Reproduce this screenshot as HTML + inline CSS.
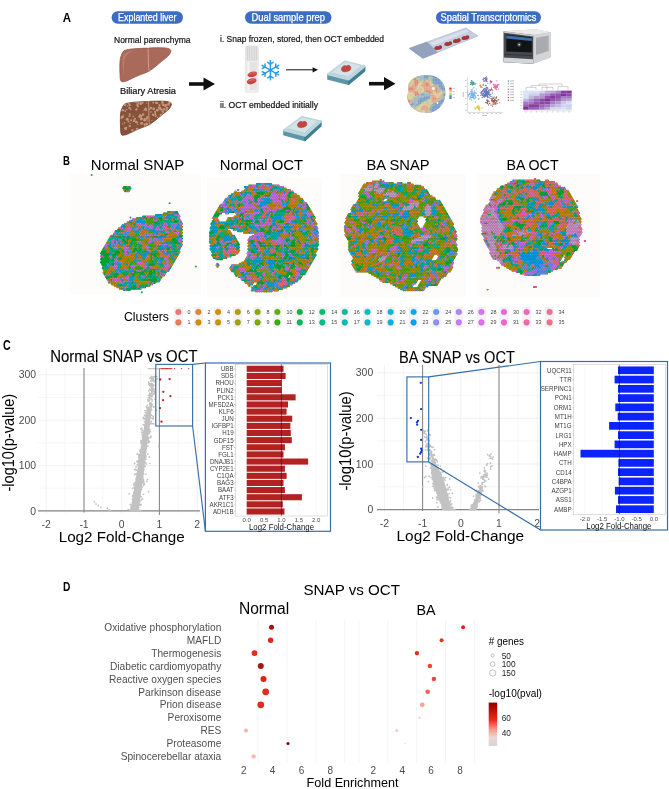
<!DOCTYPE html>
<html><head><meta charset="utf-8"><title>Figure</title>
<style>html,body{margin:0;padding:0;background:#fff}svg{display:block}text{font-family:'Liberation Sans', sans-serif;white-space:pre}</style>
</head><body>
<svg width="669" height="789" viewBox="0 0 669 789">
<rect width="669" height="789" fill="#fff"/>
<g id="panelA"><text x="62.8" y="22.0" font-size="13.5" font-weight="bold" textLength="8.3" lengthAdjust="spacingAndGlyphs" fill="#000">A</text><rect x="111.6" y="11.3" width="71.4" height="12.399999999999999" rx="6.199999999999999" fill="#3d6dc3"/><text x="118.1" y="21.0" font-size="10.2" textLength="58.4" lengthAdjust="spacingAndGlyphs" fill="#fff" stroke="#fff" stroke-width="0.25">Explanted liver</text><rect x="245" y="11.3" width="86.5" height="12.399999999999999" rx="6.199999999999999" fill="#3d6dc3"/><text x="251.5" y="21.0" font-size="10.2" textLength="73.5" lengthAdjust="spacingAndGlyphs" fill="#fff" stroke="#fff" stroke-width="0.25">Dual sample prep</text><rect x="436" y="11.3" width="105" height="12.399999999999999" rx="6.199999999999999" fill="#3d6dc3"/><text x="440.6" y="21.0" font-size="10.2" textLength="95.8" lengthAdjust="spacingAndGlyphs" fill="#fff" stroke="#fff" stroke-width="0.25">Spatial Transcriptomics</text><text x="114.0" y="42.7" font-size="9.2" textLength="76.5" lengthAdjust="spacingAndGlyphs" fill="#111" stroke="#111" stroke-width="0.2">Normal parenchyma</text><g transform="translate(120.1 47.6)"><path d="M3.8,3.2 C8,1 20,0.8 27.5,0.5 L28,1.3 L28.6,0.4 C36,0 43,0 47,0.6 C50,1.2 51.2,2.6 50.7,4 C50,6.5 48,8.8 45.6,10.5 C43,12.4 40.5,14.6 38,16.6 C35.5,18.8 33,21 30.4,22.6 C27.5,24.5 24.5,25.6 21.5,26.6 C17,28.3 12.5,30.5 8.9,32.3 C6,33.7 3,34.6 1.3,34 C0,33 0,30 0,27.9 C-0.3,24 -0.3,19 -0.2,15.2 C0,12 0.4,9.5 1.3,7.6 C2,5.8 2.7,4.2 3.8,3.2 Z" fill="#a96a5b" stroke="#94584a" stroke-width="0.8"/><path d="M3,9 C4,5.5 8,3.5 14,3 C9,5 5.5,7.5 4.5,12 C3.8,16 3.6,22 4,28 C2.6,23 2.2,14 3,9 Z" fill="#c08575" opacity="0.7"/><path d="M28,1.2 C28.2,8 28.2,15 28.5,20 C28.7,22 29.5,23 29.2,24.6" fill="none" stroke="#d9a58c" stroke-width="0.9"/></g><text x="120.0" y="93.7" font-size="9.2" textLength="56.0" lengthAdjust="spacingAndGlyphs" fill="#111" stroke="#111" stroke-width="0.2">Biliary Atresia</text><g transform="translate(120.6 101)"><path d="M3.8,3.2 C8,1 20,0.8 27.5,0.5 L28,1.3 L28.6,0.4 C36,0 43,0 47,0.6 C50,1.2 51.2,2.6 50.7,4 C50,6.5 48,8.8 45.6,10.5 C43,12.4 40.5,14.6 38,16.6 C35.5,18.8 33,21 30.4,22.6 C27.5,24.5 24.5,25.6 21.5,26.6 C17,28.3 12.5,30.5 8.9,32.3 C6,33.7 3,34.6 1.3,34 C0,33 0,30 0,27.9 C-0.3,24 -0.3,19 -0.2,15.2 C0,12 0.4,9.5 1.3,7.6 C2,5.8 2.7,4.2 3.8,3.2 Z" fill="#86523a" stroke="#74442e" stroke-width="0.8"/><clipPath id="lv2"><path d="M3.8,3.2 C8,1 20,0.8 27.5,0.5 L28,1.3 L28.6,0.4 C36,0 43,0 47,0.6 C50,1.2 51.2,2.6 50.7,4 C50,6.5 48,8.8 45.6,10.5 C43,12.4 40.5,14.6 38,16.6 C35.5,18.8 33,21 30.4,22.6 C27.5,24.5 24.5,25.6 21.5,26.6 C17,28.3 12.5,30.5 8.9,32.3 C6,33.7 3,34.6 1.3,34 C0,33 0,30 0,27.9 C-0.3,24 -0.3,19 -0.2,15.2 C0,12 0.4,9.5 1.3,7.6 C2,5.8 2.7,4.2 3.8,3.2 Z"/></clipPath><g clip-path="url(#lv2)" fill="#c4977a"><circle cx="48.8" cy="31.3" r="0.7"/><circle cx="5.2" cy="27.7" r="1.3"/><circle cx="34.5" cy="10.9" r="1.1"/><circle cx="31.3" cy="19.6" r="0.7"/><circle cx="22.5" cy="13.6" r="1.3"/><circle cx="50.7" cy="31.4" r="1.1"/><circle cx="23.2" cy="9.6" r="0.6"/><circle cx="2.4" cy="15.9" r="0.9"/><circle cx="20.0" cy="29.5" r="1.1"/><circle cx="29.0" cy="8.6" r="0.6"/><circle cx="17.3" cy="5.4" r="1.1"/><circle cx="50.9" cy="22.6" r="0.8"/><circle cx="45.7" cy="26.5" r="1.3"/><circle cx="46.3" cy="25.4" r="1.3"/><circle cx="18.7" cy="32.4" r="1.5"/><circle cx="9.1" cy="25.1" r="1.2"/><circle cx="24.1" cy="18.0" r="1.0"/><circle cx="47.2" cy="17.0" r="1.3"/><circle cx="18.7" cy="29.3" r="1.4"/><circle cx="24.1" cy="19.2" r="1.4"/><circle cx="37.2" cy="16.6" r="0.8"/><circle cx="17.2" cy="23.4" r="0.7"/><circle cx="46.4" cy="9.6" r="1.4"/><circle cx="16.5" cy="31.6" r="1.2"/><circle cx="26.2" cy="17.6" r="1.2"/><circle cx="30.4" cy="11.0" r="0.8"/><circle cx="26.6" cy="30.9" r="1.2"/><circle cx="4.8" cy="27.3" r="1.3"/><circle cx="46.4" cy="7.1" r="1.3"/><circle cx="3.9" cy="21.9" r="0.8"/><circle cx="12.3" cy="29.0" r="0.7"/><circle cx="27.1" cy="28.3" r="0.8"/><circle cx="11.5" cy="29.2" r="1.0"/><circle cx="36.8" cy="2.0" r="0.9"/><circle cx="9.6" cy="22.5" r="0.7"/><circle cx="48.7" cy="1.8" r="1.3"/><circle cx="2.1" cy="9.2" r="1.3"/><circle cx="8.9" cy="6.9" r="1.2"/><circle cx="20.3" cy="2.4" r="1.5"/><circle cx="8.6" cy="2.2" r="0.9"/><circle cx="31.8" cy="24.8" r="0.7"/><circle cx="17.9" cy="2.0" r="1.0"/><circle cx="39.3" cy="24.7" r="1.4"/><circle cx="38.8" cy="28.6" r="1.2"/><circle cx="24.6" cy="8.2" r="1.2"/><circle cx="16.8" cy="4.3" r="1.0"/><circle cx="44.7" cy="5.1" r="1.1"/><circle cx="20.6" cy="17.5" r="0.7"/><circle cx="49.0" cy="9.3" r="1.1"/><circle cx="22.0" cy="1.6" r="1.1"/><circle cx="8.0" cy="2.8" r="0.6"/><circle cx="9.1" cy="4.1" r="1.2"/><circle cx="26.4" cy="32.5" r="1.4"/><circle cx="50.7" cy="8.4" r="1.0"/><circle cx="13.5" cy="19.9" r="1.2"/><circle cx="41.0" cy="23.7" r="0.8"/><circle cx="22.2" cy="17.8" r="0.6"/><circle cx="2.8" cy="14.1" r="0.7"/><circle cx="37.2" cy="8.7" r="0.7"/><circle cx="10.1" cy="8.4" r="0.8"/><circle cx="27.0" cy="15.9" r="0.9"/><circle cx="33.1" cy="7.8" r="1.4"/><circle cx="49.2" cy="24.3" r="1.0"/><circle cx="26.6" cy="19.6" r="0.6"/><circle cx="21.9" cy="17.8" r="0.8"/><circle cx="5.7" cy="26.7" r="0.9"/><circle cx="27.0" cy="30.5" r="1.1"/><circle cx="15.5" cy="32.5" r="0.9"/><circle cx="2.0" cy="22.9" r="0.7"/><circle cx="16.3" cy="27.9" r="1.2"/><circle cx="1.8" cy="15.4" r="1.0"/><circle cx="25.3" cy="7.7" r="1.1"/><circle cx="4.7" cy="10.1" r="0.9"/><circle cx="47.8" cy="3.4" r="1.3"/><circle cx="10.6" cy="19.3" r="1.0"/><circle cx="24.2" cy="25.1" r="1.0"/><circle cx="7.1" cy="4.9" r="0.7"/><circle cx="43.5" cy="21.5" r="1.5"/><circle cx="35.6" cy="1.8" r="1.2"/><circle cx="39.9" cy="24.2" r="1.0"/><circle cx="18.9" cy="15.6" r="1.3"/><circle cx="14.4" cy="17.8" r="1.0"/><circle cx="48.7" cy="26.7" r="1.4"/><circle cx="42.8" cy="10.5" r="0.8"/><circle cx="25.4" cy="9.3" r="1.0"/><circle cx="35.0" cy="30.4" r="1.1"/><circle cx="41.9" cy="4.1" r="0.9"/><circle cx="50.9" cy="5.7" r="1.0"/><circle cx="4.3" cy="3.8" r="1.4"/><circle cx="50.4" cy="21.7" r="0.7"/><circle cx="15.8" cy="8.4" r="1.2"/><circle cx="35.1" cy="15.0" r="1.1"/><circle cx="6.6" cy="18.3" r="1.5"/><circle cx="38.8" cy="4.1" r="1.1"/><circle cx="36.8" cy="9.2" r="1.4"/><circle cx="24.0" cy="23.5" r="1.0"/><circle cx="50.8" cy="26.1" r="1.1"/><circle cx="8.2" cy="15.1" r="0.6"/><circle cx="30.8" cy="29.2" r="0.8"/><circle cx="26.5" cy="16.4" r="1.0"/><circle cx="36.5" cy="31.0" r="1.2"/><circle cx="24.6" cy="31.8" r="0.9"/><circle cx="38.3" cy="22.1" r="1.3"/><circle cx="43.6" cy="8.2" r="1.2"/><circle cx="21.1" cy="22.3" r="1.5"/><circle cx="32.7" cy="1.4" r="1.0"/><circle cx="36.6" cy="29.3" r="1.2"/><circle cx="41.8" cy="1.5" r="1.4"/><circle cx="37.5" cy="20.4" r="1.4"/><circle cx="45.2" cy="4.2" r="1.3"/><circle cx="39.4" cy="7.4" r="1.3"/><circle cx="30.3" cy="7.1" r="1.3"/><circle cx="7.9" cy="20.6" r="1.0"/><circle cx="13.7" cy="19.1" r="1.0"/><circle cx="11.2" cy="31.9" r="0.7"/><circle cx="1.2" cy="16.5" r="1.4"/><circle cx="33.9" cy="25.1" r="1.0"/><circle cx="34.7" cy="11.7" r="0.8"/><circle cx="26.1" cy="1.9" r="0.7"/><circle cx="38.7" cy="6.6" r="1.3"/><circle cx="40.2" cy="13.9" r="1.2"/><circle cx="40.4" cy="28.6" r="0.7"/><circle cx="9.1" cy="13.2" r="1.0"/><circle cx="15.7" cy="1.3" r="1.1"/><circle cx="49.3" cy="12.7" r="1.1"/><circle cx="20.1" cy="15.2" r="1.4"/><circle cx="16.4" cy="21.8" r="1.0"/><circle cx="27.9" cy="30.3" r="0.7"/><circle cx="42.2" cy="10.7" r="1.2"/><circle cx="40.8" cy="21.9" r="1.0"/><circle cx="43.0" cy="4.0" r="1.2"/><circle cx="20.6" cy="18.0" r="1.4"/><circle cx="40.9" cy="21.1" r="0.9"/><circle cx="12.6" cy="15.6" r="0.8"/><circle cx="14.9" cy="31.6" r="0.7"/><circle cx="41.9" cy="13.1" r="0.9"/><circle cx="16.9" cy="3.5" r="1.0"/><circle cx="9.3" cy="15.1" r="0.9"/><circle cx="45.7" cy="30.5" r="1.0"/><circle cx="33.0" cy="30.7" r="0.9"/><circle cx="6.0" cy="8.6" r="0.8"/><circle cx="34.9" cy="13.0" r="0.9"/><circle cx="40.8" cy="8.5" r="1.3"/><circle cx="32.6" cy="13.8" r="1.3"/><circle cx="18.1" cy="29.1" r="1.4"/><circle cx="26.1" cy="23.1" r="1.5"/><circle cx="38.1" cy="25.0" r="1.4"/><circle cx="47.8" cy="25.1" r="1.5"/><circle cx="15.6" cy="20.9" r="1.2"/><circle cx="19.4" cy="13.6" r="0.8"/></g><path d="M28,1.2 C28.2,8 28.2,15 28.5,20 C28.7,22 29.5,23 29.2,24.6" fill="none" stroke="#c9a882" stroke-width="0.9"/></g><path d="M189,82.2 L204.5,82.2 L204.5,85.8 L189,85.8 Z" fill="#111"/><path d="M203.5,77.4 L215,84 L203.5,90.6 Z" fill="#111"/><text x="220.0" y="42.4" font-size="9.2" textLength="164.0" lengthAdjust="spacingAndGlyphs" fill="#111" stroke="#111" stroke-width="0.2">i. Snap frozen, stored, then OCT embedded</text><g transform="translate(245.3 45.8)"><rect x="0" y="0" width="13" height="46.5" rx="1.6" fill="#efefef" stroke="#dadada" stroke-width="0.5"/><rect x="0.2" y="0.2" width="12.6" height="15" rx="1.4" fill="#e2e2e2"/><rect x="1.6" y="1" width="0.8" height="13" fill="#d2d2d2"/><rect x="3.9" y="1" width="0.8" height="13" fill="#d2d2d2"/><rect x="6.2" y="1" width="0.8" height="13" fill="#d2d2d2"/><rect x="8.5" y="1" width="0.8" height="13" fill="#d2d2d2"/><rect x="10.8" y="1" width="0.8" height="13" fill="#d2d2d2"/><rect x="1.2" y="16" width="10.6" height="28" rx="1" fill="#e4e4e4"/><rect x="2" y="16" width="2.2" height="28" fill="#f6f6f6"/><path d="M2.2,29 C3.5,25.6 10.5,24.6 11.6,27 C12.2,29.6 9,31 6.5,31.2 C4.2,31.4 2,31 2.2,29 Z" fill="#c9453f"/><path d="M1.6,35.6 C2.6,32.4 9.6,31.6 11,33.6 C12,36 9,38.2 6,38.4 C3.6,38.6 1.4,37.8 1.6,35.6 Z" fill="#c9453f"/><path d="M3.4,28.6 C5.5,27 9,26.6 10.6,27.6 M3,35.6 C5,34 8.4,33.6 10,34.4" fill="none" stroke="#e58a84" stroke-width="0.7"/></g><g stroke="#2a9ee6" stroke-width="1.5" stroke-linecap="round" fill="none"><path d="M270.4,70.1 L270.4,79.7"/><path d="M270.4,76.1 L273.1,77.9"/><path d="M270.4,76.1 L267.7,77.9"/><path d="M270.4,70.1 L262.1,74.9"/><path d="M265.2,73.1 L265.0,76.3"/><path d="M265.2,73.1 L262.3,71.7"/><path d="M270.4,70.1 L262.1,65.3"/><path d="M265.2,67.1 L262.3,68.5"/><path d="M265.2,67.1 L265.0,63.9"/><path d="M270.4,70.1 L270.4,60.5"/><path d="M270.4,64.1 L267.7,62.3"/><path d="M270.4,64.1 L273.1,62.3"/><path d="M270.4,70.1 L278.7,65.3"/><path d="M275.6,67.1 L275.8,63.9"/><path d="M275.6,67.1 L278.5,68.5"/><path d="M270.4,70.1 L278.7,74.9"/><path d="M275.6,73.1 L278.5,71.7"/><path d="M275.6,73.1 L275.8,76.3"/></g><path d="M286,69.8 H314" stroke="#111" stroke-width="1"/><path d="M312.6,67.2 L318,69.8 L312.6,72.4 Z" fill="#111"/><g stroke-linejoin="round"><path d="M328.0,74.4 L348.6,79.6 L348.6,84.2 L328.0,79.0Z" fill="#5b97a8" stroke="#5b97a8" stroke-width="1.6"/><path d="M348.6,79.6 L364.6,66.4 L364.6,71.0 L348.6,84.2Z" fill="#3f7f92" stroke="#3f7f92" stroke-width="1.6"/><path d="M328.0,74.4 L345.0,61.4 L364.6,66.4 L348.6,79.6Z" fill="#bdd5db" stroke="#bdd5db" stroke-width="2"/><path d="M331.7,73.0 L345.3,62.6 L360.9,66.6 L348.1,77.2Z" fill="#d3e4e8" stroke="#d3e4e8" stroke-width="1.2"/><path d="M331.7,73.0 L348.1,77.2 L360.9,66.6" fill="none" stroke="#9dbdc6" stroke-width="0.6"/><path d="M341.4,69.7 C341.0,66.7 344.6,64.7 346.4,66.1 C348.2,64.3 351.4,65.9 350.8,68.7 C350.2,71.1 346.6,71.9 344.4,71.7 C342.6,71.5 341.6,70.9 341.4,69.7 Z" fill="#c5443f" stroke="#a9332f" stroke-width="0.5"/></g><text x="220.0" y="108.2" font-size="9.2" textLength="98.0" lengthAdjust="spacingAndGlyphs" fill="#111" stroke="#111" stroke-width="0.2">ii. OCT embedded initially</text><g stroke-linejoin="round"><path d="M284.0,130.2 L305.0,135.8 L305.0,140.4 L284.0,134.8Z" fill="#5b97a8" stroke="#5b97a8" stroke-width="1.6"/><path d="M305.0,135.8 L320.8,121.4 L320.8,126.0 L305.0,140.4Z" fill="#3f7f92" stroke="#3f7f92" stroke-width="1.6"/><path d="M284.0,130.2 L301.8,117.0 L320.8,121.4 L305.0,135.8Z" fill="#bdd5db" stroke="#bdd5db" stroke-width="2"/><path d="M287.7,128.8 L301.9,118.3 L317.1,121.8 L304.5,133.3Z" fill="#d3e4e8" stroke="#d3e4e8" stroke-width="1.2"/><path d="M287.7,128.8 L304.5,133.3 L317.1,121.8" fill="none" stroke="#9dbdc6" stroke-width="0.6"/><path d="M297.5,125.6 C297.1,122.6 300.7,120.6 302.5,122.0 C304.3,120.2 307.5,121.8 306.9,124.6 C306.3,127.0 302.7,127.8 300.5,127.6 C298.7,127.4 297.7,126.8 297.5,125.6 Z" fill="#c5443f" stroke="#a9332f" stroke-width="0.5"/></g><path d="M369,81.9 L385.0,81.9 L385.0,85.5 L369,85.5 Z" fill="#111"/><path d="M384.0,77.10000000000001 L395.5,83.7 L384.0,90.3 Z" fill="#111"/><path d="M409.4,48.4 L465.9,27.9 L478,36 L422.9,58.3 Z" fill="#c5cfe1" stroke="#9aa8c0" stroke-width="0.5" stroke-linejoin="round"/><path d="M409.4,48.4 L426.9,42.1 L437.4,52.4 L422.9,58.3 Z" fill="#93a3bd" stroke="#8797b2" stroke-width="0.5" stroke-linejoin="round"/><path d="M430,42.5 L466,29.4 L469,31.4 L433,45.4 Z" fill="#dde4ef" opacity="0.8"/><path d="M434.3,49.2 C434.0,46.2 437.4,45.4 438.2,46.4 C439.8,44.4 442.59999999999997,45.4 442.09999999999997,48.0 C440.8,50.2 435.8,50.5 434.3,49.2 Z" fill="#a83434"/><path d="M444.3,45.2 C444.0,42.2 447.4,41.4 448.2,42.4 C449.8,40.4 452.59999999999997,41.4 452.09999999999997,44.0 C450.8,46.2 445.8,46.5 444.3,45.2 Z" fill="#a83434"/><path d="M452.90000000000003,42.2 C452.6,39.2 456.0,38.4 456.8,39.4 C458.40000000000003,37.4 461.2,38.4 460.7,41.0 C459.40000000000003,43.2 454.40000000000003,43.5 452.90000000000003,42.2 Z" fill="#a83434"/><path d="M461.5,39.2 C461.2,36.2 464.59999999999997,35.4 465.4,36.4 C467.0,34.4 469.79999999999995,35.4 469.29999999999995,38.0 C468.0,40.2 463.0,40.5 461.5,39.2 Z" fill="#a83434"/><path d="M503.6,31.2 L536,29.3 L550.7,32.2 L550.7,57.5 L533.2,63.7 L503.6,62.3 Z" fill="#c4c6c8"/><path d="M503.6,31.2 L536,29.3 L550.7,32.2 L533.2,35 Z" fill="#ebebeb"/><path d="M533.2,35 L550.7,32.2 L550.7,57.5 L533.2,63.7 Z" fill="#d2d4d6"/><path d="M536,38 L548.6,35.6 L548.6,51 L536,55 Z" fill="#a9abae"/><path d="M503.6,31.4 L533.2,35 L533.2,63.7 L503.6,62.3 Z" fill="#474a50"/><path d="M503.6,31.2 L533.2,35 L533.2,36.4 L503.6,32.8 Z" fill="#cfcfcf"/><path d="M506.3,34.6 L531.8,37.4 L531.8,52.4 L506.3,51.4 Z" fill="#121316"/><path d="M506.3,35.4 L531.8,38.2 L531.8,41 L506.3,38.6 Z" fill="#3d70aa"/><circle cx="519.2" cy="44.6" r="2.3" fill="#3a3d42"/><circle cx="519.2" cy="44.6" r="0.9" fill="#d8d8d8"/><path d="M503.6,57.6 L533.2,59.2 L533.2,63.7 L503.6,62.3 Z" fill="#d4d5d7"/><path d="M505,54.4 L532,55.6" stroke="#2c2e32" stroke-width="0.8"/><clipPath id="mm"><path d="M408.2,90 C406.6,83 412,77.6 419,76 C426,74 435,75 440,79.4 C445.4,84 446.6,92 444.4,99.4 C442.6,105.6 437.6,110.6 431,112.4 C424,114 415.6,112 411.4,107 C408.6,103 406,98.4 407.6,94 Z"/></clipPath><path d="M408.2,90 C406.6,83 412,77.6 419,76 C426,74 435,75 440,79.4 C445.4,84 446.6,92 444.4,99.4 C442.6,105.6 437.6,110.6 431,112.4 C424,114 415.6,112 411.4,107 C408.6,103 406,98.4 407.6,94 Z" fill="#decfa6"/><g clip-path="url(#mm)"><rect x="406.0" y="74.0" width="1.6" height="1.6" fill="#c5cc9c"/><rect x="409.0" y="74.0" width="1.6" height="1.6" fill="#e4a78e"/><rect x="410.5" y="74.0" width="1.6" height="1.6" fill="#b7c79a"/><rect x="412.0" y="74.0" width="1.6" height="1.6" fill="#7c9ccb"/><rect x="413.5" y="74.0" width="1.6" height="1.6" fill="#7c9ccb"/><rect x="415.0" y="74.0" width="1.6" height="1.6" fill="#7c9ccb"/><rect x="416.5" y="74.0" width="1.6" height="1.6" fill="#7c9ccb"/><rect x="418.0" y="74.0" width="1.6" height="1.6" fill="#9bb7d6"/><rect x="419.5" y="74.0" width="1.6" height="1.6" fill="#9bb7d6"/><rect x="421.0" y="74.0" width="1.6" height="1.6" fill="#9bb7d6"/><rect x="422.5" y="74.0" width="1.6" height="1.6" fill="#9bb7d6"/><rect x="424.0" y="74.0" width="1.6" height="1.6" fill="#7c9ccb"/><rect x="425.5" y="74.0" width="1.6" height="1.6" fill="#7c9ccb"/><rect x="427.0" y="74.0" width="1.6" height="1.6" fill="#9bb7d6"/><rect x="428.5" y="74.0" width="1.6" height="1.6" fill="#7c9ccb"/><rect x="430.0" y="74.0" width="1.6" height="1.6" fill="#7c9ccb"/><rect x="431.5" y="74.0" width="1.6" height="1.6" fill="#7c9ccb"/><rect x="433.0" y="74.0" width="1.6" height="1.6" fill="#7c9ccb"/><rect x="434.5" y="74.0" width="1.6" height="1.6" fill="#7c9ccb"/><rect x="436.0" y="74.0" width="1.6" height="1.6" fill="#7c9ccb"/><rect x="437.5" y="74.0" width="1.6" height="1.6" fill="#7c9ccb"/><rect x="439.0" y="74.0" width="1.6" height="1.6" fill="#7c9ccb"/><rect x="440.5" y="74.0" width="1.6" height="1.6" fill="#7c9ccb"/><rect x="442.0" y="74.0" width="1.6" height="1.6" fill="#9bb7d6"/><rect x="443.5" y="74.0" width="1.6" height="1.6" fill="#9bb7d6"/><rect x="445.0" y="74.0" width="1.6" height="1.6" fill="#9bb7d6"/><rect x="409.0" y="75.5" width="1.6" height="1.6" fill="#e4a78e"/><rect x="410.5" y="75.5" width="1.6" height="1.6" fill="#b7c79a"/><rect x="412.0" y="75.5" width="1.6" height="1.6" fill="#9bb7d6"/><rect x="413.5" y="75.5" width="1.6" height="1.6" fill="#7c9ccb"/><rect x="415.0" y="75.5" width="1.6" height="1.6" fill="#7c9ccb"/><rect x="416.5" y="75.5" width="1.6" height="1.6" fill="#7c9ccb"/><rect x="418.0" y="75.5" width="1.6" height="1.6" fill="#9bb7d6"/><rect x="419.5" y="75.5" width="1.6" height="1.6" fill="#9bb7d6"/><rect x="421.0" y="75.5" width="1.6" height="1.6" fill="#9bb7d6"/><rect x="422.5" y="75.5" width="1.6" height="1.6" fill="#9bb7d6"/><rect x="424.0" y="75.5" width="1.6" height="1.6" fill="#7c9ccb"/><rect x="425.5" y="75.5" width="1.6" height="1.6" fill="#7c9ccb"/><rect x="427.0" y="75.5" width="1.6" height="1.6" fill="#7c9ccb"/><rect x="428.5" y="75.5" width="1.6" height="1.6" fill="#9bb7d6"/><rect x="430.0" y="75.5" width="1.6" height="1.6" fill="#9bb7d6"/><rect x="431.5" y="75.5" width="1.6" height="1.6" fill="#7c9ccb"/><rect x="433.0" y="75.5" width="1.6" height="1.6" fill="#7c9ccb"/><rect x="434.5" y="75.5" width="1.6" height="1.6" fill="#7c9ccb"/><rect x="436.0" y="75.5" width="1.6" height="1.6" fill="#7c9ccb"/><rect x="437.5" y="75.5" width="1.6" height="1.6" fill="#7c9ccb"/><rect x="439.0" y="75.5" width="1.6" height="1.6" fill="#7c9ccb"/><rect x="440.5" y="75.5" width="1.6" height="1.6" fill="#7c9ccb"/><rect x="442.0" y="75.5" width="1.6" height="1.6" fill="#9bb7d6"/><rect x="443.5" y="75.5" width="1.6" height="1.6" fill="#9bb7d6"/><rect x="445.0" y="75.5" width="1.6" height="1.6" fill="#9bb7d6"/><rect x="407.5" y="77.0" width="1.6" height="1.6" fill="#e4a78e"/><rect x="409.0" y="77.0" width="1.6" height="1.6" fill="#e4a78e"/><rect x="410.5" y="77.0" width="1.6" height="1.6" fill="#e4a78e"/><rect x="412.0" y="77.0" width="1.6" height="1.6" fill="#b7c79a"/><rect x="413.5" y="77.0" width="1.6" height="1.6" fill="#b7c79a"/><rect x="415.0" y="77.0" width="1.6" height="1.6" fill="#b7c79a"/><rect x="416.5" y="77.0" width="1.6" height="1.6" fill="#b7c79a"/><rect x="418.0" y="77.0" width="1.6" height="1.6" fill="#9bb7d6"/><rect x="419.5" y="77.0" width="1.6" height="1.6" fill="#9bb7d6"/><rect x="421.0" y="77.0" width="1.6" height="1.6" fill="#9bb7d6"/><rect x="422.5" y="77.0" width="1.6" height="1.6" fill="#9bb7d6"/><rect x="424.0" y="77.0" width="1.6" height="1.6" fill="#7c9ccb"/><rect x="425.5" y="77.0" width="1.6" height="1.6" fill="#7c9ccb"/><rect x="427.0" y="77.0" width="1.6" height="1.6" fill="#7c9ccb"/><rect x="428.5" y="77.0" width="1.6" height="1.6" fill="#b7c79a"/><rect x="430.0" y="77.0" width="1.6" height="1.6" fill="#b7c79a"/><rect x="431.5" y="77.0" width="1.6" height="1.6" fill="#b7c79a"/><rect x="433.0" y="77.0" width="1.6" height="1.6" fill="#7c9ccb"/><rect x="434.5" y="77.0" width="1.6" height="1.6" fill="#7c9ccb"/><rect x="436.0" y="77.0" width="1.6" height="1.6" fill="#7c9ccb"/><rect x="437.5" y="77.0" width="1.6" height="1.6" fill="#7c9ccb"/><rect x="439.0" y="77.0" width="1.6" height="1.6" fill="#7c9ccb"/><rect x="440.5" y="77.0" width="1.6" height="1.6" fill="#9bb7d6"/><rect x="442.0" y="77.0" width="1.6" height="1.6" fill="#9bb7d6"/><rect x="443.5" y="77.0" width="1.6" height="1.6" fill="#7c9ccb"/><rect x="445.0" y="77.0" width="1.6" height="1.6" fill="#7c9ccb"/><rect x="412.0" y="78.5" width="1.6" height="1.6" fill="#e4a78e"/><rect x="413.5" y="78.5" width="1.6" height="1.6" fill="#d98a7a"/><rect x="415.0" y="78.5" width="1.6" height="1.6" fill="#d98a7a"/><rect x="416.5" y="78.5" width="1.6" height="1.6" fill="#b7c79a"/><rect x="418.0" y="78.5" width="1.6" height="1.6" fill="#b7c79a"/><rect x="419.5" y="78.5" width="1.6" height="1.6" fill="#9bb7d6"/><rect x="421.0" y="78.5" width="1.6" height="1.6" fill="#9bb7d6"/><rect x="422.5" y="78.5" width="1.6" height="1.6" fill="#9bb7d6"/><rect x="424.0" y="78.5" width="1.6" height="1.6" fill="#8fb9b0"/><rect x="425.5" y="78.5" width="1.6" height="1.6" fill="#8fb9b0"/><rect x="427.0" y="78.5" width="1.6" height="1.6" fill="#8fb9b0"/><rect x="428.5" y="78.5" width="1.6" height="1.6" fill="#b7c79a"/><rect x="430.0" y="78.5" width="1.6" height="1.6" fill="#b7c79a"/><rect x="431.5" y="78.5" width="1.6" height="1.6" fill="#8fb9b0"/><rect x="433.0" y="78.5" width="1.6" height="1.6" fill="#7c9ccb"/><rect x="434.5" y="78.5" width="1.6" height="1.6" fill="#7c9ccb"/><rect x="436.0" y="78.5" width="1.6" height="1.6" fill="#7c9ccb"/><rect x="437.5" y="78.5" width="1.6" height="1.6" fill="#7c9ccb"/><rect x="439.0" y="78.5" width="1.6" height="1.6" fill="#7c9ccb"/><rect x="440.5" y="78.5" width="1.6" height="1.6" fill="#9bb7d6"/><rect x="442.0" y="78.5" width="1.6" height="1.6" fill="#9bb7d6"/><rect x="443.5" y="78.5" width="1.6" height="1.6" fill="#7c9ccb"/><rect x="445.0" y="78.5" width="1.6" height="1.6" fill="#7c9ccb"/><rect x="406.0" y="80.0" width="1.6" height="1.6" fill="#c5cc9c"/><rect x="407.5" y="80.0" width="1.6" height="1.6" fill="#c5cc9c"/><rect x="409.0" y="80.0" width="1.6" height="1.6" fill="#c5cc9c"/><rect x="410.5" y="80.0" width="1.6" height="1.6" fill="#c5cc9c"/><rect x="413.5" y="80.0" width="1.6" height="1.6" fill="#e4a78e"/><rect x="415.0" y="80.0" width="1.6" height="1.6" fill="#d98a7a"/><rect x="416.5" y="80.0" width="1.6" height="1.6" fill="#d98a7a"/><rect x="418.0" y="80.0" width="1.6" height="1.6" fill="#b7c79a"/><rect x="419.5" y="80.0" width="1.6" height="1.6" fill="#b7c79a"/><rect x="421.0" y="80.0" width="1.6" height="1.6" fill="#b7c79a"/><rect x="422.5" y="80.0" width="1.6" height="1.6" fill="#b7c79a"/><rect x="424.0" y="80.0" width="1.6" height="1.6" fill="#8fb9b0"/><rect x="428.5" y="80.0" width="1.6" height="1.6" fill="#e4a78e"/><rect x="431.5" y="80.0" width="1.6" height="1.6" fill="#8fb9b0"/><rect x="433.0" y="80.0" width="1.6" height="1.6" fill="#7c9ccb"/><rect x="434.5" y="80.0" width="1.6" height="1.6" fill="#7c9ccb"/><rect x="436.0" y="80.0" width="1.6" height="1.6" fill="#7c9ccb"/><rect x="437.5" y="80.0" width="1.6" height="1.6" fill="#7c9ccb"/><rect x="439.0" y="80.0" width="1.6" height="1.6" fill="#7c9ccb"/><rect x="440.5" y="80.0" width="1.6" height="1.6" fill="#9bb7d6"/><rect x="442.0" y="80.0" width="1.6" height="1.6" fill="#9bb7d6"/><rect x="443.5" y="80.0" width="1.6" height="1.6" fill="#7c9ccb"/><rect x="445.0" y="80.0" width="1.6" height="1.6" fill="#7c9ccb"/><rect x="406.0" y="81.5" width="1.6" height="1.6" fill="#c5cc9c"/><rect x="407.5" y="81.5" width="1.6" height="1.6" fill="#c5cc9c"/><rect x="409.0" y="81.5" width="1.6" height="1.6" fill="#c5cc9c"/><rect x="410.5" y="81.5" width="1.6" height="1.6" fill="#c5cc9c"/><rect x="413.5" y="81.5" width="1.6" height="1.6" fill="#e4a78e"/><rect x="415.0" y="81.5" width="1.6" height="1.6" fill="#d98a7a"/><rect x="416.5" y="81.5" width="1.6" height="1.6" fill="#d98a7a"/><rect x="418.0" y="81.5" width="1.6" height="1.6" fill="#e4a78e"/><rect x="422.5" y="81.5" width="1.6" height="1.6" fill="#e4a78e"/><rect x="424.0" y="81.5" width="1.6" height="1.6" fill="#e4a78e"/><rect x="425.5" y="81.5" width="1.6" height="1.6" fill="#e4a78e"/><rect x="427.0" y="81.5" width="1.6" height="1.6" fill="#e4a78e"/><rect x="431.5" y="81.5" width="1.6" height="1.6" fill="#8fb9b0"/><rect x="433.0" y="81.5" width="1.6" height="1.6" fill="#7c9ccb"/><rect x="434.5" y="81.5" width="1.6" height="1.6" fill="#7c9ccb"/><rect x="436.0" y="81.5" width="1.6" height="1.6" fill="#7c9ccb"/><rect x="437.5" y="81.5" width="1.6" height="1.6" fill="#7c9ccb"/><rect x="439.0" y="81.5" width="1.6" height="1.6" fill="#7c9ccb"/><rect x="440.5" y="81.5" width="1.6" height="1.6" fill="#7c9ccb"/><rect x="442.0" y="81.5" width="1.6" height="1.6" fill="#9bb7d6"/><rect x="443.5" y="81.5" width="1.6" height="1.6" fill="#9bb7d6"/><rect x="445.0" y="81.5" width="1.6" height="1.6" fill="#7c9ccb"/><rect x="406.0" y="83.0" width="1.6" height="1.6" fill="#c5cc9c"/><rect x="407.5" y="83.0" width="1.6" height="1.6" fill="#c5cc9c"/><rect x="409.0" y="83.0" width="1.6" height="1.6" fill="#c5cc9c"/><rect x="410.5" y="83.0" width="1.6" height="1.6" fill="#c5cc9c"/><rect x="413.5" y="83.0" width="1.6" height="1.6" fill="#e4a78e"/><rect x="415.0" y="83.0" width="1.6" height="1.6" fill="#d98a7a"/><rect x="416.5" y="83.0" width="1.6" height="1.6" fill="#d98a7a"/><rect x="422.5" y="83.0" width="1.6" height="1.6" fill="#e4a78e"/><rect x="424.0" y="83.0" width="1.6" height="1.6" fill="#e4a78e"/><rect x="425.5" y="83.0" width="1.6" height="1.6" fill="#d98a7a"/><rect x="427.0" y="83.0" width="1.6" height="1.6" fill="#d98a7a"/><rect x="428.5" y="83.0" width="1.6" height="1.6" fill="#e4a78e"/><rect x="431.5" y="83.0" width="1.6" height="1.6" fill="#c5cc9c"/><rect x="433.0" y="83.0" width="1.6" height="1.6" fill="#8fb9b0"/><rect x="434.5" y="83.0" width="1.6" height="1.6" fill="#7c9ccb"/><rect x="436.0" y="83.0" width="1.6" height="1.6" fill="#7c9ccb"/><rect x="437.5" y="83.0" width="1.6" height="1.6" fill="#7c9ccb"/><rect x="439.0" y="83.0" width="1.6" height="1.6" fill="#7c9ccb"/><rect x="440.5" y="83.0" width="1.6" height="1.6" fill="#7c9ccb"/><rect x="442.0" y="83.0" width="1.6" height="1.6" fill="#9bb7d6"/><rect x="443.5" y="83.0" width="1.6" height="1.6" fill="#9bb7d6"/><rect x="445.0" y="83.0" width="1.6" height="1.6" fill="#9bb7d6"/><rect x="406.0" y="84.5" width="1.6" height="1.6" fill="#c5cc9c"/><rect x="407.5" y="84.5" width="1.6" height="1.6" fill="#c5cc9c"/><rect x="412.0" y="84.5" width="1.6" height="1.6" fill="#e4a78e"/><rect x="413.5" y="84.5" width="1.6" height="1.6" fill="#e4a78e"/><rect x="415.0" y="84.5" width="1.6" height="1.6" fill="#d98a7a"/><rect x="416.5" y="84.5" width="1.6" height="1.6" fill="#e4a78e"/><rect x="421.0" y="84.5" width="1.6" height="1.6" fill="#e4a78e"/><rect x="422.5" y="84.5" width="1.6" height="1.6" fill="#e4a78e"/><rect x="424.0" y="84.5" width="1.6" height="1.6" fill="#e4a78e"/><rect x="425.5" y="84.5" width="1.6" height="1.6" fill="#d98a7a"/><rect x="427.0" y="84.5" width="1.6" height="1.6" fill="#d98a7a"/><rect x="428.5" y="84.5" width="1.6" height="1.6" fill="#e4a78e"/><rect x="433.0" y="84.5" width="1.6" height="1.6" fill="#b7c79a"/><rect x="434.5" y="84.5" width="1.6" height="1.6" fill="#9bb7d6"/><rect x="436.0" y="84.5" width="1.6" height="1.6" fill="#9bb7d6"/><rect x="437.5" y="84.5" width="1.6" height="1.6" fill="#9bb7d6"/><rect x="439.0" y="84.5" width="1.6" height="1.6" fill="#7c9ccb"/><rect x="440.5" y="84.5" width="1.6" height="1.6" fill="#7c9ccb"/><rect x="442.0" y="84.5" width="1.6" height="1.6" fill="#9bb7d6"/><rect x="443.5" y="84.5" width="1.6" height="1.6" fill="#9bb7d6"/><rect x="445.0" y="84.5" width="1.6" height="1.6" fill="#9bb7d6"/><rect x="406.0" y="86.0" width="1.6" height="1.6" fill="#c5cc9c"/><rect x="409.0" y="86.0" width="1.6" height="1.6" fill="#e4a78e"/><rect x="410.5" y="86.0" width="1.6" height="1.6" fill="#e4a78e"/><rect x="412.0" y="86.0" width="1.6" height="1.6" fill="#e4a78e"/><rect x="413.5" y="86.0" width="1.6" height="1.6" fill="#e4a78e"/><rect x="415.0" y="86.0" width="1.6" height="1.6" fill="#e4a78e"/><rect x="422.5" y="86.0" width="1.6" height="1.6" fill="#e4a78e"/><rect x="424.0" y="86.0" width="1.6" height="1.6" fill="#e4a78e"/><rect x="425.5" y="86.0" width="1.6" height="1.6" fill="#e4a78e"/><rect x="427.0" y="86.0" width="1.6" height="1.6" fill="#e4a78e"/><rect x="428.5" y="86.0" width="1.6" height="1.6" fill="#e4a78e"/><rect x="430.0" y="86.0" width="1.6" height="1.6" fill="#e4a78e"/><rect x="431.5" y="86.0" width="1.6" height="1.6" fill="#e4a78e"/><rect x="433.0" y="86.0" width="1.6" height="1.6" fill="#e4a78e"/><rect x="434.5" y="86.0" width="1.6" height="1.6" fill="#e4a78e"/><rect x="436.0" y="86.0" width="1.6" height="1.6" fill="#b7c79a"/><rect x="437.5" y="86.0" width="1.6" height="1.6" fill="#9bb7d6"/><rect x="439.0" y="86.0" width="1.6" height="1.6" fill="#7c9ccb"/><rect x="440.5" y="86.0" width="1.6" height="1.6" fill="#7c9ccb"/><rect x="442.0" y="86.0" width="1.6" height="1.6" fill="#7c9ccb"/><rect x="443.5" y="86.0" width="1.6" height="1.6" fill="#9bb7d6"/><rect x="445.0" y="86.0" width="1.6" height="1.6" fill="#9bb7d6"/><rect x="407.5" y="87.5" width="1.6" height="1.6" fill="#e4a78e"/><rect x="409.0" y="87.5" width="1.6" height="1.6" fill="#d98a7a"/><rect x="410.5" y="87.5" width="1.6" height="1.6" fill="#d98a7a"/><rect x="412.0" y="87.5" width="1.6" height="1.6" fill="#d98a7a"/><rect x="413.5" y="87.5" width="1.6" height="1.6" fill="#e4a78e"/><rect x="415.0" y="87.5" width="1.6" height="1.6" fill="#e4a78e"/><rect x="419.5" y="87.5" width="1.6" height="1.6" fill="#c5cc9c"/><rect x="424.0" y="87.5" width="1.6" height="1.6" fill="#e4a78e"/><rect x="425.5" y="87.5" width="1.6" height="1.6" fill="#e4a78e"/><rect x="427.0" y="87.5" width="1.6" height="1.6" fill="#e4a78e"/><rect x="428.5" y="87.5" width="1.6" height="1.6" fill="#e4a78e"/><rect x="430.0" y="87.5" width="1.6" height="1.6" fill="#e4a78e"/><rect x="431.5" y="87.5" width="1.6" height="1.6" fill="#e4a78e"/><rect x="433.0" y="87.5" width="1.6" height="1.6" fill="#e4a78e"/><rect x="434.5" y="87.5" width="1.6" height="1.6" fill="#e4a78e"/><rect x="436.0" y="87.5" width="1.6" height="1.6" fill="#d98a7a"/><rect x="437.5" y="87.5" width="1.6" height="1.6" fill="#b7c79a"/><rect x="439.0" y="87.5" width="1.6" height="1.6" fill="#9bb7d6"/><rect x="440.5" y="87.5" width="1.6" height="1.6" fill="#7c9ccb"/><rect x="442.0" y="87.5" width="1.6" height="1.6" fill="#7c9ccb"/><rect x="443.5" y="87.5" width="1.6" height="1.6" fill="#7c9ccb"/><rect x="445.0" y="87.5" width="1.6" height="1.6" fill="#9bb7d6"/><rect x="407.5" y="89.0" width="1.6" height="1.6" fill="#e4a78e"/><rect x="409.0" y="89.0" width="1.6" height="1.6" fill="#d98a7a"/><rect x="410.5" y="89.0" width="1.6" height="1.6" fill="#d98a7a"/><rect x="412.0" y="89.0" width="1.6" height="1.6" fill="#d98a7a"/><rect x="413.5" y="89.0" width="1.6" height="1.6" fill="#e4a78e"/><rect x="418.0" y="89.0" width="1.6" height="1.6" fill="#c5cc9c"/><rect x="419.5" y="89.0" width="1.6" height="1.6" fill="#c5cc9c"/><rect x="424.0" y="89.0" width="1.6" height="1.6" fill="#e4a78e"/><rect x="425.5" y="89.0" width="1.6" height="1.6" fill="#e4a78e"/><rect x="427.0" y="89.0" width="1.6" height="1.6" fill="#e4a78e"/><rect x="428.5" y="89.0" width="1.6" height="1.6" fill="#e4a78e"/><rect x="430.0" y="89.0" width="1.6" height="1.6" fill="#e4a78e"/><rect x="431.5" y="89.0" width="1.6" height="1.6" fill="#e4a78e"/><rect x="433.0" y="89.0" width="1.6" height="1.6" fill="#e4a78e"/><rect x="434.5" y="89.0" width="1.6" height="1.6" fill="#e4a78e"/><rect x="436.0" y="89.0" width="1.6" height="1.6" fill="#d98a7a"/><rect x="437.5" y="89.0" width="1.6" height="1.6" fill="#b7c79a"/><rect x="439.0" y="89.0" width="1.6" height="1.6" fill="#b7c79a"/><rect x="440.5" y="89.0" width="1.6" height="1.6" fill="#9bb7d6"/><rect x="442.0" y="89.0" width="1.6" height="1.6" fill="#7c9ccb"/><rect x="443.5" y="89.0" width="1.6" height="1.6" fill="#7c9ccb"/><rect x="445.0" y="89.0" width="1.6" height="1.6" fill="#9bb7d6"/><rect x="409.0" y="90.5" width="1.6" height="1.6" fill="#e4a78e"/><rect x="410.5" y="90.5" width="1.6" height="1.6" fill="#e4a78e"/><rect x="412.0" y="90.5" width="1.6" height="1.6" fill="#e4a78e"/><rect x="413.5" y="90.5" width="1.6" height="1.6" fill="#e4a78e"/><rect x="415.0" y="90.5" width="1.6" height="1.6" fill="#e4a78e"/><rect x="416.5" y="90.5" width="1.6" height="1.6" fill="#e4a78e"/><rect x="419.5" y="90.5" width="1.6" height="1.6" fill="#c5cc9c"/><rect x="424.0" y="90.5" width="1.6" height="1.6" fill="#e4a78e"/><rect x="425.5" y="90.5" width="1.6" height="1.6" fill="#d98a7a"/><rect x="427.0" y="90.5" width="1.6" height="1.6" fill="#d98a7a"/><rect x="428.5" y="90.5" width="1.6" height="1.6" fill="#d98a7a"/><rect x="430.0" y="90.5" width="1.6" height="1.6" fill="#e4a78e"/><rect x="431.5" y="90.5" width="1.6" height="1.6" fill="#e4a78e"/><rect x="434.5" y="90.5" width="1.6" height="1.6" fill="#e4a78e"/><rect x="436.0" y="90.5" width="1.6" height="1.6" fill="#d98a7a"/><rect x="437.5" y="90.5" width="1.6" height="1.6" fill="#b7c79a"/><rect x="439.0" y="90.5" width="1.6" height="1.6" fill="#e4a78e"/><rect x="442.0" y="90.5" width="1.6" height="1.6" fill="#8fb9b0"/><rect x="443.5" y="90.5" width="1.6" height="1.6" fill="#b7c79a"/><rect x="445.0" y="90.5" width="1.6" height="1.6" fill="#9bb7d6"/><rect x="413.5" y="92.0" width="1.6" height="1.6" fill="#e4a78e"/><rect x="415.0" y="92.0" width="1.6" height="1.6" fill="#d98a7a"/><rect x="416.5" y="92.0" width="1.6" height="1.6" fill="#d98a7a"/><rect x="422.5" y="92.0" width="1.6" height="1.6" fill="#b7c79a"/><rect x="424.0" y="92.0" width="1.6" height="1.6" fill="#b7c79a"/><rect x="425.5" y="92.0" width="1.6" height="1.6" fill="#b7c79a"/><rect x="427.0" y="92.0" width="1.6" height="1.6" fill="#b7c79a"/><rect x="428.5" y="92.0" width="1.6" height="1.6" fill="#d98a7a"/><rect x="430.0" y="92.0" width="1.6" height="1.6" fill="#d98a7a"/><rect x="431.5" y="92.0" width="1.6" height="1.6" fill="#e4a78e"/><rect x="436.0" y="92.0" width="1.6" height="1.6" fill="#e4a78e"/><rect x="437.5" y="92.0" width="1.6" height="1.6" fill="#e4a78e"/><rect x="443.5" y="92.0" width="1.6" height="1.6" fill="#b7c79a"/><rect x="445.0" y="92.0" width="1.6" height="1.6" fill="#9bb7d6"/><rect x="413.5" y="93.5" width="1.6" height="1.6" fill="#e4a78e"/><rect x="415.0" y="93.5" width="1.6" height="1.6" fill="#d98a7a"/><rect x="416.5" y="93.5" width="1.6" height="1.6" fill="#d98a7a"/><rect x="418.0" y="93.5" width="1.6" height="1.6" fill="#d98a7a"/><rect x="419.5" y="93.5" width="1.6" height="1.6" fill="#b7c79a"/><rect x="421.0" y="93.5" width="1.6" height="1.6" fill="#7c9ccb"/><rect x="422.5" y="93.5" width="1.6" height="1.6" fill="#7c9ccb"/><rect x="424.0" y="93.5" width="1.6" height="1.6" fill="#9bb7d6"/><rect x="425.5" y="93.5" width="1.6" height="1.6" fill="#9bb7d6"/><rect x="427.0" y="93.5" width="1.6" height="1.6" fill="#9bb7d6"/><rect x="428.5" y="93.5" width="1.6" height="1.6" fill="#9bb7d6"/><rect x="430.0" y="93.5" width="1.6" height="1.6" fill="#b7c79a"/><rect x="431.5" y="93.5" width="1.6" height="1.6" fill="#b7c79a"/><rect x="442.0" y="93.5" width="1.6" height="1.6" fill="#8fb9b0"/><rect x="443.5" y="93.5" width="1.6" height="1.6" fill="#7c9ccb"/><rect x="445.0" y="93.5" width="1.6" height="1.6" fill="#7c9ccb"/><rect x="406.0" y="95.0" width="1.6" height="1.6" fill="#e4a78e"/><rect x="410.5" y="95.0" width="1.6" height="1.6" fill="#c5cc9c"/><rect x="415.0" y="95.0" width="1.6" height="1.6" fill="#d98a7a"/><rect x="416.5" y="95.0" width="1.6" height="1.6" fill="#b7c79a"/><rect x="418.0" y="95.0" width="1.6" height="1.6" fill="#9bb7d6"/><rect x="419.5" y="95.0" width="1.6" height="1.6" fill="#9bb7d6"/><rect x="421.0" y="95.0" width="1.6" height="1.6" fill="#9bb7d6"/><rect x="422.5" y="95.0" width="1.6" height="1.6" fill="#9bb7d6"/><rect x="424.0" y="95.0" width="1.6" height="1.6" fill="#9bb7d6"/><rect x="425.5" y="95.0" width="1.6" height="1.6" fill="#9bb7d6"/><rect x="427.0" y="95.0" width="1.6" height="1.6" fill="#9bb7d6"/><rect x="428.5" y="95.0" width="1.6" height="1.6" fill="#9bb7d6"/><rect x="430.0" y="95.0" width="1.6" height="1.6" fill="#9bb7d6"/><rect x="431.5" y="95.0" width="1.6" height="1.6" fill="#e4a78e"/><rect x="433.0" y="95.0" width="1.6" height="1.6" fill="#e4a78e"/><rect x="440.5" y="95.0" width="1.6" height="1.6" fill="#e4a78e"/><rect x="442.0" y="95.0" width="1.6" height="1.6" fill="#b7c79a"/><rect x="443.5" y="95.0" width="1.6" height="1.6" fill="#7c9ccb"/><rect x="445.0" y="95.0" width="1.6" height="1.6" fill="#7c9ccb"/><rect x="406.0" y="96.5" width="1.6" height="1.6" fill="#e4a78e"/><rect x="413.5" y="96.5" width="1.6" height="1.6" fill="#e4a78e"/><rect x="415.0" y="96.5" width="1.6" height="1.6" fill="#b7c79a"/><rect x="416.5" y="96.5" width="1.6" height="1.6" fill="#9bb7d6"/><rect x="418.0" y="96.5" width="1.6" height="1.6" fill="#9bb7d6"/><rect x="419.5" y="96.5" width="1.6" height="1.6" fill="#9bb7d6"/><rect x="421.0" y="96.5" width="1.6" height="1.6" fill="#9bb7d6"/><rect x="422.5" y="96.5" width="1.6" height="1.6" fill="#9bb7d6"/><rect x="424.0" y="96.5" width="1.6" height="1.6" fill="#7c9ccb"/><rect x="425.5" y="96.5" width="1.6" height="1.6" fill="#7c9ccb"/><rect x="427.0" y="96.5" width="1.6" height="1.6" fill="#7c9ccb"/><rect x="428.5" y="96.5" width="1.6" height="1.6" fill="#7c9ccb"/><rect x="430.0" y="96.5" width="1.6" height="1.6" fill="#b7c79a"/><rect x="431.5" y="96.5" width="1.6" height="1.6" fill="#e4a78e"/><rect x="433.0" y="96.5" width="1.6" height="1.6" fill="#e4a78e"/><rect x="434.5" y="96.5" width="1.6" height="1.6" fill="#e4a78e"/><rect x="439.0" y="96.5" width="1.6" height="1.6" fill="#e4a78e"/><rect x="440.5" y="96.5" width="1.6" height="1.6" fill="#b7c79a"/><rect x="442.0" y="96.5" width="1.6" height="1.6" fill="#9bb7d6"/><rect x="443.5" y="96.5" width="1.6" height="1.6" fill="#9bb7d6"/><rect x="445.0" y="96.5" width="1.6" height="1.6" fill="#7c9ccb"/><rect x="406.0" y="98.0" width="1.6" height="1.6" fill="#e4a78e"/><rect x="412.0" y="98.0" width="1.6" height="1.6" fill="#b7c79a"/><rect x="413.5" y="98.0" width="1.6" height="1.6" fill="#9bb7d6"/><rect x="415.0" y="98.0" width="1.6" height="1.6" fill="#9bb7d6"/><rect x="416.5" y="98.0" width="1.6" height="1.6" fill="#9bb7d6"/><rect x="418.0" y="98.0" width="1.6" height="1.6" fill="#9bb7d6"/><rect x="419.5" y="98.0" width="1.6" height="1.6" fill="#7c9ccb"/><rect x="421.0" y="98.0" width="1.6" height="1.6" fill="#7c9ccb"/><rect x="422.5" y="98.0" width="1.6" height="1.6" fill="#7c9ccb"/><rect x="424.0" y="98.0" width="1.6" height="1.6" fill="#7c9ccb"/><rect x="425.5" y="98.0" width="1.6" height="1.6" fill="#7c9ccb"/><rect x="427.0" y="98.0" width="1.6" height="1.6" fill="#7c9ccb"/><rect x="428.5" y="98.0" width="1.6" height="1.6" fill="#8fb9b0"/><rect x="431.5" y="98.0" width="1.6" height="1.6" fill="#e4a78e"/><rect x="433.0" y="98.0" width="1.6" height="1.6" fill="#d98a7a"/><rect x="434.5" y="98.0" width="1.6" height="1.6" fill="#d98a7a"/><rect x="436.0" y="98.0" width="1.6" height="1.6" fill="#e4a78e"/><rect x="437.5" y="98.0" width="1.6" height="1.6" fill="#e4a78e"/><rect x="439.0" y="98.0" width="1.6" height="1.6" fill="#b7c79a"/><rect x="440.5" y="98.0" width="1.6" height="1.6" fill="#b7c79a"/><rect x="442.0" y="98.0" width="1.6" height="1.6" fill="#9bb7d6"/><rect x="443.5" y="98.0" width="1.6" height="1.6" fill="#7c9ccb"/><rect x="445.0" y="98.0" width="1.6" height="1.6" fill="#7c9ccb"/><rect x="406.0" y="99.5" width="1.6" height="1.6" fill="#d98a7a"/><rect x="407.5" y="99.5" width="1.6" height="1.6" fill="#d98a7a"/><rect x="409.0" y="99.5" width="1.6" height="1.6" fill="#e4a78e"/><rect x="410.5" y="99.5" width="1.6" height="1.6" fill="#e4a78e"/><rect x="412.0" y="99.5" width="1.6" height="1.6" fill="#b7c79a"/><rect x="413.5" y="99.5" width="1.6" height="1.6" fill="#9bb7d6"/><rect x="415.0" y="99.5" width="1.6" height="1.6" fill="#9bb7d6"/><rect x="416.5" y="99.5" width="1.6" height="1.6" fill="#9bb7d6"/><rect x="418.0" y="99.5" width="1.6" height="1.6" fill="#7c9ccb"/><rect x="419.5" y="99.5" width="1.6" height="1.6" fill="#7c9ccb"/><rect x="421.0" y="99.5" width="1.6" height="1.6" fill="#7c9ccb"/><rect x="422.5" y="99.5" width="1.6" height="1.6" fill="#7c9ccb"/><rect x="424.0" y="99.5" width="1.6" height="1.6" fill="#7c9ccb"/><rect x="425.5" y="99.5" width="1.6" height="1.6" fill="#8fb9b0"/><rect x="427.0" y="99.5" width="1.6" height="1.6" fill="#c5cc9c"/><rect x="431.5" y="99.5" width="1.6" height="1.6" fill="#e4a78e"/><rect x="433.0" y="99.5" width="1.6" height="1.6" fill="#e4a78e"/><rect x="434.5" y="99.5" width="1.6" height="1.6" fill="#e4a78e"/><rect x="436.0" y="99.5" width="1.6" height="1.6" fill="#b7c79a"/><rect x="437.5" y="99.5" width="1.6" height="1.6" fill="#b7c79a"/><rect x="439.0" y="99.5" width="1.6" height="1.6" fill="#b7c79a"/><rect x="440.5" y="99.5" width="1.6" height="1.6" fill="#7c9ccb"/><rect x="442.0" y="99.5" width="1.6" height="1.6" fill="#7c9ccb"/><rect x="443.5" y="99.5" width="1.6" height="1.6" fill="#7c9ccb"/><rect x="445.0" y="99.5" width="1.6" height="1.6" fill="#7c9ccb"/><rect x="406.0" y="101.0" width="1.6" height="1.6" fill="#d98a7a"/><rect x="407.5" y="101.0" width="1.6" height="1.6" fill="#d98a7a"/><rect x="409.0" y="101.0" width="1.6" height="1.6" fill="#d98a7a"/><rect x="410.5" y="101.0" width="1.6" height="1.6" fill="#b7c79a"/><rect x="412.0" y="101.0" width="1.6" height="1.6" fill="#9bb7d6"/><rect x="413.5" y="101.0" width="1.6" height="1.6" fill="#9bb7d6"/><rect x="415.0" y="101.0" width="1.6" height="1.6" fill="#9bb7d6"/><rect x="416.5" y="101.0" width="1.6" height="1.6" fill="#9bb7d6"/><rect x="418.0" y="101.0" width="1.6" height="1.6" fill="#7c9ccb"/><rect x="419.5" y="101.0" width="1.6" height="1.6" fill="#7c9ccb"/><rect x="421.0" y="101.0" width="1.6" height="1.6" fill="#7c9ccb"/><rect x="422.5" y="101.0" width="1.6" height="1.6" fill="#8fb9b0"/><rect x="424.0" y="101.0" width="1.6" height="1.6" fill="#c5cc9c"/><rect x="425.5" y="101.0" width="1.6" height="1.6" fill="#c5cc9c"/><rect x="427.0" y="101.0" width="1.6" height="1.6" fill="#c5cc9c"/><rect x="431.5" y="101.0" width="1.6" height="1.6" fill="#e4a78e"/><rect x="433.0" y="101.0" width="1.6" height="1.6" fill="#b7c79a"/><rect x="434.5" y="101.0" width="1.6" height="1.6" fill="#b7c79a"/><rect x="436.0" y="101.0" width="1.6" height="1.6" fill="#b7c79a"/><rect x="437.5" y="101.0" width="1.6" height="1.6" fill="#9bb7d6"/><rect x="439.0" y="101.0" width="1.6" height="1.6" fill="#7c9ccb"/><rect x="440.5" y="101.0" width="1.6" height="1.6" fill="#7c9ccb"/><rect x="442.0" y="101.0" width="1.6" height="1.6" fill="#7c9ccb"/><rect x="443.5" y="101.0" width="1.6" height="1.6" fill="#7c9ccb"/><rect x="445.0" y="101.0" width="1.6" height="1.6" fill="#7c9ccb"/><rect x="406.0" y="102.5" width="1.6" height="1.6" fill="#d98a7a"/><rect x="407.5" y="102.5" width="1.6" height="1.6" fill="#d98a7a"/><rect x="409.0" y="102.5" width="1.6" height="1.6" fill="#e4a78e"/><rect x="410.5" y="102.5" width="1.6" height="1.6" fill="#b7c79a"/><rect x="412.0" y="102.5" width="1.6" height="1.6" fill="#7c9ccb"/><rect x="413.5" y="102.5" width="1.6" height="1.6" fill="#9bb7d6"/><rect x="415.0" y="102.5" width="1.6" height="1.6" fill="#9bb7d6"/><rect x="416.5" y="102.5" width="1.6" height="1.6" fill="#9bb7d6"/><rect x="418.0" y="102.5" width="1.6" height="1.6" fill="#7c9ccb"/><rect x="419.5" y="102.5" width="1.6" height="1.6" fill="#7c9ccb"/><rect x="421.0" y="102.5" width="1.6" height="1.6" fill="#c5cc9c"/><rect x="422.5" y="102.5" width="1.6" height="1.6" fill="#c5cc9c"/><rect x="425.5" y="102.5" width="1.6" height="1.6" fill="#c5cc9c"/><rect x="427.0" y="102.5" width="1.6" height="1.6" fill="#c5cc9c"/><rect x="428.5" y="102.5" width="1.6" height="1.6" fill="#c5cc9c"/><rect x="433.0" y="102.5" width="1.6" height="1.6" fill="#8fb9b0"/><rect x="434.5" y="102.5" width="1.6" height="1.6" fill="#7c9ccb"/><rect x="436.0" y="102.5" width="1.6" height="1.6" fill="#7c9ccb"/><rect x="437.5" y="102.5" width="1.6" height="1.6" fill="#7c9ccb"/><rect x="439.0" y="102.5" width="1.6" height="1.6" fill="#7c9ccb"/><rect x="440.5" y="102.5" width="1.6" height="1.6" fill="#7c9ccb"/><rect x="442.0" y="102.5" width="1.6" height="1.6" fill="#9bb7d6"/><rect x="443.5" y="102.5" width="1.6" height="1.6" fill="#9bb7d6"/><rect x="445.0" y="102.5" width="1.6" height="1.6" fill="#9bb7d6"/><rect x="406.0" y="104.0" width="1.6" height="1.6" fill="#e4a78e"/><rect x="407.5" y="104.0" width="1.6" height="1.6" fill="#e4a78e"/><rect x="409.0" y="104.0" width="1.6" height="1.6" fill="#b7c79a"/><rect x="410.5" y="104.0" width="1.6" height="1.6" fill="#7c9ccb"/><rect x="412.0" y="104.0" width="1.6" height="1.6" fill="#7c9ccb"/><rect x="413.5" y="104.0" width="1.6" height="1.6" fill="#9bb7d6"/><rect x="415.0" y="104.0" width="1.6" height="1.6" fill="#9bb7d6"/><rect x="416.5" y="104.0" width="1.6" height="1.6" fill="#7c9ccb"/><rect x="418.0" y="104.0" width="1.6" height="1.6" fill="#8fb9b0"/><rect x="427.0" y="104.0" width="1.6" height="1.6" fill="#c5cc9c"/><rect x="428.5" y="104.0" width="1.6" height="1.6" fill="#c5cc9c"/><rect x="431.5" y="104.0" width="1.6" height="1.6" fill="#8fb9b0"/><rect x="433.0" y="104.0" width="1.6" height="1.6" fill="#8fb9b0"/><rect x="434.5" y="104.0" width="1.6" height="1.6" fill="#7c9ccb"/><rect x="436.0" y="104.0" width="1.6" height="1.6" fill="#7c9ccb"/><rect x="437.5" y="104.0" width="1.6" height="1.6" fill="#7c9ccb"/><rect x="439.0" y="104.0" width="1.6" height="1.6" fill="#7c9ccb"/><rect x="440.5" y="104.0" width="1.6" height="1.6" fill="#9bb7d6"/><rect x="442.0" y="104.0" width="1.6" height="1.6" fill="#9bb7d6"/><rect x="443.5" y="104.0" width="1.6" height="1.6" fill="#9bb7d6"/><rect x="445.0" y="104.0" width="1.6" height="1.6" fill="#9bb7d6"/><rect x="406.0" y="105.5" width="1.6" height="1.6" fill="#e4a78e"/><rect x="407.5" y="105.5" width="1.6" height="1.6" fill="#b7c79a"/><rect x="409.0" y="105.5" width="1.6" height="1.6" fill="#8fb9b0"/><rect x="410.5" y="105.5" width="1.6" height="1.6" fill="#8fb9b0"/><rect x="412.0" y="105.5" width="1.6" height="1.6" fill="#b7c79a"/><rect x="413.5" y="105.5" width="1.6" height="1.6" fill="#9bb7d6"/><rect x="415.0" y="105.5" width="1.6" height="1.6" fill="#9bb7d6"/><rect x="416.5" y="105.5" width="1.6" height="1.6" fill="#b7c79a"/><rect x="422.5" y="105.5" width="1.6" height="1.6" fill="#e4a78e"/><rect x="424.0" y="105.5" width="1.6" height="1.6" fill="#e4a78e"/><rect x="425.5" y="105.5" width="1.6" height="1.6" fill="#e4a78e"/><rect x="430.0" y="105.5" width="1.6" height="1.6" fill="#8fb9b0"/><rect x="431.5" y="105.5" width="1.6" height="1.6" fill="#8fb9b0"/><rect x="433.0" y="105.5" width="1.6" height="1.6" fill="#7c9ccb"/><rect x="434.5" y="105.5" width="1.6" height="1.6" fill="#7c9ccb"/><rect x="436.0" y="105.5" width="1.6" height="1.6" fill="#7c9ccb"/><rect x="437.5" y="105.5" width="1.6" height="1.6" fill="#7c9ccb"/><rect x="439.0" y="105.5" width="1.6" height="1.6" fill="#7c9ccb"/><rect x="440.5" y="105.5" width="1.6" height="1.6" fill="#9bb7d6"/><rect x="442.0" y="105.5" width="1.6" height="1.6" fill="#9bb7d6"/><rect x="443.5" y="105.5" width="1.6" height="1.6" fill="#9bb7d6"/><rect x="445.0" y="105.5" width="1.6" height="1.6" fill="#9bb7d6"/><rect x="406.0" y="107.0" width="1.6" height="1.6" fill="#b7c79a"/><rect x="407.5" y="107.0" width="1.6" height="1.6" fill="#e4a78e"/><rect x="409.0" y="107.0" width="1.6" height="1.6" fill="#b7c79a"/><rect x="410.5" y="107.0" width="1.6" height="1.6" fill="#b7c79a"/><rect x="412.0" y="107.0" width="1.6" height="1.6" fill="#b7c79a"/><rect x="413.5" y="107.0" width="1.6" height="1.6" fill="#b7c79a"/><rect x="415.0" y="107.0" width="1.6" height="1.6" fill="#b7c79a"/><rect x="421.0" y="107.0" width="1.6" height="1.6" fill="#e4a78e"/><rect x="422.5" y="107.0" width="1.6" height="1.6" fill="#e4a78e"/><rect x="424.0" y="107.0" width="1.6" height="1.6" fill="#e4a78e"/><rect x="425.5" y="107.0" width="1.6" height="1.6" fill="#e4a78e"/><rect x="427.0" y="107.0" width="1.6" height="1.6" fill="#e4a78e"/><rect x="428.5" y="107.0" width="1.6" height="1.6" fill="#b7c79a"/><rect x="430.0" y="107.0" width="1.6" height="1.6" fill="#b7c79a"/><rect x="431.5" y="107.0" width="1.6" height="1.6" fill="#7c9ccb"/><rect x="433.0" y="107.0" width="1.6" height="1.6" fill="#7c9ccb"/><rect x="434.5" y="107.0" width="1.6" height="1.6" fill="#7c9ccb"/><rect x="436.0" y="107.0" width="1.6" height="1.6" fill="#7c9ccb"/><rect x="437.5" y="107.0" width="1.6" height="1.6" fill="#7c9ccb"/><rect x="439.0" y="107.0" width="1.6" height="1.6" fill="#7c9ccb"/><rect x="440.5" y="107.0" width="1.6" height="1.6" fill="#7c9ccb"/><rect x="442.0" y="107.0" width="1.6" height="1.6" fill="#9bb7d6"/><rect x="443.5" y="107.0" width="1.6" height="1.6" fill="#9bb7d6"/><rect x="445.0" y="107.0" width="1.6" height="1.6" fill="#9bb7d6"/><rect x="406.0" y="108.5" width="1.6" height="1.6" fill="#b7c79a"/><rect x="407.5" y="108.5" width="1.6" height="1.6" fill="#d98a7a"/><rect x="409.0" y="108.5" width="1.6" height="1.6" fill="#b7c79a"/><rect x="410.5" y="108.5" width="1.6" height="1.6" fill="#b7c79a"/><rect x="412.0" y="108.5" width="1.6" height="1.6" fill="#b7c79a"/><rect x="413.5" y="108.5" width="1.6" height="1.6" fill="#b7c79a"/><rect x="421.0" y="108.5" width="1.6" height="1.6" fill="#e4a78e"/><rect x="422.5" y="108.5" width="1.6" height="1.6" fill="#e4a78e"/><rect x="424.0" y="108.5" width="1.6" height="1.6" fill="#e4a78e"/><rect x="425.5" y="108.5" width="1.6" height="1.6" fill="#e4a78e"/><rect x="427.0" y="108.5" width="1.6" height="1.6" fill="#e4a78e"/><rect x="428.5" y="108.5" width="1.6" height="1.6" fill="#b7c79a"/><rect x="430.0" y="108.5" width="1.6" height="1.6" fill="#7c9ccb"/><rect x="431.5" y="108.5" width="1.6" height="1.6" fill="#7c9ccb"/><rect x="433.0" y="108.5" width="1.6" height="1.6" fill="#7c9ccb"/><rect x="434.5" y="108.5" width="1.6" height="1.6" fill="#7c9ccb"/><rect x="436.0" y="108.5" width="1.6" height="1.6" fill="#7c9ccb"/><rect x="437.5" y="108.5" width="1.6" height="1.6" fill="#7c9ccb"/><rect x="439.0" y="108.5" width="1.6" height="1.6" fill="#7c9ccb"/><rect x="440.5" y="108.5" width="1.6" height="1.6" fill="#7c9ccb"/><rect x="442.0" y="108.5" width="1.6" height="1.6" fill="#7c9ccb"/><rect x="443.5" y="108.5" width="1.6" height="1.6" fill="#9bb7d6"/><rect x="445.0" y="108.5" width="1.6" height="1.6" fill="#9bb7d6"/><rect x="406.0" y="110.0" width="1.6" height="1.6" fill="#b7c79a"/><rect x="407.5" y="110.0" width="1.6" height="1.6" fill="#b7c79a"/><rect x="409.0" y="110.0" width="1.6" height="1.6" fill="#d98a7a"/><rect x="410.5" y="110.0" width="1.6" height="1.6" fill="#d98a7a"/><rect x="412.0" y="110.0" width="1.6" height="1.6" fill="#d98a7a"/><rect x="413.5" y="110.0" width="1.6" height="1.6" fill="#e4a78e"/><rect x="416.5" y="110.0" width="1.6" height="1.6" fill="#c5cc9c"/><rect x="418.0" y="110.0" width="1.6" height="1.6" fill="#c5cc9c"/><rect x="419.5" y="110.0" width="1.6" height="1.6" fill="#c5cc9c"/><rect x="421.0" y="110.0" width="1.6" height="1.6" fill="#c5cc9c"/><rect x="425.5" y="110.0" width="1.6" height="1.6" fill="#e4a78e"/><rect x="427.0" y="110.0" width="1.6" height="1.6" fill="#b7c79a"/><rect x="428.5" y="110.0" width="1.6" height="1.6" fill="#b7c79a"/><rect x="430.0" y="110.0" width="1.6" height="1.6" fill="#9bb7d6"/><rect x="431.5" y="110.0" width="1.6" height="1.6" fill="#7c9ccb"/><rect x="433.0" y="110.0" width="1.6" height="1.6" fill="#7c9ccb"/><rect x="434.5" y="110.0" width="1.6" height="1.6" fill="#7c9ccb"/><rect x="436.0" y="110.0" width="1.6" height="1.6" fill="#7c9ccb"/><rect x="437.5" y="110.0" width="1.6" height="1.6" fill="#7c9ccb"/><rect x="439.0" y="110.0" width="1.6" height="1.6" fill="#7c9ccb"/><rect x="440.5" y="110.0" width="1.6" height="1.6" fill="#7c9ccb"/><rect x="442.0" y="110.0" width="1.6" height="1.6" fill="#7c9ccb"/><rect x="443.5" y="110.0" width="1.6" height="1.6" fill="#9bb7d6"/><rect x="445.0" y="110.0" width="1.6" height="1.6" fill="#9bb7d6"/><rect x="406.0" y="111.5" width="1.6" height="1.6" fill="#b7c79a"/><rect x="407.5" y="111.5" width="1.6" height="1.6" fill="#b7c79a"/><rect x="409.0" y="111.5" width="1.6" height="1.6" fill="#d98a7a"/><rect x="410.5" y="111.5" width="1.6" height="1.6" fill="#d98a7a"/><rect x="412.0" y="111.5" width="1.6" height="1.6" fill="#d98a7a"/><rect x="413.5" y="111.5" width="1.6" height="1.6" fill="#e4a78e"/><rect x="418.0" y="111.5" width="1.6" height="1.6" fill="#c5cc9c"/><rect x="419.5" y="111.5" width="1.6" height="1.6" fill="#c5cc9c"/><rect x="421.0" y="111.5" width="1.6" height="1.6" fill="#c5cc9c"/><rect x="425.5" y="111.5" width="1.6" height="1.6" fill="#e4a78e"/><rect x="427.0" y="111.5" width="1.6" height="1.6" fill="#b7c79a"/><rect x="428.5" y="111.5" width="1.6" height="1.6" fill="#b7c79a"/><rect x="430.0" y="111.5" width="1.6" height="1.6" fill="#9bb7d6"/><rect x="431.5" y="111.5" width="1.6" height="1.6" fill="#7c9ccb"/><rect x="433.0" y="111.5" width="1.6" height="1.6" fill="#7c9ccb"/><rect x="434.5" y="111.5" width="1.6" height="1.6" fill="#7c9ccb"/><rect x="436.0" y="111.5" width="1.6" height="1.6" fill="#7c9ccb"/><rect x="437.5" y="111.5" width="1.6" height="1.6" fill="#7c9ccb"/><rect x="439.0" y="111.5" width="1.6" height="1.6" fill="#7c9ccb"/><rect x="440.5" y="111.5" width="1.6" height="1.6" fill="#7c9ccb"/><rect x="442.0" y="111.5" width="1.6" height="1.6" fill="#7c9ccb"/><rect x="443.5" y="111.5" width="1.6" height="1.6" fill="#9bb7d6"/><rect x="445.0" y="111.5" width="1.6" height="1.6" fill="#9bb7d6"/><rect x="406.0" y="113.0" width="1.6" height="1.6" fill="#b7c79a"/><rect x="407.5" y="113.0" width="1.6" height="1.6" fill="#b7c79a"/><rect x="409.0" y="113.0" width="1.6" height="1.6" fill="#d98a7a"/><rect x="410.5" y="113.0" width="1.6" height="1.6" fill="#e4a78e"/><rect x="412.0" y="113.0" width="1.6" height="1.6" fill="#e4a78e"/><rect x="413.5" y="113.0" width="1.6" height="1.6" fill="#e4a78e"/><rect x="418.0" y="113.0" width="1.6" height="1.6" fill="#c5cc9c"/><rect x="419.5" y="113.0" width="1.6" height="1.6" fill="#c5cc9c"/><rect x="421.0" y="113.0" width="1.6" height="1.6" fill="#c5cc9c"/><rect x="424.0" y="113.0" width="1.6" height="1.6" fill="#d98a7a"/><rect x="425.5" y="113.0" width="1.6" height="1.6" fill="#b7c79a"/><rect x="427.0" y="113.0" width="1.6" height="1.6" fill="#b7c79a"/><rect x="428.5" y="113.0" width="1.6" height="1.6" fill="#9bb7d6"/><rect x="430.0" y="113.0" width="1.6" height="1.6" fill="#9bb7d6"/><rect x="431.5" y="113.0" width="1.6" height="1.6" fill="#7c9ccb"/><rect x="433.0" y="113.0" width="1.6" height="1.6" fill="#7c9ccb"/><rect x="434.5" y="113.0" width="1.6" height="1.6" fill="#7c9ccb"/><rect x="436.0" y="113.0" width="1.6" height="1.6" fill="#7c9ccb"/><rect x="437.5" y="113.0" width="1.6" height="1.6" fill="#7c9ccb"/><rect x="439.0" y="113.0" width="1.6" height="1.6" fill="#7c9ccb"/><rect x="440.5" y="113.0" width="1.6" height="1.6" fill="#7c9ccb"/><rect x="442.0" y="113.0" width="1.6" height="1.6" fill="#7c9ccb"/><rect x="443.5" y="113.0" width="1.6" height="1.6" fill="#9bb7d6"/><rect x="445.0" y="113.0" width="1.6" height="1.6" fill="#9bb7d6"/><circle cx="433.3" cy="88.4" r="1.5" fill="#fff"/><circle cx="437.4" cy="103" r="0.9" fill="#fff"/></g><rect x="449.4" y="87.60" width="2.2" height="1.45" fill="#d7301f"/><rect x="449.4" y="89.00" width="2.2" height="1.45" fill="#ef6548"/><rect x="449.4" y="90.40" width="2.2" height="1.45" fill="#fdae61"/><rect x="449.4" y="91.80" width="2.2" height="1.45" fill="#fee08b"/><rect x="449.4" y="93.20" width="2.2" height="1.45" fill="#a6d96a"/><rect x="449.4" y="94.60" width="2.2" height="1.45" fill="#66bd63"/><rect x="449.4" y="96.00" width="2.2" height="1.45" fill="#3288bd"/><rect x="449.4" y="97.40" width="2.2" height="1.45" fill="#4a5bb0"/><rect x="452.6" y="88.4" width="2.4" height="0.6" fill="#b5b5b5"/><rect x="452.6" y="91.4" width="2.4" height="0.6" fill="#b5b5b5"/><rect x="452.6" y="94.4" width="2.4" height="0.6" fill="#b5b5b5"/><rect x="452.6" y="97.4" width="2.4" height="0.6" fill="#b5b5b5"/><g><path d="M471.6 83.6h0M472.6 82.9h0M475.8 83.6h0M472.3 83.4h0M471.9 83.3h0M472.0 83.6h0M471.4 80.7h0M472.6 84.1h0M472.3 85.1h0M473.4 82.7h0M472.0 83.3h0M472.2 81.6h0M472.7 83.8h0M471.8 80.7h0M471.2 84.0h0M472.4 84.1h0M472.1 83.8h0M473.0 82.6h0M473.3 82.2h0M471.6 83.4h0M475.5 83.9h0M473.5 84.6h0M470.9 82.4h0M473.4 82.4h0M472.4 84.1h0M472.2 83.4h0M473.9 83.6h0M473.1 82.9h0M470.5 84.4h0M473.4 84.3h0M471.2 82.8h0M474.2 82.8h0M474.3 84.2h0M472.7 84.1h0M471.5 89.9h0M472.3 83.5h0M471.9 82.1h0M471.9 83.1h0M473.8 83.9h0M470.6 82.3h0M472.4 81.9h0M472.7 82.7h0" stroke="#45a596" stroke-width="1.3" stroke-linecap="round" fill="none"/><path d="M484.8 78.6h0M486.4 79.4h0M483.7 78.1h0M485.9 79.7h0M485.7 79.6h0M485.3 80.9h0M486.4 79.7h0M486.1 78.9h0M486.5 79.5h0M483.4 79.4h0M486.0 79.4h0M483.9 80.6h0M486.2 81.0h0M485.8 79.7h0M486.9 78.2h0M486.7 80.9h0M486.0 79.4h0M486.5 79.3h0M487.9 83.3h0M484.9 78.4h0M486.9 79.5h0M485.7 79.7h0M485.0 78.5h0M486.2 79.6h0M485.6 79.2h0M485.6 79.2h0M485.5 77.9h0M485.8 78.7h0M486.2 76.9h0M487.0 81.4h0M485.9 79.0h0M483.0 79.5h0" stroke="#8d66bc" stroke-width="1.3" stroke-linecap="round" fill="none"/><path d="M491.7 82.1h0M491.1 81.9h0M490.3 80.8h0M491.1 82.3h0M491.3 81.6h0M490.4 81.3h0M490.7 81.9h0M491.7 81.3h0" stroke="#a9529c" stroke-width="1.3" stroke-linecap="round" fill="none"/><path d="M495.1 86.7h0M495.8 86.8h0M497.5 85.0h0M494.9 86.6h0M498.0 85.1h0M494.4 86.4h0M495.4 87.4h0M498.3 89.1h0M494.9 84.3h0M495.1 86.2h0M497.2 87.4h0M496.5 85.8h0M495.8 88.5h0M493.4 84.4h0M497.6 84.6h0M495.1 86.3h0M495.3 86.1h0M495.8 87.3h0M495.3 86.6h0M495.2 87.4h0M495.1 86.9h0M495.6 86.7h0M495.6 86.9h0M495.9 86.7h0M490.3 83.1h0M496.1 85.9h0M496.3 87.4h0M495.8 85.4h0M495.7 87.0h0M496.3 87.6h0M497.5 85.9h0M495.6 86.5h0M493.6 87.3h0M495.4 86.6h0M495.6 86.9h0M496.4 89.5h0M495.2 87.0h0M495.7 86.9h0M496.1 85.2h0M495.9 86.3h0M495.5 86.7h0M495.5 87.6h0M495.0 88.7h0M496.9 80.8h0M498.9 84.3h0M497.2 85.8h0M497.1 86.5h0M495.6 88.0h0M494.0 85.5h0M495.7 86.7h0M495.2 87.1h0M494.0 87.2h0M494.0 85.3h0M496.0 87.8h0M495.1 87.2h0" stroke="#e56aa6" stroke-width="1.3" stroke-linecap="round" fill="none"/><path d="M471.2 94.4h0M473.0 95.8h0M475.1 98.0h0M471.5 93.6h0M470.6 93.1h0M472.8 91.2h0M473.3 97.9h0M472.3 94.7h0M472.2 94.6h0M471.0 95.1h0M473.5 93.1h0M469.1 94.5h0M472.1 97.5h0M472.2 94.7h0M472.8 94.7h0M473.5 95.1h0M473.7 95.6h0M474.4 91.0h0M472.5 94.9h0M473.7 93.8h0M472.6 94.7h0M472.4 95.1h0M470.8 96.5h0M474.3 98.9h0M469.4 93.1h0M472.8 94.8h0M472.1 94.9h0M474.3 92.7h0M472.8 89.0h0M472.3 96.8h0M471.6 92.5h0M472.8 97.2h0M470.3 98.3h0M467.8 90.9h0M474.3 95.1h0M472.9 95.5h0M475.8 97.3h0M473.1 95.5h0M475.3 92.7h0M472.9 96.1h0M469.1 96.8h0M476.2 89.1h0M472.6 94.8h0M468.0 94.9h0M471.1 96.0h0M468.0 96.0h0M467.8 92.9h0M473.6 94.2h0M472.4 95.0h0M473.2 94.2h0M475.4 102.0h0M469.6 94.1h0M471.9 93.5h0M473.0 94.7h0M473.1 94.1h0M471.2 94.0h0M471.6 100.0h0M472.7 95.0h0M472.0 95.2h0M473.8 87.6h0M474.5 95.4h0M473.6 96.9h0M473.5 97.7h0M470.8 91.4h0M472.9 94.3h0M472.9 93.3h0M472.1 95.4h0M474.3 94.3h0M471.3 95.0h0M473.5 97.0h0M475.2 96.7h0M474.6 94.3h0M472.4 94.6h0M472.8 94.7h0M472.7 95.2h0M474.7 95.7h0M472.8 94.4h0M473.4 98.0h0M472.8 95.0h0M472.5 95.1h0M471.5 93.4h0M475.0 93.7h0M471.4 97.6h0M473.1 94.5h0M472.6 94.6h0M472.7 95.3h0M472.7 94.7h0M472.1 92.5h0M471.9 92.0h0M473.6 95.4h0M476.4 93.2h0M475.3 96.0h0M473.4 93.5h0M470.6 97.3h0M469.7 99.2h0" stroke="#76b6e6" stroke-width="1.3" stroke-linecap="round" fill="none"/><path d="M484.9 92.7h0M486.2 92.7h0M484.5 95.6h0M485.8 92.0h0M485.6 92.8h0M486.8 91.6h0M486.1 91.8h0M485.5 95.3h0M478.0 95.4h0M482.7 94.9h0M487.6 92.1h0M487.0 88.0h0M485.2 92.3h0M485.3 92.9h0M478.8 99.0h0M488.7 91.9h0M486.0 92.7h0M485.4 93.6h0M489.0 93.0h0M486.5 96.1h0M484.0 91.4h0M487.5 92.4h0M486.8 96.0h0M484.1 90.1h0M485.7 93.0h0M488.0 100.5h0M483.4 93.2h0M485.6 89.2h0M484.3 91.0h0M486.3 87.5h0M481.5 93.9h0M483.0 93.2h0M489.9 95.8h0M485.1 89.2h0M489.7 95.1h0M485.0 92.7h0M487.5 95.7h0M481.4 91.7h0M486.1 92.6h0M485.5 93.1h0M483.2 84.5h0M484.2 88.3h0M485.6 92.6h0M485.8 92.5h0M481.7 92.5h0M485.8 91.2h0M485.4 93.0h0M487.6 92.5h0M485.0 91.1h0M488.3 90.1h0M484.5 95.2h0M492.7 90.8h0M485.6 94.3h0M487.3 88.1h0M488.6 94.3h0M486.4 90.8h0M483.4 93.6h0M485.9 92.2h0M486.5 91.9h0M485.7 92.1h0M486.2 92.0h0M484.6 97.0h0M485.8 92.9h0M487.4 94.0h0M489.7 89.9h0M486.9 89.4h0M485.6 94.7h0M485.1 90.9h0M485.8 92.8h0M481.6 91.8h0M485.1 93.2h0M485.7 95.8h0M485.5 92.5h0M484.1 81.4h0M487.5 97.5h0M486.0 93.3h0M480.5 92.8h0M482.7 95.5h0M484.9 92.6h0M484.7 94.4h0M487.4 87.6h0M491.0 96.3h0M487.8 94.2h0M483.6 95.2h0M486.9 100.4h0M487.8 91.8h0M485.5 92.6h0M488.1 97.0h0M486.3 93.1h0M487.0 95.3h0M486.4 91.0h0M486.6 94.4h0M486.3 92.2h0M487.4 93.8h0M488.8 90.5h0M484.1 88.7h0M482.5 90.7h0M485.5 93.3h0M484.2 90.8h0M485.4 96.3h0M483.2 95.6h0M483.8 90.3h0M481.9 87.4h0M485.6 92.8h0M485.4 85.4h0M486.5 92.4h0M485.3 94.6h0M488.3 93.1h0M485.6 93.2h0M485.4 92.9h0M492.4 93.1h0M485.4 91.9h0M485.9 92.9h0M486.4 90.5h0M483.4 89.7h0M486.6 92.7h0M486.1 94.8h0M486.8 93.7h0M487.0 99.7h0M486.2 94.3h0M485.1 92.6h0M486.3 89.3h0M485.0 92.6h0M489.2 97.8h0M487.8 93.4h0M486.2 85.7h0M483.2 85.3h0M482.5 91.3h0M487.0 96.0h0M485.1 90.9h0M484.4 94.6h0M486.2 93.7h0M485.4 91.0h0M483.9 96.8h0M485.1 88.6h0M486.0 94.2h0M489.3 92.7h0M486.0 94.3h0M482.2 94.1h0M485.6 92.1h0M483.7 96.3h0M488.0 95.8h0M486.7 90.4h0M486.2 91.7h0M486.0 93.2h0M489.0 91.5h0M486.6 92.6h0M488.0 88.1h0M484.8 92.7h0M487.3 93.7h0M490.8 94.4h0M484.2 91.8h0M494.2 97.0h0M482.2 95.0h0M483.2 95.9h0M485.5 88.8h0M485.8 93.3h0M489.1 94.2h0M485.8 92.9h0M485.3 95.6h0M487.2 91.7h0M486.7 93.8h0M488.4 93.9h0M487.4 93.9h0M485.2 92.8h0M485.0 92.9h0M487.0 95.1h0M480.8 95.3h0M482.3 97.4h0M484.3 91.3h0" stroke="#6576bb" stroke-width="1.3" stroke-linecap="round" fill="none"/><path d="M494.8 100.9h0M496.2 100.4h0M494.8 101.0h0M493.7 101.8h0M493.0 103.0h0M493.3 102.8h0M492.2 101.3h0M498.6 99.7h0M491.0 105.0h0M496.7 96.9h0M495.4 100.0h0M493.4 101.6h0M492.6 106.2h0M493.5 101.8h0M493.1 100.9h0M491.9 100.2h0M495.8 104.3h0M495.0 99.7h0M494.2 101.3h0M493.7 100.3h0M491.8 99.4h0M493.3 100.4h0M491.0 98.5h0M495.7 103.5h0M494.6 101.2h0M494.5 100.8h0M497.9 100.1h0M494.4 101.0h0M492.1 97.1h0M493.2 104.5h0M497.3 103.3h0M494.6 99.7h0M494.7 100.6h0M493.4 102.2h0M494.4 101.1h0M494.4 101.1h0M494.3 100.9h0M494.5 101.1h0M494.6 101.5h0M496.9 101.5h0M495.8 98.0h0M494.0 101.6h0M496.4 97.9h0M494.5 103.9h0M491.4 100.7h0M493.2 100.6h0M493.9 98.3h0M493.6 101.0h0M492.5 99.0h0M496.2 102.1h0M499.8 102.8h0M495.4 102.8h0M493.3 98.2h0M494.6 102.1h0M494.2 100.9h0" stroke="#9a6151" stroke-width="1.3" stroke-linecap="round" fill="none"/><path d="M485.7 102.5h0M487.3 102.6h0M487.4 103.0h0M487.4 103.0h0M487.5 103.3h0M487.2 103.0h0M487.3 103.5h0M489.7 103.4h0M487.3 103.2h0M487.4 102.9h0M488.9 101.5h0M489.5 103.3h0M487.6 101.3h0M487.6 103.2h0M488.5 104.9h0M487.1 102.5h0" stroke="#8d5444" stroke-width="1.3" stroke-linecap="round" fill="none"/><path d="M478.3 107.0h0M479.1 106.3h0M477.2 107.3h0M482.1 108.0h0M477.8 108.2h0M474.7 107.9h0M479.3 107.4h0M479.3 108.7h0M478.0 107.8h0M478.3 108.6h0M475.9 108.4h0M475.7 107.9h0M478.1 108.0h0M478.0 107.8h0M478.3 107.7h0M478.8 108.4h0M475.5 109.2h0M477.9 107.8h0M478.9 106.9h0M478.0 107.6h0M479.9 108.3h0M478.2 106.2h0M477.7 107.5h0M479.6 110.2h0M478.6 108.1h0M477.7 106.9h0M476.6 106.9h0M478.7 107.4h0M479.8 107.4h0M477.8 107.5h0M478.1 105.4h0M478.3 105.7h0M478.0 107.8h0M477.9 107.6h0M479.6 108.6h0M477.6 106.2h0M479.2 109.6h0M478.3 107.5h0M479.9 110.5h0M478.0 108.0h0M478.0 107.8h0M478.8 109.6h0" stroke="#e9c94e" stroke-width="1.3" stroke-linecap="round" fill="none"/><path d="M480.5 86.9h0M480.2 85.7h0M480.8 85.9h0M480.1 84.9h0M481.1 86.4h0M480.3 86.0h0" stroke="#df883c" stroke-width="1.3" stroke-linecap="round" fill="none"/><path d="M490.8 89.6h0M491.5 88.1h0M491.0 89.3h0M490.6 90.5h0M492.0 89.7h0M491.1 89.7h0" stroke="#cf4c4c" stroke-width="1.3" stroke-linecap="round" fill="none"/><path d="M467.4,77 L467.4,112.4 L503,112.4" fill="none" stroke="#a5a5a5" stroke-width="0.4"/><rect x="469.0" y="113.2" width="1.6" height="0.7" fill="#b0b0b0"/><rect x="473.4" y="113.2" width="1.6" height="0.7" fill="#b0b0b0"/><rect x="477.8" y="113.2" width="1.6" height="0.7" fill="#b0b0b0"/><rect x="482.2" y="113.2" width="1.6" height="0.7" fill="#b0b0b0"/><rect x="486.6" y="113.2" width="1.6" height="0.7" fill="#b0b0b0"/><rect x="491.0" y="113.2" width="1.6" height="0.7" fill="#b0b0b0"/><rect x="495.4" y="113.2" width="1.6" height="0.7" fill="#b0b0b0"/><rect x="499.8" y="113.2" width="1.6" height="0.7" fill="#b0b0b0"/><rect x="465.2" y="80.0" width="1.3" height="0.7" fill="#b0b0b0"/><rect x="465.2" y="86.0" width="1.3" height="0.7" fill="#b0b0b0"/><rect x="465.2" y="92.0" width="1.3" height="0.7" fill="#b0b0b0"/><rect x="465.2" y="98.0" width="1.3" height="0.7" fill="#b0b0b0"/><rect x="465.2" y="104.0" width="1.3" height="0.7" fill="#b0b0b0"/><rect x="465.2" y="110.0" width="1.3" height="0.7" fill="#b0b0b0"/><rect x="482" y="115" width="5" height="0.8" fill="#b0b0b0"/><rect x="462.8" y="92" width="0.8" height="5" fill="#b0b0b0"/><circle cx="508.4" cy="81.00" r="0.8" fill="#45a596"/><rect x="510.2" y="80.60" width="3.8" height="0.8" fill="#a5a5a5"/><circle cx="508.4" cy="83.75" r="0.8" fill="#76b6e6"/><rect x="510.2" y="83.35" width="3.8" height="0.8" fill="#a5a5a5"/><circle cx="508.4" cy="86.50" r="0.8" fill="#e9c94e"/><rect x="510.2" y="86.10" width="3.8" height="0.8" fill="#a5a5a5"/><circle cx="508.4" cy="89.25" r="0.8" fill="#6576bb"/><rect x="510.2" y="88.85" width="3.8" height="0.8" fill="#a5a5a5"/><circle cx="508.4" cy="92.00" r="0.8" fill="#8d66bc"/><rect x="510.2" y="91.60" width="3.8" height="0.8" fill="#a5a5a5"/><circle cx="508.4" cy="94.75" r="0.8" fill="#e56aa6"/><rect x="510.2" y="94.35" width="3.8" height="0.8" fill="#a5a5a5"/><circle cx="508.4" cy="97.50" r="0.8" fill="#9a6151"/><rect x="510.2" y="97.10" width="3.8" height="0.8" fill="#a5a5a5"/><circle cx="508.4" cy="100.25" r="0.8" fill="#cf4c4c"/><rect x="510.2" y="99.85" width="3.8" height="0.8" fill="#a5a5a5"/></g><g><rect x="523.20" y="90.60" width="5.48" height="2.81" fill="rgb(216, 228, 245)"/><rect x="528.58" y="90.60" width="5.48" height="2.81" fill="rgb(215, 226, 244)"/><rect x="533.96" y="90.60" width="5.48" height="2.81" fill="rgb(216, 228, 245)"/><rect x="539.33" y="90.60" width="5.48" height="2.81" fill="rgb(208, 212, 237)"/><rect x="544.71" y="90.60" width="5.48" height="2.81" fill="rgb(191, 177, 220)"/><rect x="550.09" y="90.60" width="5.48" height="2.81" fill="rgb(186, 167, 215)"/><rect x="555.47" y="90.60" width="5.48" height="2.81" fill="rgb(171, 135, 199)"/><rect x="560.84" y="90.60" width="5.48" height="2.81" fill="rgb(137, 65, 165)"/><rect x="566.22" y="90.60" width="5.48" height="2.81" fill="rgb(133, 56, 161)"/><rect x="523.20" y="93.31" width="5.48" height="2.81" fill="rgb(216, 228, 245)"/><rect x="528.58" y="93.31" width="5.48" height="2.81" fill="rgb(205, 206, 234)"/><rect x="533.96" y="93.31" width="5.48" height="2.81" fill="rgb(205, 206, 234)"/><rect x="539.33" y="93.31" width="5.48" height="2.81" fill="rgb(181, 156, 210)"/><rect x="544.71" y="93.31" width="5.48" height="2.81" fill="rgb(172, 138, 201)"/><rect x="550.09" y="93.31" width="5.48" height="2.81" fill="rgb(152, 96, 180)"/><rect x="555.47" y="93.31" width="5.48" height="2.81" fill="rgb(146, 84, 174)"/><rect x="560.84" y="93.31" width="5.48" height="2.81" fill="rgb(130, 51, 158)"/><rect x="566.22" y="93.31" width="5.48" height="2.81" fill="rgb(142, 75, 170)"/><rect x="523.20" y="96.03" width="5.48" height="2.81" fill="rgb(215, 226, 244)"/><rect x="528.58" y="96.03" width="5.48" height="2.81" fill="rgb(194, 183, 223)"/><rect x="533.96" y="96.03" width="5.48" height="2.81" fill="rgb(179, 152, 207)"/><rect x="539.33" y="96.03" width="5.48" height="2.81" fill="rgb(175, 144, 204)"/><rect x="544.71" y="96.03" width="5.48" height="2.81" fill="rgb(144, 80, 172)"/><rect x="550.09" y="96.03" width="5.48" height="2.81" fill="rgb(131, 53, 159)"/><rect x="555.47" y="96.03" width="5.48" height="2.81" fill="rgb(143, 77, 171)"/><rect x="560.84" y="96.03" width="5.48" height="2.81" fill="rgb(165, 123, 193)"/><rect x="566.22" y="96.03" width="5.48" height="2.81" fill="rgb(164, 121, 192)"/><rect x="523.20" y="98.74" width="5.48" height="2.81" fill="rgb(194, 183, 223)"/><rect x="528.58" y="98.74" width="5.48" height="2.81" fill="rgb(172, 138, 201)"/><rect x="533.96" y="98.74" width="5.48" height="2.81" fill="rgb(152, 97, 181)"/><rect x="539.33" y="98.74" width="5.48" height="2.81" fill="rgb(139, 70, 168)"/><rect x="544.71" y="98.74" width="5.48" height="2.81" fill="rgb(128, 46, 156)"/><rect x="550.09" y="98.74" width="5.48" height="2.81" fill="rgb(146, 84, 174)"/><rect x="555.47" y="98.74" width="5.48" height="2.81" fill="rgb(154, 101, 182)"/><rect x="560.84" y="98.74" width="5.48" height="2.81" fill="rgb(178, 150, 207)"/><rect x="566.22" y="98.74" width="5.48" height="2.81" fill="rgb(184, 163, 213)"/><rect x="523.20" y="101.46" width="5.48" height="2.81" fill="rgb(163, 120, 192)"/><rect x="528.58" y="101.46" width="5.48" height="2.81" fill="rgb(164, 120, 192)"/><rect x="533.96" y="101.46" width="5.48" height="2.81" fill="rgb(146, 84, 174)"/><rect x="539.33" y="101.46" width="5.48" height="2.81" fill="rgb(139, 69, 167)"/><rect x="544.71" y="101.46" width="5.48" height="2.81" fill="rgb(140, 71, 168)"/><rect x="550.09" y="101.46" width="5.48" height="2.81" fill="rgb(167, 128, 196)"/><rect x="555.47" y="101.46" width="5.48" height="2.81" fill="rgb(180, 154, 208)"/><rect x="560.84" y="101.46" width="5.48" height="2.81" fill="rgb(203, 202, 232)"/><rect x="566.22" y="101.46" width="5.48" height="2.81" fill="rgb(215, 227, 244)"/><rect x="523.20" y="104.17" width="5.48" height="2.81" fill="rgb(152, 96, 180)"/><rect x="528.58" y="104.17" width="5.48" height="2.81" fill="rgb(136, 63, 164)"/><rect x="533.96" y="104.17" width="5.48" height="2.81" fill="rgb(137, 65, 165)"/><rect x="539.33" y="104.17" width="5.48" height="2.81" fill="rgb(153, 99, 182)"/><rect x="544.71" y="104.17" width="5.48" height="2.81" fill="rgb(163, 119, 191)"/><rect x="550.09" y="104.17" width="5.48" height="2.81" fill="rgb(184, 163, 213)"/><rect x="555.47" y="104.17" width="5.48" height="2.81" fill="rgb(195, 186, 224)"/><rect x="560.84" y="104.17" width="5.48" height="2.81" fill="rgb(208, 212, 237)"/><rect x="566.22" y="104.17" width="5.48" height="2.81" fill="rgb(205, 206, 234)"/><rect x="523.20" y="106.89" width="5.48" height="2.81" fill="rgb(128, 46, 156)"/><rect x="528.58" y="106.89" width="5.48" height="2.81" fill="rgb(151, 94, 179)"/><rect x="533.96" y="106.89" width="5.48" height="2.81" fill="rgb(153, 98, 181)"/><rect x="539.33" y="106.89" width="5.48" height="2.81" fill="rgb(167, 128, 196)"/><rect x="544.71" y="106.89" width="5.48" height="2.81" fill="rgb(185, 164, 214)"/><rect x="550.09" y="106.89" width="5.48" height="2.81" fill="rgb(209, 213, 237)"/><rect x="555.47" y="106.89" width="5.48" height="2.81" fill="rgb(211, 218, 240)"/><rect x="560.84" y="106.89" width="5.48" height="2.81" fill="rgb(216, 228, 245)"/><rect x="566.22" y="106.89" width="5.48" height="2.81" fill="rgb(208, 213, 237)"/><path d="M526,90 V87.4 H536 V90 M531,87.4 V85.6 H547 V87.4 M547,90 V87.4 H542 V90 M547,87.4 H553 V90 M539,85.6 V84 H562 V86.6 M558,90 V86.6 H568 V90" fill="none" stroke="#8f8f8f" stroke-width="0.4"/><path d="M523.2,110.8 H571.6" stroke="#b0b0b0" stroke-width="0.4"/><rect x="525.3" y="111.6" width="1.2" height="0.7" fill="#b0b0b0"/><rect x="530.7" y="111.6" width="1.2" height="0.7" fill="#b0b0b0"/><rect x="536.0" y="111.6" width="1.2" height="0.7" fill="#b0b0b0"/><rect x="541.4" y="111.6" width="1.2" height="0.7" fill="#b0b0b0"/><rect x="546.8" y="111.6" width="1.2" height="0.7" fill="#b0b0b0"/><rect x="552.2" y="111.6" width="1.2" height="0.7" fill="#b0b0b0"/><rect x="557.6" y="111.6" width="1.2" height="0.7" fill="#b0b0b0"/><rect x="562.9" y="111.6" width="1.2" height="0.7" fill="#b0b0b0"/><rect x="568.3" y="111.6" width="1.2" height="0.7" fill="#b0b0b0"/><rect x="520.4" y="91.7" width="1.9" height="0.6" fill="#b0b0b0"/><rect x="520.4" y="94.4" width="1.9" height="0.6" fill="#b0b0b0"/><rect x="520.4" y="97.1" width="1.9" height="0.6" fill="#b0b0b0"/><rect x="520.4" y="99.8" width="1.9" height="0.6" fill="#b0b0b0"/><rect x="520.4" y="102.5" width="1.9" height="0.6" fill="#b0b0b0"/><rect x="520.4" y="105.2" width="1.9" height="0.6" fill="#b0b0b0"/><rect x="520.4" y="107.9" width="1.9" height="0.6" fill="#b0b0b0"/></g></g><g id="panelB"><defs><filter id="dk" x="0" y="0" width="100%" height="100%" color-interpolation-filters="sRGB"><feColorMatrix type="matrix" values="0.66 0 0 0 0.04 0 0.66 0 0 0.04 0 0 0.66 0 0.04 0 0 0 1 0"/></filter></defs><text x="63.1" y="164.9" font-size="13.2" font-weight="bold" textLength="6.9" lengthAdjust="spacingAndGlyphs" fill="#000">B</text><text x="90.8" y="170.1" font-size="15.4" textLength="93.4" lengthAdjust="spacingAndGlyphs" fill="#000">Normal SNAP</text><text x="219.7" y="170.1" font-size="15.4" textLength="83.5" lengthAdjust="spacingAndGlyphs" fill="#000">Normal OCT</text><text x="366.5" y="170.1" font-size="15.4" textLength="63.1" lengthAdjust="spacingAndGlyphs" fill="#000">BA SNAP</text><text x="506.4" y="170.1" font-size="15.4" textLength="52.2" lengthAdjust="spacingAndGlyphs" fill="#000">BA OCT</text><rect x="69.6" y="173.4" width="131.4" height="120.6" fill="#fdfcfb"/><rect x="207" y="178" width="115" height="119" fill="#fdfcfb"/><rect x="339" y="174" width="127" height="123" fill="#fdfcfb"/><rect x="477" y="174" width="123" height="123" fill="#fdfcfb"/><circle cx="91.6" cy="175" r="1" fill="#2f9c3c"/><circle cx="169.6" cy="203.3" r="1" fill="#2f9c3c"/><circle cx="195.9" cy="266.4" r="1" fill="#2f9c3c"/><circle cx="141.8" cy="292.3" r="1" fill="#2f9c3c"/><circle cx="109" cy="282.7" r="1" fill="#2f9c3c"/><circle cx="130.5" cy="217.5" r="1" fill="#2f9c3c"/><defs><g id="b1"><path stroke="#01b538" d="M42 17.2h2.5m3.5 0h.5M41 18.92h6.5M44 20.64h2.5M43 22.36h.5M103 46.44h.5M102 48.16h2.5M93 49.88h.5M66 51.6h.5M65 53.32h2.5m15.5 0h2.5m5.5 0h.5M68 55.04h.5m9.5 0h.5m5.5 0h2.5m13.5 0h.5M85 56.76h.5m3.5 0h.5m11.5 0h2.5M48 58.48h2.5m25.5 0h4.5m19.5 0h4.5M55 60.2h.5m23.5 0h4.5M54 61.92h.5M39 63.64h.5m3.5 0h.5m49.5 0h2.5M64 65.36h.5M35 67.08h2.5M32 68.8h4.5m65.5 0h.5M90 72.24h2.5M107 73.96h2.5M36 75.68h2.5m3.5 0h.5m3.5 0h2.5m27.5 0h4.5m27.5 0h.5M41 77.4h.5m3.5 0h10.5m19.5 0h.5m23.5 0h2.5M34 79.12h.5m5.5 0h2.5m3.5 0h.5m5.5 0h4.5m41.5 0h4.5M31 80.84h.5m9.5 0h4.5m5.5 0h.5m15.5 0h.5m29.5 0h6.5M32 82.56h.5m3.5 0h.5m7.5 0h2.5m3.5 0h.5m45.5 0h.5m3.5 0h4.5M51 84.28h.5m5.5 0h.5M24 86h.5m57.5 0h.5m17.5 0h.5M19 87.72h.5m5.5 0h2.5m27.5 0h.5m27.5 0h.5m9.5 0h4.5M18 89.44h.5m9.5 0h.5m25.5 0h2.5m25.5 0h.5m9.5 0h2.5M17 91.16h4.5m9.5 0h4.5m3.5 0h2.5m11.5 0h8.5m5.5 0h.5M16 92.88h4.5m11.5 0h4.5m3.5 0h.5m5.5 0h.5m5.5 0h2.5m11.5 0h.5M15 94.6h10.5m5.5 0h6.5m9.5 0h.5m23.5 0h10.5M16 96.32h8.5m3.5 0h6.5m39.5 0h4.5m25.5 0h.5M19 98.04h4.5m5.5 0h2.5m41.5 0h.5m3.5 0h2.5M16 99.76h.5m3.5 0h4.5m5.5 0h.5m7.5 0h.5m35.5 0h.5M15 101.48h10.5m3.5 0h.5m5.5 0h4.5m7.5 0h.5m25.5 0h.5m11.5 0h2.5M16 103.2h8.5m3.5 0h2.5m43.5 0h.5M15 104.92h8.5m51.5 0h.5M16 106.64h4.5m7.5 0h2.5m41.5 0h4.5M17 108.36h4.5m7.5 0h.5m41.5 0h6.5M18 110.08h.5m19.5 0h.5m9.5 0h.5M17 111.8h.5m31.5 0h.5m11.5 0h2.5M74 113.52h4.5M55 115.24h.5m15.5 0h2.5m3.5 0h.5M20 116.96h.5m19.5 0h.5m13.5 0h10.5m3.5 0h.5m3.5 0h6.5m3.5 0h.5m7.5 0h.5M19 118.68h.5m11.5 0h4.5m15.5 0h2.5m7.5 0h2.5m7.5 0h2.5M30 120.4h4.5m17.5 0h2.5m5.5 0h.5m9.5 0h4.5m7.5 0h.5M21 122.12h6.5m3.5 0h2.5m39.5 0h.5m3.5 0h.5m7.5 0h.5M22 123.84h2.5m51.5 0h2.5M27 125.56h.5m37.5 0h14.5M40 127.28h.5m11.5 0h.5m21.5 0h6.5M51 129h.5m21.5 0h.5m3.5 0h.5M38 130.72h.5m29.5 0h.5M37 132.44h.5m15.5 0h2.5m13.5 0h.5M50 134.16h6.5M53 135.88h2.5m3.5 0h.5"/><path stroke="#01a9f4" d="M101 46.44h.5M81 49.88h4.5m9.5 0h2.5M64 51.6h.5m15.5 0h2.5m9.5 0h4.5M61 53.32h.5m31.5 0h4.5m3.5 0h.5M60 55.04h2.5M51 56.76h.5m5.5 0h6.5M56 58.48h10.5m25.5 0h.5M63 60.2h2.5m5.5 0h2.5m3.5 0h.5m9.5 0h.5m17.5 0h.5M40 61.92h2.5m33.5 0h.5m9.5 0h.5m3.5 0h.5m3.5 0h2.5m7.5 0h2.5M41 63.64h.5m23.5 0h.5m37.5 0h2.5M42 65.36h.5m9.5 0h2.5m21.5 0h2.5m7.5 0h.5m15.5 0h6.5M41 67.08h.5m33.5 0h2.5m29.5 0h.5M74 68.8h12.5M35 70.52h.5m11.5 0h.5m29.5 0h4.5M30 72.24h.5m37.5 0h.5m7.5 0h.5m3.5 0h.5m25.5 0h.5M29 73.96h.5m17.5 0h.5m37.5 0h4.5M44 75.68h.5m23.5 0h2.5m11.5 0h4.5m19.5 0h.5M67 77.4h.5m13.5 0h4.5m19.5 0h.5M24 79.12h.5m7.5 0h.5M75 80.84h.5m15.5 0h2.5m11.5 0h.5M74 82.56h2.5m11.5 0h6.5M25 84.28h2.5m15.5 0h.5m5.5 0h.5m57.5 0h.5M26 86h.5m3.5 0h.5m15.5 0h4.5m33.5 0h2.5m3.5 0h2.5M85 87.72h6.5M84 89.44h4.5m9.5 0h.5M99 91.16h.5M26 92.88h.5m31.5 0h2.5m7.5 0h2.5m17.5 0h.5m11.5 0h.5M27 94.6h.5m29.5 0h4.5m3.5 0h4.5m13.5 0h.5m5.5 0h.5m13.5 0h2.5M26 96.32h.5m29.5 0h.5m3.5 0h8.5m31.5 0h.5M55 98.04h2.5m5.5 0h4.5m29.5 0h2.5M18 99.76h.5m37.5 0h2.5m3.5 0h4.5m31.5 0h.5M27 101.48h.5m27.5 0h.5m43.5 0h2.5M54 103.2h.5m29.5 0h.5M67 104.92h.5m17.5 0h.5M44 106.64h2.5M45 108.36h.5M24 110.08h.5m11.5 0h.5M35 111.8h.5m59.5 0h.5M48 113.52h.5m3.5 0h.5m41.5 0h.5M43 115.24h2.5m3.5 0h4.5M27 118.68h.5M26 120.4h.5m37.5 0h2.5M49 122.12h4.5M48 123.84h4.5M41 125.56h.5m7.5 0h2.5M48 127.28h.5M49 129h.5M40 130.72h2.5M41 132.44h2.5m23.5 0h.5M66 134.16h.5"/><path stroke="#01bc9c" d="M98 48.16h2.5M79 49.88h.5m19.5 0h.5M78 51.6h.5m19.5 0h6.5M77 53.32h.5m25.5 0h.5M94 55.04h2.5M65 56.76h.5m15.5 0h.5m5.5 0h.5m3.5 0h6.5M82 58.48h4.5m3.5 0h.5m3.5 0h4.5M93 60.2h2.5M78 61.92h4.5M55 63.64h2.5m5.5 0h.5m13.5 0h2.5m3.5 0h2.5M60 65.36h.5m23.5 0h.5M59 67.08h2.5M58 68.8h.5m37.5 0h.5m3.5 0h.5M33 70.52h.5m51.5 0h4.5m7.5 0h.5M34 72.24h6.5M41 73.96h.5m49.5 0h.5M28 75.68h6.5m5.5 0h.5m47.5 0h2.5m13.5 0h.5M25 77.4h14.5m63.5 0h.5m5.5 0h.5M26 79.12h.5m77.5 0h.5M63 80.84h.5m45.5 0h.5M26 82.56h.5m15.5 0h.5m9.5 0h.5m45.5 0h.5m7.5 0h.5M41 84.28h.5m11.5 0h.5m43.5 0h4.5m3.5 0h.5M54 86h2.5m41.5 0h.5m3.5 0h.5M99 87.72h4.5M26 89.44h.5m9.5 0h2.5M25 91.16h4.5m33.5 0h.5m13.5 0h2.5m5.5 0h.5m7.5 0h.5M28 92.88h2.5m11.5 0h.5m31.5 0h6.5m11.5 0h6.5M41 94.6h.5m49.5 0h4.5m3.5 0h2.5M92 96.32h.5m9.5 0h.5M83 98.04h.5M28 99.76h.5m31.5 0h.5m17.5 0h10.5M77 101.48h4.5M26 103.2h.5m29.5 0h6.5m13.5 0h2.5m7.5 0h.5m3.5 0h.5m9.5 0h.5M25 104.92h4.5m47.5 0h.5m21.5 0h.5M24 106.64h2.5m43.5 0h.5m7.5 0h8.5M27 108.36h.5m41.5 0h.5m13.5 0h4.5M20 110.08h2.5m61.5 0h4.5M19 111.8h4.5m57.5 0h.5M20 113.52h2.5m9.5 0h.5m23.5 0h6.5m17.5 0h2.5m3.5 0h.5M27 115.24h.5m19.5 0h.5m15.5 0h.5m21.5 0h4.5M28 116.96h.5m21.5 0h.5m35.5 0h2.5M75 118.68h2.5m5.5 0h.5M58 120.4h.5m17.5 0h2.5M59 122.12h2.5m5.5 0h4.5m3.5 0h.5m3.5 0h2.5M38 123.84h.5m15.5 0h.5m3.5 0h10.5m3.5 0h2.5m5.5 0h2.5M39 125.56h.5m21.5 0h2.5m19.5 0h.5M34 130.72h2.5m19.5 0h.5M35 132.44h.5m3.5 0h.5m23.5 0h2.5M64 134.16h.5M39 135.88h2.5M42 137.6h.5"/><path stroke="#d98901" d="M42 20.64h.5M45 22.36h2.5M63 53.32h.5m17.5 0h.5M64 55.04h.5M67 56.76h.5M88 58.48h.5M75 60.2h.5M44 61.92h.5m29.5 0h.5m33.5 0h.5M45 63.64h.5m7.5 0h.5m53.5 0h2.5M39 67.08h.5m3.5 0h2.5m5.5 0h.5m13.5 0h2.5M42 68.8h.5m7.5 0h2.5m9.5 0h8.5m23.5 0h.5M49 70.52h4.5m9.5 0h6.5m25.5 0h.5m3.5 0h.5M54 72.24h.5m9.5 0h.5m21.5 0h2.5m5.5 0h8.5M27 73.96h.5m7.5 0h4.5m23.5 0h.5m9.5 0h6.5m3.5 0h.5m11.5 0h8.5M26 75.68h.5m45.5 0h2.5m19.5 0h8.5M57 77.4h.5m11.5 0h2.5m17.5 0h8.5M44 79.12h.5m3.5 0h2.5m17.5 0h2.5m17.5 0h8.5M47 80.84h2.5m39.5 0h.5M48 82.56h.5m15.5 0h.5m43.5 0h.5M45 84.28h2.5m15.5 0h4.5M40 86h.5m3.5 0h.5m13.5 0h.5M23 87.72h.5m17.5 0h.5m21.5 0h2.5M22 89.44h2.5m15.5 0h.5m61.5 0h2.5M23 91.16h.5m13.5 0h.5M22 92.88h2.5m13.5 0h.5m43.5 0h.5m21.5 0h2.5M29 94.6h.5m9.5 0h.5m11.5 0h4.5M36 96.32h2.5m11.5 0h4.5m3.5 0h.5M25 98.04h.5m9.5 0h2.5m9.5 0h6.5m5.5 0h2.5m9.5 0h.5m9.5 0h.5m5.5 0h4.5m9.5 0h2.5M40 99.76h12.5m15.5 0h4.5m27.5 0h2.5M41 101.48h4.5m5.5 0h.5m11.5 0h.5m5.5 0h2.5M38 103.2h4.5m21.5 0h4.5M41 104.92h2.5m21.5 0h.5m21.5 0h2.5M40 106.64h.5m25.5 0h.5m21.5 0h.5M39 108.36h4.5m15.5 0h.5M26 110.08h.5m13.5 0h6.5m27.5 0h2.5M25 111.8h4.5m7.5 0h4.5m3.5 0h.5m7.5 0h.5M24 113.52h6.5M23 115.24h2.5M24 116.96h2.5m43.5 0h.5M23 118.68h2.5m11.5 0h2.5m27.5 0h2.5m9.5 0h.5M36 120.4h4.5m9.5 0h.5m5.5 0h.5m11.5 0h.5M35 122.12h6.5m13.5 0h2.5M26 123.84h.5m15.5 0h.5m13.5 0h.5m13.5 0h.5M25 125.56h.5m17.5 0h2.5m7.5 0h4.5M30 127.28h.5m15.5 0h.5m3.5 0h.5m3.5 0h2.5m13.5 0h2.5M29 129h.5m3.5 0h.5M30 130.72h2.5M31 132.44h2.5m37.5 0h.5M34 134.16h8.5m3.5 0h.5M37 135.88h.5"/><path stroke="#d670f5" d="M101 49.88h4.5M68 51.6h.5m3.5 0h2.5m31.5 0h.5M71 53.32h.5m33.5 0h.5M52 55.04h2.5m11.5 0h.5m9.5 0h.5m13.5 0h2.5M49 56.76h.5m3.5 0h.5m23.5 0h2.5m27.5 0h.5M106 58.48h.5M57 60.2h4.5m27.5 0h2.5m9.5 0h2.5m3.5 0h2.5M52 61.92h.5m9.5 0h4.5m5.5 0h.5m19.5 0h.5M73 63.64h2.5m11.5 0h2.5M40 65.36h.5m7.5 0h2.5m5.5 0h2.5m13.5 0h2.5m13.5 0h2.5m9.5 0h.5M47 67.08h2.5m5.5 0h2.5m21.5 0h.5m7.5 0h.5M44 68.8h4.5m41.5 0h2.5m11.5 0h.5M91 70.52h2.5m7.5 0h4.5M70 72.24h4.5m3.5 0h.5M61 73.96h.5m3.5 0h6.5m9.5 0h.5m11.5 0h.5M66 75.68h.5m25.5 0h.5M73 77.4h.5m3.5 0h2.5m7.5 0h.5m19.5 0h.5M28 79.12h2.5m5.5 0h2.5m33.5 0h4.5m3.5 0h.5m25.5 0h2.5M29 80.84h.5m3.5 0h.5m23.5 0h4.5m9.5 0h2.5m13.5 0h.5m19.5 0h.5M34 82.56h.5m3.5 0h.5m19.5 0h4.5m7.5 0h2.5M21 84.28h2.5m9.5 0h.5m55.5 0h2.5M20 86h2.5m19.5 0h.5M31 87.72h2.5m9.5 0h.5m27.5 0h.5M32 89.44h2.5m7.5 0h2.5m19.5 0h.5m11.5 0h.5M45 91.16h.5M56 92.88h.5m15.5 0h.5M48 96.32h.5m45.5 0h.5M15 98.04h.5m11.5 0h.5m65.5 0h.5M90 99.76h2.5M89 101.48h2.5M37 104.92h2.5M23 108.36h.5m7.5 0h2.5m31.5 0h.5m23.5 0h.5m3.5 0h.5M28 110.08h6.5m33.5 0h.5m21.5 0h4.5M31 111.8h2.5m57.5 0h.5M35 115.24h.5m21.5 0h2.5M36 116.96h.5m15.5 0h.5M87 118.68h2.5M47 122.12h.5m15.5 0h2.5M32 123.84h2.5m5.5 0h.5m3.5 0h2.5M23 125.56h.5m5.5 0h6.5m11.5 0h.5M32 127.28h4.5m5.5 0h2.5M37 129h4.5M74 130.72h.5M44 134.16h.5M43 135.88h.5"/><path stroke="#f2736b" d="M97 46.44h2.5M94 48.16h2.5M102 61.92h.5M91 63.64h.5M36 65.36h.5m55.5 0h4.5M91 67.08h.5m5.5 0h2.5M98 68.8h.5M61 70.52h.5M32 72.24h.5m27.5 0h2.5M31 73.96h2.5M82 79.12h.5M81 80.84h.5M80 82.56h2.5M79 84.28h6.5m23.5 0h.5M32 86h.5m31.5 0h2.5m13.5 0h.5m23.5 0h4.5M47 87.72h.5m19.5 0h2.5M46 89.44h.5m21.5 0h.5M85 94.6h.5M84 96.32h4.5M67 101.48h.5M63 104.92h.5M62 106.64h2.5M61 108.36h2.5M62 110.08h2.5M65 111.8h2.5m17.5 0h4.5m3.5 0h.5M88 113.52h4.5M61 115.24h.5m29.5 0h.5M20 120.4h.5m41.5 0h.5M81 125.56h.5M69 129h2.5M58 130.72h.5M45 132.44h.5m11.5 0h2.5M58 134.16h.5M44 137.6h.5"/><path stroke="#a2a001" d="M46 17.2h.5M57 53.32h2.5M56 55.04h2.5m47.5 0h.5M47 60.2h2.5M50 61.92h.5M49 63.64h2.5M53 67.08h.5m35.5 0h.5M106 68.8h2.5M107 70.52h2.5M50 72.24h2.5m55.5 0h.5M51 73.96h2.5M54 75.68h2.5M65 77.4h.5M64 79.12h2.5M23 80.84h2.5m39.5 0h.5m11.5 0h2.5M22 82.56h2.5m15.5 0h.5m25.5 0h.5m17.5 0h2.5M52 86h.5M51 87.72h2.5m3.5 0h.5m21.5 0h2.5M48 89.44h4.5m5.5 0h.5m7.5 0h.5m13.5 0h.5M51 91.16h.5m21.5 0h2.5m5.5 0h.5M70 96.32h.5M95 98.04h.5M54 99.76h.5M49 101.48h.5m3.5 0h.5M36 103.2h.5m7.5 0h.5m3.5 0h4.5m43.5 0h2.5M45 104.92h2.5m45.5 0h4.5M96 106.64h2.5M78 110.08h.5M18 113.52h.5m35.5 0h.5M19 115.24h.5m9.5 0h2.5m43.5 0h.5M18 116.96h.5m3.5 0h.5m7.5 0h.5m17.5 0h.5M47 118.68h2.5m7.5 0h2.5M22 120.4h.5m23.5 0h.5m39.5 0h2.5M59 125.56h.5M26 127.28h2.5m29.5 0h.5M27 129h.5m3.5 0h.5m3.5 0h.5m21.5 0h2.5M28 130.72h.5m31.5 0h.5"/><path stroke="#c279f9" d="M90 51.6h.5M104 55.04h.5M66 65.36h.5M85 67.08h.5M68 86h.5M45 87.72h.5M70 89.44h.5M43 91.16h.5m25.5 0h2.5m17.5 0h.5M90 92.88h.5M42 96.32h.5M69 98.04h.5m15.5 0h.5M26 99.76h.5M31 101.48h2.5M32 103.2h2.5m57.5 0h2.5M31 104.92h2.5m23.5 0h4.5m19.5 0h.5m9.5 0h.5M58 106.64h2.5m31.5 0h.5M53 108.36h4.5m33.5 0h.5M50 110.08h4.5M43 111.8h.5m7.5 0h.5M44 113.52h.5M38 127.28h.5M75 129h.5"/><path stroke="#5caf01" d="M93 46.44h2.5M73 53.32h2.5M70 55.04h4.5m7.5 0h.5M69 56.76h6.5m7.5 0h.5M68 58.48h6.5M51 60.2h2.5m15.5 0h.5M70 61.92h.5M109 67.08h.5M71 70.52h4.5M56 72.24h2.5M59 73.96h.5M52 75.68h.5M59 77.4h.5M58 79.12h4.5M53 80.84h2.5m13.5 0h.5m25.5 0h.5M54 82.56h2.5m11.5 0h.5M55 84.28h.5m13.5 0h8.5m15.5 0h.5M74 86h4.5M49 87.72h.5m23.5 0h4.5M72 89.44h2.5M65 91.16h.5M62 92.88h2.5M63 94.6h.5M40 96.32h.5m39.5 0h2.5M39 98.04h2.5M94 99.76h2.5M83 101.48h.5m11.5 0h2.5M46 103.2h.5m23.5 0h2.5m7.5 0h.5M49 104.92h6.5m15.5 0h2.5m5.5 0h.5M54 106.64h2.5M56 110.08h4.5m35.5 0h.5M47 111.8h.5m7.5 0h4.5M42 113.52h.5M21 115.24h.5m47.5 0h.5M55 118.68h.5m25.5 0h.5M28 120.4h.5m19.5 0h.5M29 122.12h.5M84 123.84h.5M44 130.72h.5m17.5 0h4.5m5.5 0h.5M51 132.44h.5"/><path stroke="#eb7a4f" d="M56 61.92h4.5m23.5 0h.5M59 63.64h2.5M37 70.52h4.5m41.5 0h.5M46 72.24h2.5m33.5 0h2.5M96 89.44h.5M87 91.16h.5m9.5 0h.5M84 92.88h2.5M87 94.6h.5M75 98.04h.5M76 99.76h.5M57 101.48h4.5m13.5 0h.5M48 106.64h.5M47 108.36h.5m3.5 0h.5M75 111.8h4.5M80 116.96h.5M43 122.12h.5M37 125.56h.5"/><path stroke="#c19501" d="M87 49.88h4.5M88 51.6h.5M89 53.32h.5m9.5 0h.5M98 55.04h.5M55 56.76h.5m43.5 0h.5M52 58.48h2.5M43 60.2h.5M101 67.08h4.5M64 75.68h.5M83 80.84h.5M78 82.56h.5M35 84.28h.5m67.5 0h.5M28 86h.5m5.5 0h4.5M35 87.72h4.5M90 89.44h.5M91 91.16h.5m3.5 0h.5M97 94.6h.5M72 96.32h.5m25.5 0h.5M43 98.04h2.5M93 101.48h.5M88 103.2h.5M79 108.36h.5M80 110.08h2.5M83 111.8h.5M84 113.52h.5M66 116.96h.5M60 127.28h8.5M61 129h6.5"/><path stroke="#01ba72" d="M88 48.16h4.5M105 56.76h.5M38 68.8h2.5M59 84.28h2.5M60 86h2.5m9.5 0h.5M59 87.72h2.5M60 89.44h2.5m37.5 0h.5M101 91.16h4.5M102 92.88h.5M96 96.32h.5M32 99.76h.5m3.5 0h.5M65 101.48h.5M50 106.64h.5M49 108.36h.5M70 110.08h.5M69 111.8h2.5M66 113.52h6.5M65 115.24h2.5M42 116.96h4.5M29 118.68h.5m11.5 0h4.5m19.5 0h.5M42 120.4h2.5M43 129h.5M61 132.44h.5M60 134.16h2.5M45 135.88h6.5M46 137.6h2.5"/><path stroke="#01b8d0" d="M49 18.92h.5M48 20.64h.5M84 51.6h2.5M108 58.48h.5M85 60.2h.5M68 65.36h2.5M69 67.08h4.5m19.5 0h2.5M54 68.8h2.5m15.5 0h.5m15.5 0h.5M55 70.52h4.5M55 73.96h2.5M62 75.68h.5M63 77.4h.5M35 80.84h4.5M37 84.28h2.5M107 87.72h.5M106 89.44h.5M35 104.92h.5M22 106.64h.5m9.5 0h6.5m3.5 0h.5m9.5 0h.5m37.5 0h.5M25 108.36h.5m9.5 0h2.5M34 113.52h6.5M33 115.24h.5m3.5 0h2.5M32 116.96h2.5m3.5 0h.5M82 127.28h.5M45 129h2.5m5.5 0h2.5M48 130.72h6.5M47 132.44h2.5M48 134.16h.5M57 135.88h.5"/><path stroke="#5f98f9" d="M102 55.04h.5M45 60.2h.5M98 61.92h2.5M69 63.64h.5m27.5 0h2.5M62 65.36h.5m35.5 0h.5M43 70.52h2.5M42 72.24h2.5M43 73.96h2.5m3.5 0h.5m55.5 0h.5M50 75.68h.5m7.5 0h2.5M43 77.4h.5m17.5 0h.5M78 79.12h.5m5.5 0h2.5M27 80.84h.5m57.5 0h.5M30 82.56h.5M29 84.28h2.5m55.5 0h.5m7.5 0h.5M70 86h.5m17.5 0h.5m5.5 0h.5M29 87.72h.5m75.5 0h.5M30 89.44h.5M47 91.16h2.5M48 92.88h2.5M49 94.6h.5M46 96.32h.5m43.5 0h.5M33 98.04h.5M34 99.76h.5M82 103.2h.5M69 104.92h.5m13.5 0h.5M68 106.64h.5M67 108.36h.5m13.5 0h.5M50 113.52h.5M41 115.24h.5m37.5 0h4.5m9.5 0h.5M85 118.68h.5M24 120.4h.5M46 130.72h.5m23.5 0h.5M61 135.88h.5"/><path stroke="#ef62dd" d="M67 60.2h.5m29.5 0h2.5M68 61.92h.5M67 63.64h.5m3.5 0h.5m9.5 0h.5m19.5 0h.5M38 65.36h.5m41.5 0h2.5M81 67.08h2.5M31 70.52h.5M104 72.24h.5M28 82.56h.5M96 86h.5M21 87.72h.5M20 89.44h.5m57.5 0h.5M83 91.16h.5M44 92.88h.5M43 94.6h2.5M44 96.32h.5M66 110.08h.5m5.5 0h.5M64 113.52h.5M21 118.68h.5M80 120.4h.5M45 122.12h.5"/><path stroke="#f962ac" d="M70 51.6h.5m5.5 0h.5M69 53.32h.5m9.5 0h.5m7.5 0h.5M80 55.04h.5m7.5 0h.5M46 58.48h.5M46 61.92h2.5m39.5 0h.5M47 63.64h.5M44 65.36h2.5M63 67.08h.5M60 68.8h.5M66 72.24h.5M17 98.04h.5M94 106.64h.5M95 108.36h2.5M73 111.8h.5M46 113.52h.5M84 116.96h.5M84 120.4h.5M83 122.12h.5M28 123.84h2.5m5.5 0h.5M24 127.28h.5"/></g></defs><g transform="translate(88 172) scale(0.86)" fill="none" stroke-linecap="round"><use href="#b1" stroke-width="2.25" filter="url(#dk)"/><use href="#b1" stroke-width="1.62" stroke-dasharray="0 2"/></g><defs><g id="b2"><path stroke="#d670f5" d="M64 3.44h.5M71 5.16h.5m7.5 0h4.5M72 6.88h2.5m9.5 0h.5m3.5 0h.5M82 10.32h2.5M51 12.04h.5m3.5 0h.5m25.5 0h.5m17.5 0h.5M38 13.76h.5m15.5 0h2.5m19.5 0h2.5M39 15.48h.5m7.5 0h2.5m25.5 0h8.5m3.5 0h6.5M32 17.2h.5m13.5 0h6.5m13.5 0h.5m7.5 0h6.5m5.5 0h4.5M45 18.92h6.5m11.5 0h18.5m5.5 0h2.5M44 20.64h10.5m19.5 0h6.5m5.5 0h2.5m9.5 0h.5M41 22.36h.5m5.5 0h.5m3.5 0h2.5m7.5 0h4.5m11.5 0h8.5m15.5 0h.5M20 24.08h.5m25.5 0h2.5m11.5 0h.5m17.5 0h2.5m3.5 0h2.5m3.5 0h.5m9.5 0h.5m11.5 0h.5M19 25.8h2.5m21.5 0h4.5m5.5 0h.5m3.5 0h4.5m15.5 0h2.5m5.5 0h2.5m13.5 0h.5m11.5 0h2.5M16 27.52h4.5m23.5 0h8.5m5.5 0h2.5m9.5 0h.5m15.5 0h.5m21.5 0h2.5m3.5 0h.5M17 29.24h6.5m5.5 0h.5m13.5 0h12.5m13.5 0h2.5m9.5 0h.5m29.5 0h4.5M20 30.96h2.5m15.5 0h18.5m7.5 0h6.5m9.5 0h2.5m29.5 0h2.5M19 32.68h.5m19.5 0h2.5m3.5 0h4.5m3.5 0h6.5m5.5 0h2.5m3.5 0h2.5m3.5 0h.5m7.5 0h.5m27.5 0h.5M20 34.4h.5m3.5 0h.5m15.5 0h2.5m23.5 0h.5m3.5 0h8.5M19 36.12h.5m19.5 0h4.5m11.5 0h4.5m11.5 0h.5M22 37.84h2.5m13.5 0h.5m5.5 0h.5m7.5 0h8.5M51 39.56h4.5m9.5 0h.5m37.5 0h.5M40 41.28h.5m9.5 0h2.5m19.5 0h.5m27.5 0h2.5M37 43h.5m9.5 0h2.5m3.5 0h.5m11.5 0h.5m33.5 0h2.5m21.5 0h.5M48 44.72h.5m15.5 0h.5m5.5 0h.5m23.5 0h6.5m15.5 0h.5m3.5 0h.5M63 46.44h.5m7.5 0h.5m23.5 0h2.5m19.5 0h.5M52 48.16h2.5m7.5 0h.5m9.5 0h.5m21.5 0h.5m21.5 0h.5m5.5 0h2.5M55 49.88h4.5m3.5 0h12.5m41.5 0h.5m3.5 0h2.5M40 51.6h.5m15.5 0h12.5m53.5 0h4.5M33 53.32h.5m5.5 0h.5m17.5 0h.5M82 55.04h4.5M83 56.76h2.5m15.5 0h.5m13.5 0h.5M14 58.48h2.5m59.5 0h.5m19.5 0h.5m15.5 0h2.5M59 60.2h6.5m31.5 0h.5M58 61.92h8.5M59 63.64h2.5m3.5 0h.5m7.5 0h.5m23.5 0h.5m23.5 0h.5m3.5 0h.5M64 65.36h2.5m17.5 0h.5m33.5 0h.5m3.5 0h2.5M49 67.08h.5m7.5 0h.5m9.5 0h.5m15.5 0h2.5m31.5 0h2.5m3.5 0h.5M10 68.8h.5m5.5 0h.5m31.5 0h.5m27.5 0h6.5m41.5 0h.5M9 70.52h2.5m3.5 0h.5m47.5 0h.5m15.5 0h.5m35.5 0h2.5m5.5 0h2.5M10 72.24h.5m21.5 0h.5m83.5 0h2.5m5.5 0h2.5M89 73.96h.5m29.5 0h.5M24 75.68h.5M19 77.4h.5M12 79.12h.5m47.5 0h.5m13.5 0h4.5M59 80.84h2.5m17.5 0h.5m15.5 0h.5m19.5 0h.5M22 82.56h4.5m49.5 0h.5M23 84.28h2.5m23.5 0h2.5m43.5 0h2.5M26 86h.5m21.5 0h.5m39.5 0h2.5m5.5 0h2.5M57 87.72h.5m23.5 0h.5m5.5 0h2.5m9.5 0h.5M88 89.44h.5M53 91.16h.5m67.5 0h.5M103 94.6h.5M58 96.32h2.5m37.5 0h.5m3.5 0h.5m15.5 0h.5M11 98.04h.5m39.5 0h.5m11.5 0h.5m13.5 0h.5m39.5 0h2.5M64 99.76h2.5M61 101.48h4.5M54 103.2h.5m3.5 0h.5m19.5 0h4.5M59 104.92h2.5m17.5 0h.5M48 106.64h2.5m15.5 0h.5m9.5 0h.5m29.5 0h.5M105 108.36h.5M48 110.08h2.5m53.5 0h2.5M47 111.8h4.5m35.5 0h2.5m13.5 0h2.5M48 113.52h2.5m3.5 0h.5m35.5 0h.5m13.5 0h.5M69 115.24h.5m15.5 0h.5M50 116.96h2.5m39.5 0h.5M51 118.68h.5m33.5 0h.5m5.5 0h2.5m7.5 0h.5M66 120.4h.5M65 122.12h2.5M66 123.84h.5M58 127.28h6.5M59 129h4.5"/><path stroke="#01a9f4" d="M58 3.44h4.5M57 5.16h2.5M44 6.88h2.5m11.5 0h.5M47 8.6h.5m7.5 0h.5M54 10.32h2.5M69 12.04h.5m13.5 0h.5m5.5 0h.5M70 13.76h.5m11.5 0h.5m7.5 0h.5m9.5 0h.5M29 15.48h.5m11.5 0h4.5M26 17.2h2.5m15.5 0h.5M27 18.92h.5m5.5 0h.5M70 20.64h2.5M67 22.36h8.5m15.5 0h.5m19.5 0h.5M66 24.08h6.5m19.5 0h2.5M67 25.8h6.5m19.5 0h2.5M22 27.52h.5m39.5 0h6.5m19.5 0h4.5m13.5 0h.5M61 29.24h2.5m45.5 0h.5M24 30.96h.5m37.5 0h.5m39.5 0h.5m5.5 0h.5M23 32.68h4.5m73.5 0h.5M26 34.4h2.5m3.5 0h2.5m21.5 0h2.5m25.5 0h.5m15.5 0h.5m3.5 0h2.5M25 36.12h2.5m59.5 0h4.5m9.5 0h6.5M70 37.84h2.5M69 39.56h2.5m41.5 0h2.5M70 41.28h.5m7.5 0h8.5m17.5 0h.5m15.5 0h.5M75 43h10.5M46 44.72h.5m29.5 0h4.5m3.5 0h2.5m37.5 0h.5M77 46.44h2.5m35.5 0h.5M8 48.16h2.5m5.5 0h6.5m53.5 0h2.5m19.5 0h4.5M21 49.88h.5m5.5 0h2.5m47.5 0h2.5m11.5 0h.5M20 51.6h.5m5.5 0h4.5m19.5 0h.5m27.5 0h2.5m11.5 0h2.5m5.5 0h.5M9 53.32h.5m11.5 0h.5m5.5 0h.5m21.5 0h2.5m37.5 0h10.5M6 55.04h6.5m15.5 0h.5m23.5 0h4.5m9.5 0h.5m23.5 0h6.5M7 56.76h4.5m19.5 0h.5m21.5 0h.5m3.5 0h2.5M8 58.48h4.5m45.5 0h2.5M9 60.2h2.5m67.5 0h8.5m37.5 0h.5M68 61.92h2.5m3.5 0h.5m7.5 0h2.5m31.5 0h.5M3 63.64h6.5m9.5 0h6.5m3.5 0h.5m37.5 0h2.5m9.5 0h6.5m31.5 0h2.5M4 65.36h.5m15.5 0h8.5m39.5 0h.5m51.5 0h.5M19 67.08h4.5m3.5 0h2.5m3.5 0h.5m25.5 0h.5M20 68.8h8.5m77.5 0h.5m19.5 0h.5M19 70.52h2.5m9.5 0h.5M54 72.24h.5m17.5 0h.5M11 73.96h.5m41.5 0h2.5m61.5 0h.5M4 75.68h8.5m23.5 0h.5m17.5 0h.5M5 77.4h4.5m15.5 0h.5m11.5 0h.5m49.5 0h.5m27.5 0h.5M8 79.12h2.5m57.5 0h.5M9 80.84h2.5m45.5 0h.5m13.5 0h.5m37.5 0h.5M8 82.56h.5m47.5 0h2.5M7 84.28h.5m19.5 0h.5m37.5 0h4.5M66 86h2.5m41.5 0h2.5M19 87.72h.5m75.5 0h2.5m11.5 0h2.5M62 89.44h.5m37.5 0h2.5m7.5 0h4.5M61 91.16h.5m37.5 0h.5M54 92.88h10.5m7.5 0h4.5m15.5 0h2.5m3.5 0h.5M53 94.6h8.5m7.5 0h10.5M12 96.32h.5m59.5 0h4.5M13 98.04h.5m59.5 0h2.5m19.5 0h2.5M72 99.76h4.5M73 101.48h2.5M96 103.2h.5M75 104.92h.5m13.5 0h4.5M46 106.64h.5m9.5 0h.5M43 108.36h2.5M91 111.8h.5M44 113.52h.5m17.5 0h.5m7.5 0h.5m21.5 0h.5M83 115.24h.5M68 116.96h4.5m9.5 0h4.5M71 118.68h6.5M70 120.4h8.5m3.5 0h.5M71 122.12h2.5m3.5 0h.5m3.5 0h.5m7.5 0h.5M58 123.84h2.5m7.5 0h.5m3.5 0h.5m15.5 0h2.5M61 125.56h.5M52 127.28h.5"/><path stroke="#01bc9c" d="M75 5.16h2.5M78 6.88h2.5M75 8.6h12.5M58 10.32h2.5m25.5 0h2.5M57 12.04h.5m3.5 0h.5m23.5 0h.5M44 13.76h6.5M51 15.48h.5M34 17.2h.5m49.5 0h.5M39 18.92h.5m59.5 0h4.5M21 22.36h.5m27.5 0h.5m5.5 0h.5M22 24.08h2.5m19.5 0h.5M23 25.8h2.5m15.5 0h.5m7.5 0h2.5M42 27.52h.5M32 30.96h.5M21 32.68h.5m13.5 0h.5M38 34.4h.5m23.5 0h.5M63 36.12h2.5m7.5 0h.5m7.5 0h4.5M62 37.84h4.5m13.5 0h2.5m3.5 0h4.5M57 39.56h6.5m19.5 0h6.5M46 41.28h2.5m7.5 0h4.5m55.5 0h.5M57 43h.5m47.5 0h.5m7.5 0h.5M28 44.72h.5m21.5 0h2.5m29.5 0h.5m23.5 0h6.5M25 46.44h4.5m11.5 0h2.5m7.5 0h2.5m45.5 0h2.5m5.5 0h.5M24 48.16h4.5m11.5 0h2.5m23.5 0h.5m39.5 0h2.5m3.5 0h.5M9 49.88h.5m39.5 0h4.5m49.5 0h.5m7.5 0h2.5M70 51.6h.5M11 53.32h.5m33.5 0h.5M42 55.04h2.5m63.5 0h.5M17 56.76h2.5m15.5 0h.5m7.5 0h.5m49.5 0h4.5m9.5 0h.5M4 58.48h.5m15.5 0h.5m17.5 0h2.5m51.5 0h2.5m13.5 0h.5m7.5 0h.5M17 60.2h2.5m55.5 0h2.5m33.5 0h2.5m3.5 0h.5M14 61.92h4.5m57.5 0h4.5M15 63.64h2.5m45.5 0h.5m11.5 0h2.5M16 65.36h2.5m55.5 0h6.5M25 67.08h.5m43.5 0h.5m5.5 0h6.5m9.5 0h4.5M50 68.8h.5m3.5 0h.5m15.5 0h.5M74 72.24h.5M31 73.96h2.5m39.5 0h.5m21.5 0h2.5m17.5 0h.5m7.5 0h6.5M16 75.68h.5m15.5 0h2.5m39.5 0h2.5m39.5 0h4.5m3.5 0h4.5M15 77.4h2.5m33.5 0h8.5m13.5 0h4.5m41.5 0h2.5m5.5 0h.5M4 79.12h2.5m7.5 0h4.5m15.5 0h.5m13.5 0h.5m3.5 0h4.5m29.5 0h.5m3.5 0h4.5m31.5 0h2.5M5 80.84h2.5m5.5 0h4.5m5.5 0h.5m25.5 0h.5m5.5 0h.5m29.5 0h2.5m3.5 0h2.5m19.5 0h.5M6 82.56h.5m5.5 0h.5m3.5 0h2.5m43.5 0h.5m21.5 0h2.5m3.5 0h.5m3.5 0h2.5M13 84.28h4.5m83.5 0h.5m13.5 0h.5M14 86h4.5m9.5 0h.5m21.5 0h.5m63.5 0h2.5m5.5 0h4.5M15 87.72h2.5m3.5 0h.5m5.5 0h.5m21.5 0h.5m15.5 0h.5m17.5 0h.5m31.5 0h.5m7.5 0h2.5M8 89.44h2.5m3.5 0h4.5m29.5 0h.5m75.5 0h.5M11 91.16h.5m35.5 0h4.5m35.5 0h.5m13.5 0h2.5m19.5 0h.5M46 92.88h6.5m29.5 0h8.5m13.5 0h.5M49 94.6h.5m13.5 0h.5m19.5 0h6.5M56 96.32h.5m31.5 0h2.5M39 98.04h.5m17.5 0h.5m57.5 0h.5M60 99.76h2.5m15.5 0h.5M31 101.48h.5m3.5 0h.5m41.5 0h.5m3.5 0h.5M32 103.2h.5m41.5 0h2.5m33.5 0h2.5M29 104.92h4.5m73.5 0h8.5M32 106.64h.5m31.5 0h.5m43.5 0h6.5M47 108.36h.5m15.5 0h.5m15.5 0h4.5M44 110.08h.5m17.5 0h.5m17.5 0h.5M109 111.8h.5M47 115.24h2.5m53.5 0h.5M96 116.96h6.5M67 118.68h.5m27.5 0h.5m3.5 0h.5M52 120.4h.5M55 122.12h.5m7.5 0h.5m11.5 0h.5m15.5 0h.5M54 123.84h.5m7.5 0h2.5m11.5 0h.5M53 125.56h.5m19.5 0h.5M56 127.28h.5m17.5 0h.5"/><path stroke="#01b538" d="M51 5.16h.5M46 10.32h.5m27.5 0h.5M63 12.04h.5M40 13.76h.5m17.5 0h6.5m31.5 0h2.5M59 15.48h6.5m7.5 0h.5m21.5 0h2.5M56 17.2h4.5m7.5 0h4.5m21.5 0h2.5M55 18.92h6.5m33.5 0h2.5M56 20.64h2.5m35.5 0h.5M57 22.36h.5m37.5 0h.5M56 24.08h2.5M36 27.52h4.5m75.5 0h.5M37 29.24h.5m55.5 0h.5m23.5 0h.5M18 30.96h.5m71.5 0h6.5m19.5 0h2.5M17 32.68h.5m45.5 0h.5m25.5 0h8.5m19.5 0h2.5M16 34.4h2.5m45.5 0h.5m21.5 0h4.5m5.5 0h.5M11 36.12h.5m17.5 0h2.5m13.5 0h.5m29.5 0h.5m17.5 0h2.5M10 37.84h6.5m23.5 0h2.5m33.5 0h.5m23.5 0h.5m3.5 0h.5M9 39.56h4.5m25.5 0h2.5m33.5 0h.5M8 41.28h4.5m25.5 0h.5m3.5 0h.5m31.5 0h2.5m45.5 0h2.5M41 43h.5m79.5 0h.5M38 44.72h4.5m79.5 0h.5M7 46.44h.5m27.5 0h.5m9.5 0h4.5m7.5 0h2.5m13.5 0h.5m11.5 0h4.5m13.5 0h.5M6 48.16h.5m29.5 0h.5m9.5 0h.5m9.5 0h4.5m21.5 0h6.5m15.5 0h.5M5 49.88h.5m39.5 0h2.5m45.5 0h2.5M16 51.6h2.5m27.5 0h2.5m25.5 0h2.5m37.5 0h.5M15 53.32h4.5m41.5 0h.5m11.5 0h2.5m39.5 0h.5M14 55.04h6.5m9.5 0h2.5m13.5 0h.5m15.5 0h2.5m9.5 0h.5m51.5 0h.5M45 56.76h2.5m15.5 0h2.5m7.5 0h.5m13.5 0h.5m37.5 0h.5M6 58.48h.5m55.5 0h4.5m3.5 0h4.5m7.5 0h6.5m9.5 0h2.5m9.5 0h.5m7.5 0h.5m9.5 0h.5M3 60.2h4.5m41.5 0h.5m19.5 0h4.5m21.5 0h.5m19.5 0h.5M4 61.92h.5m67.5 0h.5m23.5 0h.5m3.5 0h.5m25.5 0h.5M13 63.64h.5m17.5 0h.5m67.5 0h2.5M12 65.36h2.5M11 67.08h2.5m17.5 0h.5m39.5 0h2.5M12 68.8h2.5m37.5 0h.5m39.5 0h4.5m3.5 0h2.5M3 70.52h.5m9.5 0h.5m35.5 0h6.5m3.5 0h2.5m31.5 0h.5m5.5 0h2.5m3.5 0h2.5M12 72.24h2.5m9.5 0h4.5m7.5 0h.5m15.5 0h.5m7.5 0h6.5m31.5 0h4.5m5.5 0h.5m5.5 0h.5m13.5 0h.5M9 73.96h.5m3.5 0h2.5m7.5 0h2.5m9.5 0h2.5m23.5 0h2.5m27.5 0h.5m7.5 0h2.5M22 75.68h.5m33.5 0h.5m5.5 0h6.5m11.5 0h4.5m5.5 0h2.5m5.5 0h4.5m11.5 0h.5M21 77.4h.5m13.5 0h.5m31.5 0h.5m13.5 0h2.5m9.5 0h.5m29.5 0h.5M36 79.12h.5m21.5 0h.5m13.5 0h.5m7.5 0h2.5m39.5 0h2.5M51 80.84h2.5m29.5 0h.5m13.5 0h6.5m17.5 0h2.5M52 82.56h2.5m37.5 0h.5m5.5 0h2.5m21.5 0h.5M55 84.28h.5m3.5 0h2.5m15.5 0h2.5m11.5 0h2.5m5.5 0h.5m23.5 0h.5M8 86h2.5m63.5 0h6.5m11.5 0h2.5m23.5 0h.5M59 87.72h.5m19.5 0h.5m11.5 0h2.5m23.5 0h.5M22 89.44h.5m63.5 0h.5m3.5 0h2.5m3.5 0h2.5m17.5 0h2.5M13 91.16h4.5m55.5 0h.5m15.5 0h2.5m3.5 0h2.5m19.5 0h.5M78 92.88h2.5M47 94.6h.5m53.5 0h.5m5.5 0h2.5m7.5 0h.5m3.5 0h.5M62 96.32h2.5m13.5 0h.5m3.5 0h.5m9.5 0h2.5m5.5 0h.5m7.5 0h2.5m9.5 0h.5M59 98.04h2.5m3.5 0h.5m13.5 0h8.5m11.5 0h2.5m9.5 0h.5M58 99.76h.5m21.5 0h10.5m7.5 0h4.5M57 101.48h.5m25.5 0h2.5m3.5 0h.5m7.5 0h2.5M50 103.2h2.5m3.5 0h.5m27.5 0h.5m5.5 0h.5m23.5 0h.5M47 104.92h10.5m19.5 0h.5m17.5 0h.5M40 106.64h2.5m51.5 0h4.5M33 108.36h.5m7.5 0h.5m27.5 0h.5m23.5 0h6.5m9.5 0h4.5M34 110.08h.5m7.5 0h.5m21.5 0h.5m19.5 0h10.5m3.5 0h.5M45 111.8h.5m37.5 0h2.5m7.5 0h.5m7.5 0h.5M84 113.52h2.5m7.5 0h2.5M63 115.24h.5m15.5 0h.5m13.5 0h2.5M60 116.96h4.5m13.5 0h.5M59 118.68h6.5M60 120.4h.5m3.5 0h.5M57 122.12h.5M56 123.84h.5m13.5 0h.5M69 129h.5"/><path stroke="#d98901" d="M48 6.88h.5m27.5 0h.5M49 8.6h4.5m15.5 0h2.5M48 10.32h4.5M53 12.04h.5M52 13.76h.5M31 15.48h6.5m15.5 0h4.5m41.5 0h4.5M54 17.2h.5m7.5 0h.5m35.5 0h4.5M29 18.92h.5m23.5 0h.5M26 20.64h.5m69.5 0h.5m7.5 0h2.5m3.5 0h.5M25 22.36h2.5m65.5 0h.5m3.5 0h2.5m3.5 0h2.5M26 24.08h2.5m69.5 0h.5m3.5 0h.5M27 25.8h.5m11.5 0h.5m43.5 0h.5m7.5 0h.5m5.5 0h2.5m3.5 0h2.5M76 27.52h4.5m3.5 0h.5m13.5 0h6.5M33 29.24h2.5m3.5 0h2.5m31.5 0h6.5m3.5 0h2.5m11.5 0h6.5M34 30.96h2.5m23.5 0h.5m11.5 0h6.5m5.5 0h.5m3.5 0h.5m9.5 0h2.5m3.5 0h2.5m3.5 0h.5M13 32.68h.5m23.5 0h.5m37.5 0h.5m11.5 0h.5m15.5 0h8.5M12 34.4h2.5m21.5 0h.5m17.5 0h.5m47.5 0h.5m9.5 0h.5M13 36.12h.5m39.5 0h.5m65.5 0h2.5M102 37.84h.5M37 39.56h.5m9.5 0h2.5m73.5 0h.5M32 41.28h4.5M103 43h.5M12 44.72h.5m55.5 0h.5m33.5 0h.5m15.5 0h.5M9 46.44h.5m3.5 0h.5m23.5 0h2.5m85.5 0h.5M38 48.16h.5m5.5 0h.5m23.5 0h.5m21.5 0h.5M11 49.88h8.5M10 51.6h2.5m31.5 0h.5m57.5 0h2.5M41 53.32h2.5m57.5 0h6.5M38 55.04h2.5m29.5 0h.5m31.5 0h.5M69 56.76h2.5m9.5 0h.5M24 58.48h2.5m15.5 0h8.5M43 60.2h4.5m59.5 0h.5M92 61.92h.5m5.5 0h.5M11 63.64h.5m79.5 0h2.5m17.5 0h.5m11.5 0h.5M6 65.36h4.5m61.5 0h.5m35.5 0h.5M3 67.08h6.5m5.5 0h.5m91.5 0h2.5M6 68.8h2.5m47.5 0h2.5m7.5 0h2.5m3.5 0h2.5m23.5 0h.5m9.5 0h.5M5 70.52h2.5m59.5 0h10.5m13.5 0h.5M6 72.24h2.5m25.5 0h.5m13.5 0h2.5m17.5 0h2.5m39.5 0h2.5m7.5 0h2.5M7 73.96h.5m41.5 0h.5m35.5 0h.5m23.5 0h.5M48 75.68h.5m29.5 0h.5M23 77.4h.5m37.5 0h4.5m31.5 0h4.5m5.5 0h6.5M50 79.12h.5m11.5 0h4.5m31.5 0h4.5m7.5 0h.5M37 80.84h.5m25.5 0h2.5m7.5 0h4.5m27.5 0h2.5m17.5 0h2.5M14 82.56h.5m21.5 0h.5m27.5 0h2.5m11.5 0h.5m3.5 0h.5M21 84.28h.5m59.5 0h4.5m33.5 0h2.5M22 86h2.5m39.5 0h.5m17.5 0h4.5m33.5 0h.5M67 87.72h.5m17.5 0h.5m15.5 0h.5M56 89.44h.5m9.5 0h.5m9.5 0h.5m27.5 0h.5M59 91.16h.5m3.5 0h.5m3.5 0h.5m7.5 0h2.5m33.5 0h2.5M68 92.88h.5m31.5 0h2.5m9.5 0h4.5M41 94.6h4.5m21.5 0h.5m23.5 0h2.5m3.5 0h2.5m11.5 0h4.5M42 96.32h4.5m19.5 0h4.5m41.5 0h.5M31 98.04h.5m5.5 0h.5m31.5 0h2.5m17.5 0h.5M12 99.76h.5m25.5 0h.5m5.5 0h.5m3.5 0h2.5M27 101.48h.5m17.5 0h.5m5.5 0h.5m19.5 0h.5m15.5 0h.5M28 103.2h.5m59.5 0h.5m11.5 0h2.5M43 104.92h2.5m35.5 0h6.5m9.5 0h4.5M82 106.64h4.5m13.5 0h2.5M37 108.36h2.5m51.5 0h.5m9.5 0h.5M40 110.08h.5M37 111.8h.5m15.5 0h.5m13.5 0h.5M46 113.52h.5m5.5 0h.5m13.5 0h2.5M51 115.24h.5m5.5 0h.5m7.5 0h2.5m29.5 0h.5M54 116.96h4.5m7.5 0h.5m7.5 0h2.5M49 118.68h.5m3.5 0h.5M48 120.4h.5m9.5 0h.5m9.5 0h.5M49 122.12h.5m19.5 0h.5M92 123.84h.5M79 125.56h2.5M70 127.28h.5m7.5 0h4.5M57 129h.5m13.5 0h4.5"/><path stroke="#a2a001" d="M65 5.16h.5M68 6.88h.5M67 8.6h.5M45 12.04h.5m29.5 0h4.5M32 13.76h2.5m33.5 0h.5m3.5 0h2.5m5.5 0h.5M67 15.48h4.5M64 17.2h.5m39.5 0h2.5M31 18.92h.5m9.5 0h2.5m63.5 0h.5M42 20.64h.5m65.5 0h.5M32 24.08h.5m21.5 0h.5m19.5 0h2.5m27.5 0h2.5M26 27.52h.5m27.5 0h2.5m15.5 0h2.5m19.5 0h2.5M25 29.24h2.5m29.5 0h.5m37.5 0h.5m9.5 0h.5M58 30.96h.5M51 32.68h.5m47.5 0h.5m15.5 0h.5M50 34.4h2.5m45.5 0h.5m19.5 0h2.5M51 36.12h.5M94 37.84h.5m3.5 0h.5M91 39.56h.5m19.5 0h.5M62 41.28h.5m27.5 0h.5M25 43h2.5m33.5 0h.5M8 44.72h.5m15.5 0h2.5M23 46.44h.5m37.5 0h.5m19.5 0h2.5M110 48.16h.5m3.5 0h.5m11.5 0h.5M35 49.88h2.5m5.5 0h.5m71.5 0h.5m9.5 0h2.5M14 51.6h.5m21.5 0h.5m5.5 0h.5m9.5 0h.5m63.5 0h2.5M23 53.32h2.5m21.5 0h.5m19.5 0h2.5m15.5 0h2.5m21.5 0h.5m7.5 0h2.5M88 55.04h.5m9.5 0h.5m11.5 0h.5m5.5 0h6.5M23 56.76h.5m65.5 0h2.5m25.5 0h2.5m3.5 0h.5M18 58.48h.5m33.5 0h4.5m47.5 0h2.5m13.5 0h.5M23 60.2h.5m31.5 0h2.5m43.5 0h4.5m3.5 0h.5m9.5 0h2.5M12 61.92h.5m89.5 0h8.5m7.5 0h2.5M103 63.64h6.5m5.5 0h.5M92 65.36h4.5m13.5 0h6.5M65 67.08h.5m45.5 0h4.5M32 68.8h2.5m75.5 0h4.5m5.5 0h2.5M33 70.52h.5m31.5 0h.5m45.5 0h2.5m5.5 0h2.5m5.5 0h2.5M104 72.24h2.5M69 73.96h2.5m31.5 0h4.5m13.5 0h.5M86 75.68h.5m7.5 0h.5m9.5 0h4.5M105 77.4h.5M104 79.12h4.5m9.5 0h.5M111 80.84h.5M60 82.56h.5m19.5 0h.5m29.5 0h2.5m11.5 0h2.5M11 84.28h.5m95.5 0h4.5M12 86h.5m95.5 0h.5M7 87.72h2.5m59.5 0h.5m49.5 0h.5M82 89.44h2.5m9.5 0h.5m11.5 0h2.5m11.5 0h2.5M83 91.16h2.5m7.5 0h.5m11.5 0h4.5M106 92.88h4.5m11.5 0h.5M51 94.6h.5m53.5 0h.5M104 96.32h2.5m7.5 0h.5M53 98.04h.5m39.5 0h.5m11.5 0h4.5m3.5 0h.5M94 99.76h.5m11.5 0h12.5M67 101.48h.5m11.5 0h.5m21.5 0h.5m9.5 0h.5m5.5 0h.5M34 103.2h4.5m9.5 0h.5m11.5 0h8.5m17.5 0h.5m29.5 0h.5M35 104.92h2.5m25.5 0h6.5M34 106.64h2.5m15.5 0h.5m15.5 0h4.5m15.5 0h4.5M35 108.36h.5m15.5 0h4.5m15.5 0h2.5m13.5 0h2.5M52 110.08h6.5m9.5 0h4.5M69 111.8h4.5m5.5 0h.5m19.5 0h.5M72 113.52h8.5M77 115.24h.5m3.5 0h.5M80 116.96h.5M59 122.12h.5M87 125.56h.5M54 127.28h.5m11.5 0h2.5M65 129h2.5"/><path stroke="#f2736b" d="M66 3.44h.5M63 5.16h.5m3.5 0h2.5M78 10.32h.5M42 13.76h.5m49.5 0h.5M83 18.92h.5M82 24.08h.5M81 25.8h.5M24 27.52h.5M33 32.68h.5m45.5 0h4.5M80 34.4h.5M33 36.12h.5m63.5 0h2.5M74 37.84h.5m21.5 0h.5m25.5 0h.5M45 39.56h.5m21.5 0h.5m9.5 0h.5m15.5 0h6.5m21.5 0h.5M64 41.28h4.5m23.5 0h6.5M7 43h4.5m59.5 0h2.5m17.5 0h6.5m17.5 0h.5M10 44.72h.5m61.5 0h2.5m17.5 0h.5M11 46.44h.5m63.5 0h.5m15.5 0h2.5M74 48.16h.5m5.5 0h.5m11.5 0h.5M81 49.88h2.5m13.5 0h4.5M32 51.6h.5m63.5 0h2.5M13 53.32h.5m15.5 0h2.5m5.5 0h.5m33.5 0h.5m11.5 0h.5m37.5 0h.5M24 55.04h2.5m41.5 0h.5m35.5 0h.5M49 56.76h2.5M90 61.92h.5M53 63.64h.5M18 68.8h.5m11.5 0h.5M17 70.52h.5m9.5 0h2.5M22 72.24h.5m7.5 0h.5m45.5 0h4.5m3.5 0h.5m3.5 0h.5M75 73.96h6.5M18 75.68h.5M31 77.4h.5m17.5 0h.5m29.5 0h.5M26 79.12h6.5M19 80.84h2.5m5.5 0h8.5M20 82.56h.5m7.5 0h6.5M19 84.28h.5m9.5 0h6.5m17.5 0h.5m3.5 0h.5M20 86h.5m33.5 0h2.5m13.5 0h.5M11 87.72h2.5m9.5 0h2.5m21.5 0h.5m7.5 0h.5m65.5 0h.5M12 89.44h.5m7.5 0h.5m33.5 0h.5M115 91.16h.5M118 92.88h2.5M81 94.6h.5m37.5 0h.5M96 96.32h.5M35 98.04h.5m9.5 0h.5M72 103.2h.5M73 104.92h.5m29.5 0h.5M104 106.64h.5M75 108.36h.5M110 110.08h.5M55 111.8h2.5m3.5 0h.5M56 113.52h4.5M55 115.24h.5m3.5 0h2.5m25.5 0h4.5M46 116.96h.5m41.5 0h2.5M45 118.68h2.5m35.5 0h.5m3.5 0h2.5M84 120.4h4.5M85 122.12h2.5M63 125.56h.5m7.5 0h.5"/><path stroke="#c279f9" d="M54 6.88h2.5m13.5 0h.5m15.5 0h.5M57 8.6h.5M68 10.32h2.5M33 12.04h.5m37.5 0h.5m21.5 0h2.5M94 13.76h.5M82 17.2h.5M60 20.64h2.5M43 22.36h2.5m13.5 0h.5M38 24.08h4.5M65 29.24h2.5m19.5 0h4.5m15.5 0h.5M30 30.96h.5m55.5 0h.5M29 32.68h2.5m11.5 0h.5M30 34.4h.5m13.5 0h.5m3.5 0h.5m59.5 0h.5M15 36.12h.5m101.5 0h.5M34 37.84h.5m11.5 0h4.5m65.5 0h4.5M117 39.56h2.5M118 41.28h.5M43 43h2.5m5.5 0h.5M44 44.72h.5m9.5 0h.5m5.5 0h2.5M55 46.44h.5m63.5 0h.5M96 48.16h.5m21.5 0h.5M85 49.88h4.5M72 51.6h.5m13.5 0h4.5M59 53.32h.5m3.5 0h2.5m11.5 0h2.5M60 55.04h.5m15.5 0h2.5m27.5 0h.5m21.5 0h.5M99 56.76h.5m5.5 0h.5M90 58.48h.5m31.5 0h.5M89 60.2h2.5m31.5 0h.5M56 61.92h.5m65.5 0h2.5M55 63.64h2.5M30 65.36h.5m23.5 0h2.5m41.5 0h2.5M51 67.08h2.5m43.5 0h2.5M84 68.8h4.5M23 70.52h2.5m55.5 0h4.5m23.5 0h.5M21 73.96h.5m5.5 0h.5m83.5 0h2.5M14 75.68h.5m11.5 0h4.5m79.5 0h2.5M11 77.4h2.5m13.5 0h2.5m3.5 0h.5M20 79.12h.5m75.5 0h.5M48 82.56h2.5m57.5 0h.5M47 84.28h.5M52 86h.5m9.5 0h.5M51 87.72h2.5m7.5 0h2.5M46 89.44h.5m3.5 0h2.5M80 96.32h.5m3.5 0h.5m31.5 0h.5M29 98.04h.5m61.5 0h.5m11.5 0h.5M30 99.76h.5m61.5 0h.5m11.5 0h.5M29 101.48h.5m61.5 0h2.5m9.5 0h2.5M92 103.2h.5m11.5 0h.5M44 106.64h.5M107 108.36h.5M36 110.08h2.5m7.5 0h.5m61.5 0h.5M63 111.8h.5M79 122.12h.5m3.5 0h.5M80 123.84h.5M65 125.56h.5M72 127.28h.5m3.5 0h.5"/><path stroke="#5f98f9" d="M49 5.16h.5M45 8.6h.5m15.5 0h2.5M36 10.32h.5m25.5 0h4.5M65 12.04h.5m7.5 0h.5m13.5 0h.5M40 17.2h2.5M25 18.92h.5M22 20.64h2.5M23 22.36h.5m7.5 0h.5M30 24.08h.5M29 25.8h.5M61 32.68h.5M22 34.4h.5m37.5 0h.5M21 36.12h2.5m11.5 0h2.5m39.5 0h2.5m31.5 0h4.5M36 37.84h.5m41.5 0h.5m31.5 0h4.5M35 39.56h.5M88 41.28h.5M31 43h.5m3.5 0h.5m51.5 0h2.5M88 44.72h2.5M32 48.16h.5m31.5 0h.5M34 51.6h.5m77.5 0h.5M35 53.32h.5m75.5 0h2.5m11.5 0h2.5M34 55.04h2.5m75.5 0h.5M33 56.76h.5m27.5 0h.5m13.5 0h.5m33.5 0h4.5m7.5 0h.5M124 58.48h2.5M15 60.2h.5m35.5 0h2.5m39.5 0h.5m33.5 0h2.5M128 61.92h.5M71 63.64h.5m55.5 0h.5M50 65.36h2.5m17.5 0h.5m57.5 0h.5M101 67.08h.5m27.5 0h.5M90 68.8h.5M87 70.52h2.5m5.5 0h2.5M16 72.24h2.5m63.5 0h.5m7.5 0h.5m3.5 0h2.5M17 73.96h2.5m31.5 0h.5m13.5 0h2.5m15.5 0h.5m3.5 0h.5M50 75.68h2.5M71 77.4h.5m53.5 0h.5M70 79.12h.5m17.5 0h.5M67 80.84h.5m21.5 0h.5M10 82.56h.5m77.5 0h.5M63 84.28h.5m23.5 0h2.5m23.5 0h.5M113 87.72h.5M69 91.16h2.5M70 92.88h.5M33 98.04h.5m7.5 0h.5M68 99.76h2.5M69 101.48h.5M70 103.2h.5M71 104.92h.5M38 106.64h.5M82 110.08h.5m17.5 0h.5M39 111.8h4.5m37.5 0h.5M40 113.52h.5m41.5 0h.5M53 115.24h.5M48 116.96h.5M69 118.68h.5m9.5 0h2.5m15.5 0h.5M80 120.4h.5M52 123.84h.5M55 125.56h.5m19.5 0h.5"/><path stroke="#eb7a4f" d="M62 6.88h.5M59 8.6h.5M44 10.32h.5M41 12.04h2.5m3.5 0h2.5m9.5 0h.5M36 13.76h.5M92 17.2h.5M91 18.92h2.5M92 20.64h.5m7.5 0h2.5M96 24.08h.5M82 27.52h.5M26 30.96h2.5M46 34.4h.5m21.5 0h.5M47 36.12h2.5m17.5 0h2.5M92 37.84h.5m13.5 0h2.5M73 39.56h.5m33.5 0h2.5M108 41.28h.5M109 43h.5M119 49.88h.5M48 55.04h.5m31.5 0h.5M21 56.76h.5M104 68.8h.5M103 70.52h.5M5 73.96h.5M69 77.4h.5M9 84.28h.5M64 89.44h.5M95 94.6h.5M78 106.64h.5M77 108.36h.5m25.5 0h.5M76 110.08h2.5m23.5 0h.5M97 111.8h.5M98 113.52h4.5M99 115.24h2.5"/><path stroke="#c19501" d="M61 5.16h.5M60 6.88h.5M91 8.6h.5M90 10.32h4.5M84 13.76h2.5M85 15.48h.5M30 17.2h.5M105 18.92h.5M15 32.68h.5M109 36.12h.5M54 41.28h.5M125 43h.5M105 49.88h2.5M106 51.6h2.5M114 55.04h.5M13 56.76h2.5m39.5 0h.5M80 58.48h.5M13 60.2h.5m11.5 0h2.5M10 61.92h.5m15.5 0h2.5m57.5 0h2.5M27 63.64h.5m59.5 0h2.5M86 65.36h4.5m35.5 0h.5M87 67.08h.5m37.5 0h2.5M128 68.8h.5M20 72.24h.5M20 75.68h.5M85 77.4h.5M84 79.12h.5m35.5 0h.5M119 80.84h.5M114 82.56h.5m5.5 0h.5M125 84.28h.5M71 87.72h.5m5.5 0h.5M70 89.44h4.5m3.5 0h2.5M79 91.16h2.5M44 92.88h.5M38 96.32h2.5m45.5 0h.5M67 98.04h.5M46 99.76h.5M47 101.48h2.5M46 103.2h.5M71 115.24h.5M74 123.84h.5"/><path stroke="#5caf01" d="M82 6.88h.5M36 17.2h2.5M107 22.36h2.5M50 24.08h2.5m55.5 0h2.5M75 25.8h.5m33.5 0h2.5M32 27.52h.5m79.5 0h.5M15 29.24h.5m43.5 0h.5M14 30.96h2.5M69 32.68h.5M67 43h.5m49.5 0h.5M109 46.44h2.5M48 48.16h2.5M61 49.88h.5m47.5 0h.5M82 51.6h2.5M50 55.04h.5M67 56.76h.5m9.5 0h2.5M68 58.48h.5m9.5 0h.5M21 60.2h.5m45.5 0h.5M20 61.92h2.5M95 63.64h.5M102 65.36h4.5M17 67.08h.5m85.5 0h2.5M70 75.68h2.5m23.5 0h.5M95 77.4h.5M106 82.56h.5M30 86h2.5m25.5 0h2.5M73 87.72h2.5m27.5 0h.5M68 89.44h.5M65 91.16h.5M66 92.88h.5M65 94.6h.5M43 98.04h.5M40 99.76h2.5M59 101.48h.5M105 104.92h.5M62 106.64h.5M49 108.36h.5M108 113.52h.5M93 122.12h2.5"/><path stroke="#01ba72" d="M89 8.6h.5M76 10.32h.5M66 13.76h.5M35 18.92h2.5M36 20.64h4.5m43.5 0h.5M37 22.36h2.5m47.5 0h.5M88 24.08h.5M28 27.52h.5M82 34.4h.5M84 37.84h.5M79 39.56h2.5M114 44.72h.5M31 46.44h.5m81.5 0h.5m9.5 0h.5M30 48.16h.5m3.5 0h.5m85.5 0h.5M23 49.88h2.5m13.5 0h2.5M22 51.6h2.5m13.5 0h.5m81.5 0h.5M103 56.76h.5M102 58.48h.5M99 60.2h.5M24 61.92h.5m87.5 0h2.5M113 63.64h.5M32 65.36h.5M121 67.08h.5M116 68.8h2.5M35 70.52h.5M4 72.24h.5M22 79.12h2.5M81 80.84h.5M102 82.56h.5M103 84.28h2.5M6 86h.5m93.5 0h6.5M105 87.72h2.5M48 96.32h6.5M47 98.04h2.5m5.5 0h.5M32 99.76h4.5M33 101.48h.5M30 103.2h.5M58 106.64h2.5M57 108.36h4.5M60 110.08h.5M59 111.8h.5m5.5 0h.5M64 113.52h.5M41 115.24h4.5m27.5 0h.5M44 116.96h.5m49.5 0h.5M78 123.84h.5m3.5 0h.5M77 125.56h.5"/><path stroke="#01b8d0" d="M68 3.44h6.5M73 5.16h.5M67 12.04h.5m23.5 0h.5m5.5 0h.5M28 20.64h6.5m29.5 0h4.5M29 22.36h.5m3.5 0h.5M62 24.08h2.5M31 25.8h.5m5.5 0h.5m25.5 0h2.5m23.5 0h.5M30 27.52h.5M31 29.24h.5M110 34.4h.5m3.5 0h2.5M101 39.56h.5m3.5 0h.5M106 41.28h.5m3.5 0h4.5M33 43h.5m21.5 0h.5m3.5 0h.5m3.5 0h.5m5.5 0h.5m37.5 0h.5m3.5 0h.5M32 44.72h4.5m19.5 0h2.5m7.5 0h.5m37.5 0h.5M33 46.44h.5m31.5 0h2.5m37.5 0h.5M14 48.16h.5M7 49.88h.5m23.5 0h2.5M6 51.6h2.5m45.5 0h.5M5 53.32h2.5m45.5 0h2.5m25.5 0h.5M4 55.04h.5m17.5 0h.5m35.5 0h.5m13.5 0h.5M5 56.76h.5m31.5 0h4.5m85.5 0h.5M22 58.48h.5m13.5 0h.5M6 61.92h2.5M58 65.36h2.5m21.5 0h.5M4 68.8h.5M29 73.96h.5M122 75.68h.5M103 77.4h.5m13.5 0h.5M112 79.12h4.5M69 80.84h.5m47.5 0h.5M68 82.56h4.5m43.5 0h2.5M71 84.28h4.5m41.5 0h.5M72 86h.5M58 89.44h2.5M45 91.16h.5m9.5 0h2.5m61.5 0h.5M96 92.88h.5M28 99.76h.5m23.5 0h4.5M53 101.48h2.5M74 106.64h.5m5.5 0h.5M85 108.36h.5M74 110.08h.5M75 111.8h2.5m29.5 0h.5M106 113.52h.5M105 115.24h.5M104 116.96h.5M50 120.4h.5m43.5 0h2.5M84 123.84h2.5M57 125.56h2.5m7.5 0h2.5m13.5 0h2.5"/><path stroke="#ef62dd" d="M53 5.16h2.5M50 6.88h2.5M73 8.6h.5M72 10.32h.5M90 20.64h.5M89 22.36h.5M55 25.8h.5M92 34.4h2.5M119 43h.5M121 46.44h.5M62 65.36h.5M61 67.08h2.5M60 68.8h2.5M57 70.52h.5M56 72.24h2.5m27.5 0h.5m5.5 0h.5M57 73.96h2.5m33.5 0h.5M58 75.68h2.5m27.5 0h.5M89 77.4h.5M25 80.84h.5M104 82.56h.5M96 99.76h.5M37 101.48h6.5m51.5 0h.5m11.5 0h2.5m3.5 0h2.5M40 103.2h4.5m49.5 0h.5m3.5 0h.5m7.5 0h2.5M39 104.92h2.5M65 108.36h2.5M66 110.08h.5M42 113.52h.5m45.5 0h.5"/><path stroke="#f962ac" d="M64 6.88h2.5M65 8.6h.5M80 10.32h.5m15.5 0h.5M88 13.76h.5M85 18.92h.5M82 20.64h.5M35 22.36h.5M34 24.08h2.5M33 25.8h2.5m71.5 0h.5M34 27.52h.5M17 36.12h.5m43.5 0h.5M68 37.84h.5M43 39.56h.5M44 41.28h.5M29 43h.5m9.5 0h.5M30 44.72h.5M69 46.44h.5M12 48.16h.5m57.5 0h.5M110 51.6h.5M123 53.32h.5M100 55.04h.5m23.5 0h.5M94 61.92h.5M129 63.64h.5M55 67.08h.5m33.5 0h.5M64 68.8h.5M91 77.4h.5M74 82.56h.5M54 106.64h.5M75 115.24h.5M62 120.4h.5m27.5 0h2.5m5.5 0h.5M61 122.12h.5"/></g></defs><g transform="translate(207 181) scale(0.86)" fill="none" stroke-linecap="round"><use href="#b2" stroke-width="2.25" filter="url(#dk)"/><use href="#b2" stroke-width="1.62" stroke-dasharray="0 2"/></g><defs><g id="b3"><path stroke="#d98901" d="M41 8.6h.5M32 10.32h.5m7.5 0h.5M29 12.04h.5m53.5 0h.5M62 13.76h.5m29.5 0h.5M25 15.48h2.5m19.5 0h.5m13.5 0h.5m17.5 0h2.5m11.5 0h.5M24 17.2h2.5m35.5 0h.5m15.5 0h6.5m3.5 0h2.5m3.5 0h2.5M57 18.92h4.5m15.5 0h6.5m7.5 0h2.5M32 20.64h2.5m19.5 0h4.5m19.5 0h4.5m5.5 0h4.5M89 22.36h2.5M40 24.08h8.5m41.5 0h.5M21 25.8h.5m19.5 0h8.5M40 27.52h2.5m3.5 0h2.5m11.5 0h2.5m25.5 0h.5m17.5 0h2.5M23 29.24h.5m37.5 0h2.5M20 30.96h.5m7.5 0h.5m33.5 0h2.5m13.5 0h.5m7.5 0h2.5M63 32.68h.5m11.5 0h4.5m3.5 0h.5M28 34.4h.5m5.5 0h2.5m41.5 0h.5M35 36.12h.5m19.5 0h2.5M34 37.84h.5m13.5 0h.5m5.5 0h2.5m33.5 0h.5m23.5 0h4.5M55 39.56h.5m31.5 0h4.5m13.5 0h.5m11.5 0h.5M42 41.28h2.5m9.5 0h.5m37.5 0h.5m23.5 0h.5M39 43h2.5m41.5 0h8.5m23.5 0h4.5M32 44.72h2.5m31.5 0h.5m5.5 0h.5m9.5 0h6.5m27.5 0h4.5M15 46.44h.5M16 48.16h2.5m25.5 0h.5m3.5 0h.5m35.5 0h2.5m9.5 0h2.5m7.5 0h.5M65 49.88h.5m17.5 0h.5m13.5 0h2.5m5.5 0h.5M6 51.6h.5m7.5 0h.5m25.5 0h.5m37.5 0h.5m23.5 0h.5m3.5 0h2.5M7 53.32h.5m29.5 0h4.5m13.5 0h2.5M6 55.04h2.5m5.5 0h.5m7.5 0h2.5m13.5 0h4.5m13.5 0h.5M7 56.76h.5m7.5 0h2.5m11.5 0h.5m7.5 0h4.5m7.5 0h2.5m3.5 0h2.5m71.5 0h.5M16 58.48h4.5m27.5 0h.5m7.5 0h2.5m71.5 0h.5M17 60.2h.5m37.5 0h2.5m39.5 0h.5M36 61.92h.5m25.5 0h.5m17.5 0h.5m15.5 0h.5M11 63.64h2.5m21.5 0h2.5m13.5 0h.5m7.5 0h.5m19.5 0h2.5M4 65.36h.5m3.5 0h.5m3.5 0h.5m21.5 0h2.5m7.5 0h4.5m7.5 0h2.5m63.5 0h2.5M7 67.08h.5m27.5 0h2.5m5.5 0h4.5m5.5 0h2.5m39.5 0h.5m15.5 0h.5m11.5 0h2.5M6 68.8h4.5m31.5 0h.5m7.5 0h.5M23 70.52h.5m5.5 0h.5m9.5 0h4.5m41.5 0h4.5M8 72.24h.5m7.5 0h.5m5.5 0h2.5m3.5 0h2.5m7.5 0h4.5m11.5 0h.5m31.5 0h4.5M23 73.96h6.5m25.5 0h2.5m31.5 0h.5M12 75.68h2.5m11.5 0h8.5m19.5 0h2.5m25.5 0h.5m25.5 0h.5M11 77.4h4.5m5.5 0h4.5m19.5 0h2.5m5.5 0h2.5M22 79.12h4.5m21.5 0h.5m3.5 0h4.5m3.5 0h.5m59.5 0h4.5M19 80.84h.5m3.5 0h.5m29.5 0h2.5m5.5 0h.5m55.5 0h.5M18 82.56h4.5m13.5 0h4.5m5.5 0h8.5m65.5 0h.5M23 84.28h.5m11.5 0h4.5m19.5 0h.5m9.5 0h2.5M22 86h2.5m11.5 0h4.5m31.5 0h4.5m29.5 0h2.5m21.5 0h.5M23 87.72h2.5m39.5 0h2.5m15.5 0h.5m19.5 0h2.5m11.5 0h2.5m11.5 0h.5M16 89.44h.5m5.5 0h.5m19.5 0h8.5m15.5 0h2.5m13.5 0h2.5m19.5 0h2.5M17 91.16h6.5m17.5 0h4.5m3.5 0h2.5m55.5 0h.5m3.5 0h2.5M24 92.88h2.5m7.5 0h2.5m5.5 0h2.5m63.5 0h6.5M15 94.6h.5m5.5 0h6.5m5.5 0h2.5m7.5 0h.5m9.5 0h.5m11.5 0h.5m3.5 0h.5m29.5 0h.5m5.5 0h2.5m7.5 0h.5M14 96.32h2.5m5.5 0h4.5m5.5 0h6.5m3.5 0h.5m11.5 0h2.5m33.5 0h6.5m3.5 0h6.5m7.5 0h.5M15 98.04h8.5m3.5 0h8.5m3.5 0h2.5m47.5 0h2.5m9.5 0h4.5M14 99.76h10.5m5.5 0h2.5m3.5 0h4.5m35.5 0h4.5M21 101.48h2.5m7.5 0h.5m45.5 0h4.5M22 103.2h2.5m5.5 0h2.5m21.5 0h.5m7.5 0h2.5m3.5 0h.5m5.5 0h10.5m19.5 0h.5M21 104.92h2.5m3.5 0h4.5m5.5 0h2.5m11.5 0h4.5m5.5 0h6.5m5.5 0h4.5m3.5 0h2.5m21.5 0h.5m5.5 0h.5M14 106.64h.5m13.5 0h2.5m19.5 0h.5m3.5 0h2.5m3.5 0h.5m5.5 0h2.5m7.5 0h.5m7.5 0h2.5m17.5 0h.5m5.5 0h2.5M17 108.36h.5m9.5 0h4.5m9.5 0h4.5m3.5 0h.5m7.5 0h.5m3.5 0h.5m7.5 0h.5m7.5 0h2.5m47.5 0h.5M24 110.08h2.5m3.5 0h.5m11.5 0h4.5m3.5 0h.5m11.5 0h2.5m61.5 0h2.5M23 111.8h4.5m15.5 0h10.5m7.5 0h.5m21.5 0h2.5m41.5 0h.5M20 113.52h2.5m5.5 0h.5m15.5 0h2.5m3.5 0h2.5m31.5 0h2.5m39.5 0h.5M65 115.24h2.5m17.5 0h.5m9.5 0h.5M56 116.96h.5M39 118.68h2.5m13.5 0h4.5m17.5 0h.5M56 120.4h2.5m35.5 0h2.5m13.5 0h.5M57 122.12h2.5m35.5 0h2.5m7.5 0h4.5M54 123.84h.5m39.5 0h2.5m11.5 0h.5M55 125.56h2.5m11.5 0h2.5m35.5 0h.5M58 127.28h.5m9.5 0h6.5M73 129h.5M96 130.72h.5M79 132.44h4.5m11.5 0h2.5M76 134.16h8.5M75 135.88h8.5"/><path stroke="#5caf01" d="M49 8.6h.5M60 10.32h.5M74 13.76h.5m11.5 0h4.5M49 15.48h2.5m5.5 0h.5m17.5 0h.5m7.5 0h4.5m3.5 0h.5M52 17.2h8.5m13.5 0h2.5m15.5 0h.5M37 18.92h.5m13.5 0h2.5m9.5 0h2.5m7.5 0h2.5M36 20.64h4.5m11.5 0h.5m9.5 0h4.5m3.5 0h2.5m13.5 0h.5M33 22.36h.5m3.5 0h.5m41.5 0h2.5m5.5 0h.5M34 24.08h4.5m39.5 0h10.5M37 25.8h2.5m11.5 0h.5m27.5 0h2.5M44 27.52h.5m13.5 0h.5m7.5 0h2.5m9.5 0h4.5M43 29.24h2.5m9.5 0h.5m9.5 0h2.5m15.5 0h4.5m11.5 0h.5m3.5 0h6.5M34 30.96h.5m9.5 0h2.5m7.5 0h6.5m5.5 0h4.5m31.5 0h6.5M19 32.68h.5m3.5 0h.5m13.5 0h10.5m9.5 0h2.5m9.5 0h.5m25.5 0h.5m5.5 0h6.5M22 34.4h.5m19.5 0h.5m5.5 0h.5m13.5 0h4.5m25.5 0h2.5m3.5 0h8.5m5.5 0h.5M21 36.12h.5m25.5 0h2.5m41.5 0h6.5m5.5 0h2.5M22 37.84h.5m49.5 0h.5m3.5 0h.5m15.5 0h2.5m3.5 0h.5M13 39.56h2.5m11.5 0h.5m5.5 0h.5m59.5 0h2.5m23.5 0h.5M14 41.28h2.5m7.5 0h4.5m39.5 0h.5m25.5 0h.5m23.5 0h2.5M15 43h.5m13.5 0h.5m39.5 0h.5m7.5 0h.5m15.5 0h.5m19.5 0h.5m7.5 0h.5M50 44.72h.5m41.5 0h.5m19.5 0h2.5m7.5 0h.5M85 46.44h.5m3.5 0h.5m21.5 0h2.5m7.5 0h.5M56 48.16h.5m31.5 0h.5m15.5 0h.5m19.5 0h.5M23 49.88h2.5m17.5 0h2.5m57.5 0h.5m11.5 0h.5M10 51.6h.5m19.5 0h4.5m31.5 0h.5m37.5 0h.5m9.5 0h4.5M15 53.32h6.5m7.5 0h6.5m17.5 0h.5m11.5 0h.5m39.5 0h.5M16 55.04h4.5m9.5 0h.5m5.5 0h.5m15.5 0h2.5m3.5 0h.5m5.5 0h2.5m9.5 0h.5m23.5 0h4.5m7.5 0h2.5m9.5 0h2.5M19 56.76h4.5m29.5 0h.5m9.5 0h2.5m11.5 0h2.5m7.5 0h.5m11.5 0h.5m11.5 0h.5m11.5 0h2.5M22 58.48h4.5m23.5 0h.5m13.5 0h2.5m9.5 0h2.5m7.5 0h.5m19.5 0h2.5m15.5 0h2.5M21 60.2h.5m43.5 0h.5m13.5 0h.5m7.5 0h.5m19.5 0h2.5m13.5 0h2.5M8 61.92h.5m9.5 0h4.5m5.5 0h.5m13.5 0h4.5m55.5 0h.5m3.5 0h4.5M5 63.64h.5m13.5 0h2.5m5.5 0h4.5m9.5 0h4.5m41.5 0h.5m13.5 0h.5M26 65.36h6.5m5.5 0h.5m3.5 0h.5m23.5 0h.5m23.5 0h2.5M27 67.08h.5m3.5 0h.5m37.5 0h.5m21.5 0h2.5m3.5 0h2.5M28 68.8h.5m27.5 0h.5m29.5 0h2.5m3.5 0h.5m3.5 0h.5M53 70.52h.5m3.5 0h.5m55.5 0h2.5M6 72.24h.5m51.5 0h2.5m7.5 0h2.5m41.5 0h4.5m11.5 0h2.5M61 73.96h8.5m9.5 0h.5m3.5 0h2.5m19.5 0h.5m23.5 0h.5M62 75.68h.5m11.5 0h6.5m3.5 0h.5m21.5 0h.5M73 77.4h8.5m15.5 0h.5m9.5 0h.5m9.5 0h4.5M10 79.12h.5m27.5 0h.5m27.5 0h.5m7.5 0h4.5m15.5 0h.5m3.5 0h.5m19.5 0h.5m7.5 0h.5M9 80.84h6.5m23.5 0h.5m11.5 0h.5m15.5 0h2.5m5.5 0h6.5m21.5 0h2.5M10 82.56h4.5m41.5 0h2.5m3.5 0h.5m5.5 0h2.5m5.5 0h.5m27.5 0h.5m25.5 0h2.5M9 84.28h.5m37.5 0h.5m5.5 0h4.5m17.5 0h2.5m21.5 0h4.5m27.5 0h2.5M10 86h.5m15.5 0h.5m21.5 0h.5m5.5 0h2.5m43.5 0h.5m9.5 0h4.5m17.5 0h2.5M9 87.72h.5m35.5 0h2.5m27.5 0h.5m9.5 0h.5m3.5 0h.5m11.5 0h.5m11.5 0h.5m19.5 0h2.5M102 89.44h.5m29.5 0h2.5M85 91.16h.5m5.5 0h2.5m23.5 0h2.5M38 92.88h2.5m39.5 0h6.5m3.5 0h2.5m9.5 0h.5m13.5 0h6.5M37 94.6h2.5m47.5 0h.5m3.5 0h2.5m23.5 0h2.5m3.5 0h.5M120 96.32h.5m3.5 0h.5m5.5 0h2.5M53 98.04h4.5m61.5 0h.5m3.5 0h2.5m3.5 0h2.5M54 99.76h4.5M51 101.48h.5m55.5 0h4.5M40 103.2h2.5m9.5 0h.5m3.5 0h.5m51.5 0h2.5M33 104.92h2.5m43.5 0h.5m23.5 0h.5m11.5 0h2.5M22 106.64h2.5m7.5 0h.5m37.5 0h2.5m5.5 0h2.5M71 108.36h4.5m13.5 0h2.5M52 110.08h4.5m15.5 0h6.5m3.5 0h.5m7.5 0h2.5m7.5 0h2.5M31 111.8h2.5m21.5 0h.5m9.5 0h.5m3.5 0h10.5m19.5 0h2.5m17.5 0h.5M30 113.52h6.5m29.5 0h.5m3.5 0h.5m3.5 0h2.5m11.5 0h.5m7.5 0h2.5m21.5 0h2.5M33 115.24h2.5m21.5 0h.5m23.5 0h2.5m5.5 0h2.5m7.5 0h.5m5.5 0h.5m13.5 0h2.5M36 116.96h6.5m19.5 0h2.5m23.5 0h8.5m5.5 0h.5m19.5 0h.5M63 118.68h.5m25.5 0h.5m3.5 0h.5m9.5 0h.5M90 120.4h.5M47 122.12h.5m13.5 0h2.5m19.5 0h6.5m25.5 0h.5M58 123.84h6.5m19.5 0h2.5m27.5 0h.5M61 125.56h.5m19.5 0h2.5M82 127.28h.5m9.5 0h2.5m7.5 0h2.5m7.5 0h.5M91 129h4.5m15.5 0h.5M78 130.72h.5m11.5 0h4.5M89 132.44h2.5M88 134.16h6.5M91 135.88h2.5"/><path stroke="#01b538" d="M70 10.32h.5M75 12.04h.5M99 18.92h.5M100 20.64h.5M83 22.36h.5m17.5 0h.5M23 25.8h4.5m27.5 0h.5m33.5 0h.5M24 27.52h4.5m61.5 0h2.5M21 29.24h.5m67.5 0h2.5M115 32.68h.5M50 34.4h.5m9.5 0h.5M115 36.12h2.5M22 41.28h.5m11.5 0h.5M79 43h.5M78 44.72h.5M11 46.44h.5m111.5 0h.5M8 48.16h2.5m101.5 0h.5M9 49.88h2.5m89.5 0h.5m5.5 0h.5M54 51.6h.5m13.5 0h2.5m29.5 0h.5M59 53.32h.5m39.5 0h2.5m11.5 0h2.5M28 55.04h.5m3.5 0h2.5m43.5 0h2.5m7.5 0h.5M31 56.76h4.5m67.5 0h.5M28 58.48h.5m5.5 0h.5m25.5 0h2.5m9.5 0h.5M19 60.2h.5m3.5 0h.5m3.5 0h.5m21.5 0h.5m19.5 0h2.5M10 61.92h2.5m37.5 0h.5m31.5 0h.5m37.5 0h.5m5.5 0h.5m3.5 0h.5M86 65.36h.5m17.5 0h.5M61 67.08h.5m19.5 0h2.5m21.5 0h.5m27.5 0h.5M46 68.8h2.5M49 70.52h.5m11.5 0h2.5M12 72.24h.5m51.5 0h2.5m7.5 0h4.5m39.5 0h.5M7 73.96h4.5m9.5 0h.5m27.5 0h2.5m21.5 0h.5m45.5 0h4.5M8 75.68h2.5m39.5 0h2.5m49.5 0h.5m13.5 0h4.5M33 77.4h2.5m15.5 0h.5m19.5 0h.5m29.5 0h.5M100 79.12h.5M97 80.84h4.5M96 82.56h4.5M27 84.28h.5m69.5 0h.5M18 86h.5m105.5 0h2.5M81 87.72h.5m41.5 0h4.5M24 89.44h.5m99.5 0h2.5M25 91.16h.5m47.5 0h.5m49.5 0h2.5M66 92.88h2.5m3.5 0h.5M63 94.6h.5m3.5 0h.5m27.5 0h.5M28 96.32h.5m37.5 0h.5M43 98.04h.5M126 99.76h.5M13 101.48h.5m29.5 0h.5m81.5 0h2.5M122 103.2h6.5M17 104.92h2.5m5.5 0h.5m19.5 0h.5m77.5 0h2.5M18 106.64h2.5m21.5 0h.5m45.5 0h.5m3.5 0h.5m29.5 0h.5m3.5 0h.5M21 108.36h4.5m61.5 0h.5M18 110.08h4.5m91.5 0h4.5M19 111.8h2.5m91.5 0h2.5M118 113.52h.5M43 115.24h.5M44 116.96h.5M43 118.68h.5M56 123.84h.5m53.5 0h.5M110 127.28h.5M105 129h4.5M77 132.44h.5M70 134.16h.5"/><path stroke="#01a9f4" d="M45 8.6h2.5M46 10.32h.5M39 12.04h.5m7.5 0h.5m3.5 0h4.5m3.5 0h4.5M38 13.76h.5m11.5 0h8.5M53 15.48h2.5m7.5 0h.5M38 17.2h.5M69 18.92h.5M35 22.36h.5m49.5 0h.5M92 24.08h.5m3.5 0h.5M91 25.8h4.5M110 30.96h.5M55 32.68h.5m17.5 0h.5m25.5 0h.5M38 34.4h.5m19.5 0h.5m37.5 0h.5M37 36.12h4.5m17.5 0h2.5m5.5 0h.5m7.5 0h4.5M42 37.84h.5m17.5 0h2.5m3.5 0h.5m41.5 0h.5M23 39.56h.5m45.5 0h2.5m35.5 0h.5M70 41.28h.5m35.5 0h.5M13 43h.5m3.5 0h.5m3.5 0h4.5m29.5 0h.5m19.5 0h.5m21.5 0h.5m9.5 0h4.5M14 44.72h2.5m37.5 0h.5m19.5 0h2.5m19.5 0h.5m9.5 0h2.5M17 46.44h.5m23.5 0h2.5m11.5 0h2.5m3.5 0h6.5m5.5 0h6.5m27.5 0h.5M40 48.16h2.5m7.5 0h4.5m5.5 0h6.5m5.5 0h10.5m27.5 0h.5m3.5 0h.5M29 49.88h.5m9.5 0h.5m7.5 0h6.5m5.5 0h4.5m5.5 0h10.5M36 51.6h2.5m35.5 0h2.5M85 53.32h.5m33.5 0h.5M26 55.04h.5m79.5 0h.5M43 56.76h.5m29.5 0h.5m7.5 0h.5M30 58.48h.5m11.5 0h4.5m7.5 0h.5m25.5 0h.5M31 60.2h2.5m9.5 0h4.5m3.5 0h2.5m13.5 0h.5M34 61.92h.5m41.5 0h2.5M23 63.64h.5m9.5 0h.5m39.5 0h4.5M24 65.36h.5m49.5 0h4.5M29 67.08h.5m19.5 0h2.5m5.5 0h.5m15.5 0h6.5M14 68.8h.5m43.5 0h.5m15.5 0h10.5m9.5 0h.5m31.5 0h2.5M19 70.52h.5m57.5 0h6.5m9.5 0h2.5m11.5 0h.5M80 72.24h.5m29.5 0h.5m11.5 0h.5M75 73.96h2.5M36 75.68h.5m9.5 0h2.5m15.5 0h2.5m5.5 0h.5m49.5 0h.5M37 77.4h.5m3.5 0h.5m21.5 0h2.5m57.5 0h.5M12 79.12h.5m23.5 0h.5m7.5 0h.5m5.5 0h.5m11.5 0h2.5M43 80.84h6.5m13.5 0h.5m31.5 0h.5m13.5 0h.5m5.5 0h.5m3.5 0h.5M44 82.56h.5m63.5 0h.5M11 84.28h.5m7.5 0h2.5m45.5 0h.5m11.5 0h.5M28 86h.5m37.5 0h4.5m19.5 0h.5M19 87.72h2.5m7.5 0h.5m39.5 0h2.5M20 89.44h.5m49.5 0h.5m9.5 0h.5m5.5 0h2.5M11 91.16h4.5m51.5 0h2.5m9.5 0h4.5m3.5 0h.5M12 92.88h2.5m73.5 0h.5M17 94.6h.5m63.5 0h.5M18 96.32h2.5m49.5 0h.5m13.5 0h2.5M69 98.04h2.5m11.5 0h2.5m41.5 0h.5M26 99.76h.5m25.5 0h.5m19.5 0h.5m9.5 0h2.5m3.5 0h.5m3.5 0h.5m7.5 0h4.5m23.5 0h2.5M71 101.48h4.5m7.5 0h2.5m3.5 0h2.5m9.5 0h4.5m23.5 0h.5M14 103.2h.5m55.5 0h2.5m15.5 0h.5m5.5 0h.5m11.5 0h.5M69 104.92h2.5m13.5 0h2.5m5.5 0h.5m13.5 0h.5m5.5 0h.5M82 106.64h.5m11.5 0h2.5m17.5 0h.5M33 108.36h2.5m45.5 0h2.5m9.5 0h2.5m17.5 0h2.5M32 110.08h6.5m55.5 0h.5M41 111.8h.5m51.5 0h2.5M38 113.52h4.5m5.5 0h.5m45.5 0h.5M41 115.24h.5m5.5 0h.5m39.5 0h.5m5.5 0h.5M46 116.96h.5m33.5 0h6.5M81 118.68h4.5M52 120.4h.5M109 125.56h.5M99 129h4.5M76 130.72h.5m5.5 0h.5m17.5 0h.5M75 132.44h.5M87 135.88h.5"/><path stroke="#01bc9c" d="M45 15.48h.5M27 18.92h.5M65 22.36h.5M74 24.08h2.5M77 25.8h.5M76 27.52h.5m7.5 0h.5M49 29.24h.5M100 30.96h.5M63 36.12h2.5M64 37.84h.5m21.5 0h.5M61 39.56h.5m23.5 0h.5M18 41.28h.5m65.5 0h.5m3.5 0h2.5M19 43h.5m11.5 0h2.5M110 44.72h.5M95 46.44h2.5m17.5 0h.5M94 48.16h.5M17 49.88h2.5m105.5 0h.5M16 51.6h.5m33.5 0h.5m11.5 0h.5m63.5 0h.5M47 53.32h2.5m11.5 0h2.5M116 55.04h2.5M52 58.48h.5M29 60.2h.5m7.5 0h.5M54 61.92h2.5m71.5 0h.5M25 63.64h.5m27.5 0h4.5m13.5 0h.5m55.5 0h4.5M22 65.36h.5m61.5 0h.5m43.5 0h2.5M15 67.08h.5m3.5 0h4.5M22 68.8h.5m49.5 0h.5M73 70.52h.5M17 73.96h.5m13.5 0h2.5M112 75.68h.5M61 77.4h.5m5.5 0h.5m37.5 0h.5m3.5 0h.5m17.5 0h.5M92 79.12h.5M92 82.56h.5m9.5 0h.5m3.5 0h.5m5.5 0h2.5M109 84.28h4.5M94 86h2.5m25.5 0h.5M97 87.72h2.5m21.5 0h.5M96 89.44h2.5m21.5 0h2.5M95 91.16h6.5m19.5 0h.5M94 92.88h2.5M57 94.6h4.5m11.5 0h2.5M58 96.32h.5m13.5 0h2.5M93 98.04h2.5m19.5 0h.5M34 99.76h.5m51.5 0h.5m7.5 0h.5M33 101.48h.5m65.5 0h.5M96 103.2h.5m3.5 0h2.5M47 104.92h.5m47.5 0h6.5M44 106.64h.5m29.5 0h.5m27.5 0h.5M59 108.36h.5m43.5 0h6.5M104 110.08h6.5M107 111.8h2.5M58 116.96h2.5M61 118.68h.5M81 122.12h.5M82 123.84h.5m23.5 0h.5M103 125.56h2.5M61 129h.5M67 132.44h.5"/><path stroke="#d670f5" d="M48 10.32h.5m3.5 0h2.5M44 13.76h.5m39.5 0h.5M43 15.48h.5M28 20.64h.5M66 24.08h.5m33.5 0h.5M54 27.52h.5M81 29.24h.5m15.5 0h.5M42 30.96h.5m37.5 0h4.5m9.5 0h.5M81 32.68h.5m27.5 0h.5m3.5 0h.5M30 34.4h.5m37.5 0h.5M85 36.12h.5m25.5 0h.5M12 48.16h2.5m9.5 0h.5M7 49.88h.5M23 53.32h.5m97.5 0h2.5m3.5 0h.5M46 55.04h2.5M11 56.76h2.5m11.5 0h.5m21.5 0h.5M110 58.48h.5M35 60.2h.5M32 61.92h.5m19.5 0h.5M7 63.64h2.5m83.5 0h4.5M6 65.36h.5m3.5 0h.5m83.5 0h4.5M9 67.08h4.5m3.5 0h.5m7.5 0h.5M24 68.8h.5m75.5 0h2.5M21 70.52h.5m79.5 0h.5M44 72.24h4.5m71.5 0h.5M13 73.96h.5m29.5 0h4.5M24 75.68h.5M110 79.12h.5M83 80.84h.5m23.5 0h.5M16 82.56h.5m65.5 0h.5M29 84.28h.5M30 86h.5m29.5 0h2.5M27 87.72h.5m7.5 0h6.5m19.5 0h.5m25.5 0h.5M26 89.44h.5m9.5 0h4.5M35 91.16h4.5m15.5 0h.5m47.5 0h.5M54 92.88h2.5M13 94.6h.5m15.5 0h2.5m23.5 0h.5m27.5 0h.5M30 96.32h.5m91.5 0h.5M67 98.04h.5m19.5 0h.5m33.5 0h.5M90 99.76h.5M29 101.48h.5m57.5 0h.5M50 103.2h.5m35.5 0h.5m43.5 0h.5M49 104.92h.5M36 106.64h.5m11.5 0h.5m15.5 0h.5m33.5 0h2.5M47 108.36h.5m17.5 0h2.5m29.5 0h4.5m17.5 0h4.5M66 110.08h4.5m25.5 0h2.5m21.5 0h4.5M17 111.8h.5m11.5 0h.5m7.5 0h.5m65.5 0h2.5m15.5 0h2.5M18 113.52h.5m81.5 0h2.5m9.5 0h4.5m7.5 0h.5M117 115.24h.5m5.5 0h.5M82 120.4h4.5m15.5 0h.5M103 122.12h.5M104 123.84h.5M66 127.28h.5m39.5 0h2.5M98 130.72h.5M93 132.44h.5M96 134.16h.5"/><path stroke="#f2736b" d="M46 6.88h.5M66 10.32h.5M77 12.04h4.5M28 13.76h2.5m47.5 0h4.5M27 22.36h.5m11.5 0h4.5M65 25.8h2.5M57 29.24h2.5M48 30.96h.5M40 34.4h.5M51 36.12h.5m19.5 0h2.5M16 37.84h.5m35.5 0h.5m17.5 0h.5m25.5 0h.5M59 39.56h.5m37.5 0h.5M56 41.28h4.5M27 43h.5m45.5 0h.5M80 44.72h.5m9.5 0h.5M13 46.44h.5m45.5 0h.5M58 48.16h.5M42 51.6h2.5M103 53.32h.5M44 55.04h.5M61 56.76h.5M32 58.48h.5m79.5 0h.5M83 60.2h2.5M38 61.92h.5m27.5 0h.5m47.5 0h.5m7.5 0h2.5M39 63.64h.5m27.5 0h2.5m45.5 0h10.5M62 65.36h.5m5.5 0h2.5m47.5 0h2.5m5.5 0h.5m5.5 0h.5M59 67.08h.5m3.5 0h.5m3.5 0h.5m3.5 0h.5m47.5 0h.5m9.5 0h2.5M30 68.8h.5m29.5 0h10.5m19.5 0h.5m7.5 0h.5m19.5 0h.5m11.5 0h2.5M5 70.52h2.5m57.5 0h6.5m19.5 0h.5m39.5 0h.5M56 72.24h.5M15 73.96h.5m37.5 0h.5m57.5 0h.5M16 75.68h.5m41.5 0h2.5m67.5 0h2.5M59 77.4h.5m53.5 0h.5m15.5 0h2.5M40 79.12h2.5m27.5 0h2.5m31.5 0h.5m23.5 0h.5M41 80.84h.5m51.5 0h.5m27.5 0h2.5M78 82.56h2.5m41.5 0h.5M92 86h.5m5.5 0h.5M49 87.72h.5m41.5 0h.5M60 89.44h2.5m45.5 0h2.5M61 91.16h.5m43.5 0h.5m3.5 0h.5M18 92.88h4.5m23.5 0h2.5m49.5 0h.5m5.5 0h.5M19 94.6h.5m77.5 0h.5M60 96.32h2.5m35.5 0h.5M28 99.76h.5m89.5 0h.5m3.5 0h2.5M67 101.48h.5M66 103.2h.5M13 104.92h.5m27.5 0h2.5m83.5 0h.5M28 110.08h.5M104 116.96h2.5M65 118.68h.5m5.5 0h.5m25.5 0h.5m7.5 0h4.5M50 120.4h.5m3.5 0h.5m9.5 0h.5m33.5 0h.5m5.5 0h2.5m7.5 0h.5M84 127.28h2.5"/><path stroke="#a2a001" d="M30 10.32h.5M27 12.04h.5m3.5 0h.5m33.5 0h.5m5.5 0h2.5M26 13.76h.5m37.5 0h2.5m5.5 0h.5m3.5 0h.5M33 15.48h4.5m39.5 0h.5m17.5 0h.5M40 17.2h2.5M26 20.64h.5M25 22.36h.5m43.5 0h.5M68 24.08h2.5M69 25.8h2.5M70 27.52h2.5m21.5 0h.5m9.5 0h.5M25 29.24h.5m43.5 0h10.5m13.5 0h2.5m5.5 0h.5M22 30.96h.5m49.5 0h4.5m13.5 0h2.5m19.5 0h.5M33 32.68h2.5m29.5 0h2.5m3.5 0h.5m19.5 0h2.5m3.5 0h.5m13.5 0h.5M56 34.4h.5m51.5 0h2.5m3.5 0h2.5M23 36.12h.5m3.5 0h6.5M24 37.84h8.5m5.5 0h2.5m3.5 0h2.5m3.5 0h.5m7.5 0h.5m51.5 0h2.5M17 39.56h.5m7.5 0h.5m3.5 0h2.5m5.5 0h12.5m7.5 0h.5m53.5 0h.5M30 41.28h2.5m5.5 0h2.5m41.5 0h.5m3.5 0h.5m9.5 0h.5m13.5 0h.5M53 43h.5m5.5 0h2.5m9.5 0h.5m9.5 0h.5m13.5 0h.5m9.5 0h.5M38 44.72h4.5m17.5 0h2.5M35 46.44h4.5M36 48.16h2.5m79.5 0h4.5M31 49.88h6.5m3.5 0h.5m13.5 0h2.5m23.5 0h.5m3.5 0h.5m27.5 0h.5m3.5 0h6.5M12 51.6h.5m7.5 0h4.5m21.5 0h2.5m7.5 0h4.5m3.5 0h.5m55.5 0h2.5M13 53.32h.5m11.5 0h.5m17.5 0h2.5m25.5 0h.5M12 55.04h.5m59.5 0h.5m9.5 0h4.5m41.5 0h.5M5 56.76h.5m3.5 0h.5m73.5 0h2.5m41.5 0h.5M6 58.48h4.5m57.5 0h.5m13.5 0h2.5m3.5 0h.5m39.5 0h.5M7 60.2h4.5m51.5 0h.5m63.5 0h2.5M24 61.92h.5m5.5 0h.5m29.5 0h.5m7.5 0h2.5M61 63.64h.5m45.5 0h2.5M14 65.36h.5m57.5 0h.5m9.5 0h.5m23.5 0h2.5M33 67.08h.5m5.5 0h2.5m67.5 0h.5m11.5 0h.5M12 68.8h.5m23.5 0h4.5m11.5 0h.5m67.5 0h4.5M15 70.52h.5m35.5 0h.5m65.5 0h2.5m3.5 0h2.5M18 72.24h2.5m29.5 0h.5m21.5 0h.5m33.5 0h2.5m17.5 0h.5M19 73.96h.5m15.5 0h4.5m85.5 0h2.5M38 75.68h.5m31.5 0h.5m53.5 0h2.5M99 77.4h.5m11.5 0h.5M106 79.12h.5M57 80.84h2.5m11.5 0h2.5m11.5 0h2.5M72 82.56h2.5m11.5 0h.5m29.5 0h2.5m5.5 0h2.5M41 84.28h4.5m3.5 0h2.5m21.5 0h.5m11.5 0h6.5m23.5 0h4.5m3.5 0h2.5m3.5 0h.5M32 86h2.5m7.5 0h4.5m3.5 0h2.5m63.5 0h4.5m7.5 0h.5M31 87.72h2.5m17.5 0h2.5m53.5 0h4.5m3.5 0h.5M30 89.44h4.5m17.5 0h.5m59.5 0h6.5M31 91.16h.5m25.5 0h2.5m55.5 0h.5m17.5 0h.5M50 92.88h.5m7.5 0h6.5m5.5 0h.5m61.5 0h.5M49 94.6h2.5m25.5 0h2.5m23.5 0h.5M44 96.32h.5m19.5 0h.5m61.5 0h2.5M63 98.04h2.5m31.5 0h.5M62 99.76h2.5m49.5 0h.5M15 101.48h4.5m5.5 0h2.5m9.5 0h.5m11.5 0h.5m11.5 0h.5m51.5 0h6.5M16 103.2h4.5m5.5 0h2.5m5.5 0h2.5m9.5 0h2.5m43.5 0h.5m19.5 0h8.5M15 104.92h.5m75.5 0h.5m27.5 0h2.5M34 106.64h.5m11.5 0h.5M15 108.36h.5m3.5 0h.5M16 110.08h.5m63.5 0h.5m3.5 0h4.5M81 111.8h.5m5.5 0h4.5m25.5 0h.5M24 113.52h2.5m29.5 0h8.5m13.5 0h4.5m7.5 0h2.5M59 115.24h4.5m33.5 0h.5m15.5 0h2.5M98 116.96h2.5m11.5 0h4.5M99 118.68h2.5m13.5 0h2.5M48 120.4h.5m11.5 0h2.5m37.5 0h.5m15.5 0h2.5M99 122.12h.5M63 125.56h.5m31.5 0h4.5M62 127.28h2.5m31.5 0h.5m3.5 0h.5M65 129h.5m31.5 0h.5M85 132.44h2.5M86 134.16h.5"/><path stroke="#c279f9" d="M50 10.32h.5M30 20.64h.5M29 22.36h2.5M30 24.08h2.5M31 25.8h4.5M96 27.52h.5m5.5 0h.5M96 30.96h.5M18 34.4h.5M43 43h.5M12 44.72h.5m17.5 0h.5m13.5 0h.5M29 46.44h.5M109 49.88h2.5M87 53.32h.5M50 55.04h.5m71.5 0h.5M13 60.2h2.5M14 61.92h2.5M15 63.64h2.5M18 65.36h2.5m89.5 0h.5M107 67.08h.5M59 70.52h.5M52 72.24h.5m71.5 0h.5M29 77.4h2.5M28 79.12h4.5m97.5 0h2.5M29 80.84h2.5m5.5 0h.5m91.5 0h4.5M134 82.56h.5M61 84.28h4.5M58 86h.5m5.5 0h.5M57 87.72h2.5m3.5 0h.5M58 89.44h.5M33 91.16h.5m13.5 0h.5M30 92.88h.5m93.5 0h.5M113 94.6h.5M40 96.32h.5M95 101.48h2.5M98 103.2h.5M57 104.92h2.5m69.5 0h.5M58 106.64h.5m69.5 0h.5M54 113.52h.5M53 115.24h2.5M52 116.96h2.5M66 120.4h.5m7.5 0h2.5M65 122.12h.5m9.5 0h.5M66 123.84h.5M59 125.56h.5m5.5 0h.5M83 129h.5"/><path stroke="#7aaa01" d="M39 8.6h.5m3.5 0h.5M44 10.32h.5m11.5 0h2.5m21.5 0h.5M45 12.04h.5m11.5 0h.5M29 15.48h.5M23 18.92h2.5M22 20.64h.5m27.5 0h.5m23.5 0h.5M21 22.36h2.5m23.5 0h4.5M22 24.08h.5m5.5 0h.5m73.5 0h.5M29 25.8h.5m67.5 0h6.5M22 27.52h.5m41.5 0h.5m33.5 0h2.5M27 29.24h.5m9.5 0h2.5M24 30.96h2.5m11.5 0h2.5M25 32.68h2.5m33.5 0h.5M24 34.4h2.5M25 36.12h.5m17.5 0h2.5M14 37.84h.5M35 39.56h.5m27.5 0h.5M12 41.28h.5m23.5 0h.5m27.5 0h2.5M35 43h.5m13.5 0h2.5m11.5 0h2.5M46 44.72h2.5m3.5 0h.5m11.5 0h.5M9 46.44h.5m35.5 0h8.5m37.5 0h2.5m11.5 0h.5m11.5 0h2.5M28 48.16h2.5m59.5 0h2.5m15.5 0h.5M27 49.88h.5m39.5 0h.5m21.5 0h.5M8 51.6h.5m17.5 0h.5m59.5 0h2.5m21.5 0h.5M11 53.32h.5m39.5 0h.5m17.5 0h.5m9.5 0h.5m27.5 0h2.5M68 55.04h2.5m37.5 0h.5M67 56.76h4.5m29.5 0h.5m3.5 0h2.5M12 58.48h2.5m23.5 0h2.5m57.5 0h6.5M39 60.2h2.5m57.5 0h6.5M48 61.92h.5m41.5 0h.5m7.5 0h2.5M89 63.64h2.5m7.5 0h.5m11.5 0h2.5M112 65.36h.5m3.5 0h.5M5 67.08h.5m81.5 0h.5m29.5 0h.5M32 68.8h2.5m69.5 0h2.5m7.5 0h2.5M9 70.52h2.5m21.5 0h.5m69.5 0h2.5m23.5 0h.5M36 72.24h.5m55.5 0h.5M71 73.96h.5m15.5 0h.5m43.5 0h2.5M20 75.68h2.5m45.5 0h.5m35.5 0h.5m27.5 0h2.5M9 77.4h.5m17.5 0h.5m15.5 0h.5m59.5 0h.5m11.5 0h.5m17.5 0h.5M20 79.12h.5m13.5 0h.5m11.5 0h.5m65.5 0h4.5M21 80.84h.5m13.5 0h.5m75.5 0h2.5M24 82.56h.5m7.5 0h2.5m7.5 0h.5m67.5 0h.5M31 84.28h2.5m71.5 0h2.5M14 86h2.5m61.5 0h.5M11 87.72h4.5m57.5 0h.5m3.5 0h2.5M10 89.44h4.5m57.5 0h6.5M71 91.16h.5m3.5 0h2.5M74 92.88h4.5m21.5 0h.5m5.5 0h.5M85 94.6h.5m3.5 0h.5M76 96.32h6.5M25 98.04h.5m47.5 0h8.5m17.5 0h.5m17.5 0h.5M42 99.76h.5m23.5 0h4.5m3.5 0h.5m21.5 0h2.5m21.5 0h.5M39 101.48h2.5m15.5 0h.5m11.5 0h.5M38 103.2h.5m19.5 0h.5M89 104.92h.5M16 106.64h.5m21.5 0h2.5m21.5 0h.5M37 108.36h2.5m23.5 0h.5M48 110.08h.5m9.5 0h2.5M97 111.8h.5m13.5 0h.5m13.5 0h.5M72 113.52h.5m37.5 0h.5M37 115.24h.5m13.5 0h.5m17.5 0h10.5m23.5 0h.5M48 116.96h2.5m21.5 0h.5m5.5 0h.5M45 118.68h8.5m25.5 0h.5m7.5 0h.5M42 120.4h4.5m31.5 0h2.5m11.5 0h.5M45 122.12h.5m31.5 0h2.5m13.5 0h.5M74 123.84h6.5M51 125.56h.5m23.5 0h4.5M60 127.28h.5m15.5 0h4.5M67 129h4.5m5.5 0h4.5M66 130.72h6.5m7.5 0h.5M69 132.44h.5"/><path stroke="#c9a6d6" d="M42 10.32h.5M41 12.04h2.5M32 13.76h4.5m3.5 0h2.5M31 15.48h.5m7.5 0h2.5M28 17.2h8.5m7.5 0h6.5M29 18.92h6.5m3.5 0h10.5m5.5 0h.5M42 20.64h6.5m11.5 0h.5M45 22.36h.5m7.5 0h10.5M50 24.08h14.5M57 25.8h6.5M85 32.68h4.5M80 34.4h10.5M81 36.12h2.5m3.5 0h2.5m11.5 0h.5M74 37.84h.5m3.5 0h6.5m3.5 0h.5m11.5 0h4.5M73 39.56h10.5m15.5 0h4.5M72 41.28h8.5m17.5 0h6.5M99 43h4.5M98 44.72h6.5M99 46.44h4.5M100 48.16h2.5M94 72.24h10.5M91 73.96h12.5M86 75.68h14.5M83 77.4h12.5M82 79.12h4.5M48 96.32h4.5M45 98.04h6.5M44 99.76h6.5M45 101.48h2.5"/><path stroke="#eb7a4f" d="M34 10.32h4.5M35 12.04h2.5M67 22.36h.5m31.5 0h.5M105 25.8h.5M56 27.52h.5M47 29.24h.5M20 34.4h.5M99 36.12h.5M36 37.84h.5M21 39.56h.5M20 41.28h.5m25.5 0h4.5m61.5 0h.5M45 43h2.5M20 44.72h2.5m3.5 0h2.5M81 46.44h2.5M32 48.16h2.5m11.5 0h.5M112 51.6h.5m11.5 0h.5M9 53.32h.5m115.5 0h.5M10 55.04h.5M116 58.48h.5M89 60.2h.5m25.5 0h.5m5.5 0h.5M58 61.92h.5m5.5 0h.5m21.5 0h2.5m27.5 0h.5M63 63.64h2.5m17.5 0h2.5M60 65.36h.5m3.5 0h.5m35.5 0h2.5M85 67.08h.5m15.5 0h.5m11.5 0h2.5M20 68.8h.5m91.5 0h.5M13 70.52h.5m23.5 0h.5M14 72.24h.5M125 77.4h.5M91 80.84h.5m33.5 0h2.5M90 82.56h.5m3.5 0h.5m33.5 0h.5M13 84.28h4.5m75.5 0h2.5m31.5 0h.5M133 94.6h.5M68 96.32h.5m19.5 0h.5M60 103.2h.5M26 106.64h.5m63.5 0h.5M40 110.08h.5M39 111.8h.5M104 113.52h.5M111 115.24h.5M118 116.96h2.5M113 118.68h.5m7.5 0h.5M112 120.4h.5M49 122.12h2.5M46 123.84h4.5M49 125.56h.5m17.5 0h.5m5.5 0h.5m37.5 0h2.5"/><path stroke="#c19501" d="M97 22.36h.5M72 24.08h.5M73 25.8h2.5m7.5 0h4.5M74 27.52h.5m11.5 0h.5M41 29.24h.5M19 36.12h.5M115 39.56h.5M57 43h.5M18 44.72h.5m37.5 0h2.5M21 46.44h.5m5.5 0h.5m59.5 0h.5M26 48.16h.5M87 49.88h.5M28 51.6h.5m43.5 0h.5M27 53.32h.5m45.5 0h4.5m39.5 0h.5M74 55.04h.5m45.5 0h.5M75 56.76h.5m39.5 0h.5M84 61.92h.5m19.5 0h.5M16 65.36h.5m37.5 0h.5M16 68.8h2.5m7.5 0h.5m27.5 0h.5M17 70.52h.5m7.5 0h2.5m7.5 0h.5m19.5 0h.5M26 72.24h.5m55.5 0h.5M59 73.96h.5m21.5 0h.5m25.5 0h.5m5.5 0h.5M65 80.84h.5M64 82.56h2.5M94 89.44h.5M53 91.16h.5M52 92.88h.5M35 101.48h.5M111 108.36h.5M63 111.8h.5m3.5 0h.5M66 116.96h2.5M67 122.12h.5m23.5 0h.5M88 123.84h.5M93 125.56h.5M64 130.72h.5"/><path stroke="#01ba72" d="M78 10.32h.5M49 12.04h.5M46 13.76h2.5m11.5 0h.5m7.5 0h2.5M59 15.48h.5m5.5 0h4.5m19.5 0h.5M64 17.2h4.5m17.5 0h.5M67 18.92h.5m17.5 0h4.5M68 20.64h.5m7.5 0h.5m7.5 0h.5M71 22.36h6.5M29 29.24h2.5M30 30.96h2.5m65.5 0h.5M21 32.68h.5m7.5 0h2.5M32 34.4h.5m39.5 0h4.5M17 36.12h.5M109 39.56h.5M31 46.44h.5M116 48.16h.5M80 51.6h4.5M81 53.32h.5M60 55.04h2.5m47.5 0h.5M45 56.76h.5m63.5 0h.5m3.5 0h.5M114 58.48h.5M111 60.2h2.5m3.5 0h.5M40 61.92h.5m71.5 0h.5m5.5 0h.5M80 65.36h.5m7.5 0h.5M89 67.08h.5m37.5 0h.5M110 68.8h.5M121 70.52h.5M115 73.96h2.5M44 75.68h.5M25 80.84h2.5m5.5 0h.5M26 82.56h.5m33.5 0h.5m23.5 0h.5M83 84.28h.5M20 86h.5m61.5 0h6.5m13.5 0h2.5M55 87.72h.5M18 89.44h.5m35.5 0h2.5M89 91.16h.5M16 92.88h.5M47 94.6h.5m73.5 0h.5M46 96.32h.5m69.5 0h2.5M123 101.48h.5M106 106.64h.5M112 110.08h.5M35 111.8h.5m21.5 0h2.5M101 115.24h.5M67 118.68h2.5M68 120.4h2.5M53 122.12h2.5m13.5 0h.5M68 123.84h.5M53 125.56h.5M63 129h.5M73 135.88h.5"/><path stroke="#01b8d0" d="M71 15.48h2.5M70 17.2h2.5M71 18.92h.5m23.5 0h2.5M94 20.64h4.5M93 22.36h2.5M24 24.08h2.5m67.5 0h.5M34 27.52h4.5M33 29.24h2.5M114 30.96h.5M51 32.68h2.5M51 39.56h2.5M52 41.28h.5m55.5 0h.5M68 44.72h.5m25.5 0h.5M109 46.44h.5M13 49.88h2.5M18 51.6h.5M67 53.32h.5M81 60.2h.5M40 65.36h.5M45 70.52h2.5m27.5 0h.5m33.5 0h2.5M10 72.24h.5m21.5 0h2.5m27.5 0h.5M109 73.96h.5M18 75.68h.5m91.5 0h.5m3.5 0h.5M17 77.4h2.5m49.5 0h.5M14 79.12h4.5m49.5 0h.5M17 80.84h.5M88 82.56h.5M25 84.28h.5M80 86h.5M28 89.44h.5m71.5 0h.5m29.5 0h.5M27 91.16h2.5M28 92.88h.5M71 94.6h.5M37 98.04h.5m21.5 0h.5M112 99.76h.5m3.5 0h.5M53 101.48h2.5m3.5 0h.5m3.5 0h2.5m55.5 0h.5M90 103.2h.5M52 106.64h.5M51 108.36h4.5M45 115.24h.5M70 116.96h.5M119 118.68h.5M88 120.4h.5M52 123.84h.5M85 125.56h2.5M98 127.28h.5"/><path stroke="#5f98f9" d="M68 10.32h.5M67 12.04h2.5M24 20.64h.5M98 24.08h.5M53 25.8h.5M30 27.52h.5m19.5 0h2.5M36 30.96h.5M49 32.68h.5M44 34.4h2.5M15 36.12h.5m91.5 0h2.5m3.5 0h.5M18 37.84h2.5m85.5 0h.5M19 39.56h.5M67 43h.5M24 44.72h.5M52 51.6h.5M83 53.32h.5m27.5 0h.5M119 56.76h2.5M74 58.48h.5m45.5 0h2.5M5 60.2h.5m53.5 0h2.5m11.5 0h4.5M4 61.92h2.5m65.5 0h2.5M47 63.64h2.5M50 65.36h.5M44 68.8h.5M31 70.52h.5m95.5 0h.5M49 77.4h.5M88 79.12h2.5m5.5 0h.5m11.5 0h.5M89 80.84h.5M28 82.56h2.5M129 87.72h.5M64 89.44h.5m63.5 0h.5M63 91.16h2.5m61.5 0h4.5M32 92.88h.5m93.5 0h4.5m3.5 0h.5M125 94.6h6.5M113 98.04h.5M93 101.48h.5M116 106.64h4.5m3.5 0h.5M117 108.36h.5m7.5 0h.5M68 113.52h.5m37.5 0h2.5M39 115.24h.5m9.5 0h.5m57.5 0h2.5M108 116.96h2.5M73 118.68h2.5m15.5 0h.5m3.5 0h.5m15.5 0h.5M101 122.12h.5m9.5 0h.5M98 123.84h2.5m11.5 0h.5M101 125.56h.5M75 129h.5M74 130.72h.5M71 132.44h2.5M72 134.16h2.5M95 135.88h.5"/><path stroke="#ef62dd" d="M32 27.52h.5M70 34.4h.5M69 36.12h.5M37 43h.5M36 44.72h.5m33.5 0h.5M25 46.44h.5m7.5 0h.5m35.5 0h2.5M20 48.16h.5m47.5 0h2.5M21 49.88h.5M27 56.76h.5m31.5 0h.5M70 58.48h.5M52 65.36h.5m61.5 0h.5M133 70.52h.5M41 73.96h.5M40 75.68h2.5M39 77.4h.5M102 79.12h.5M81 84.28h.5M12 86h.5M17 87.72h.5m25.5 0h.5m49.5 0h.5M90 89.44h2.5M41 94.6h.5M85 108.36h.5m43.5 0h.5M72 120.4h.5M71 122.12h.5m41.5 0h.5M70 123.84h2.5M89 135.88h.5"/><path stroke="#f962ac" d="M37 8.6h.5M33 12.04h.5M52 34.4h2.5M53 36.12h.5M68 37.84h.5M65 39.56h2.5m45.5 0h.5M62 41.28h.5m51.5 0h.5M19 46.44h.5m3.5 0h.5M22 48.16h.5M117 56.76h.5M36 58.48h.5m81.5 0h.5M25 60.2h.5m93.5 0h.5M26 61.92h.5M103 63.64h2.5M65 67.08h.5m37.5 0h.5M108 68.8h.5M97 70.52h2.5M84 72.24h.5m47.5 0h2.5M57 77.4h.5M58 79.12h.5m21.5 0h.5M121 84.28h.5M95 87.72h.5M45 94.6h.5m55.5 0h.5M61 98.04h.5M60 99.76h.5M44 103.2h.5M109 104.92h.5M108 106.64h.5M74 116.96h2.5M108 120.4h.5M73 122.12h.5M102 123.84h.5M85 135.88h.5"/></g></defs><g transform="translate(341 174) scale(0.86)" fill="none" stroke-linecap="round"><use href="#b3" stroke-width="2.25" filter="url(#dk)"/><use href="#b3" stroke-width="1.62" stroke-dasharray="0 2"/></g><defs><g id="b4"><path stroke="#f2736b" d="M57 5.16h6.5m15.5 0h2.5M60 6.88h10.5m11.5 0h4.5M57 8.6h4.5m3.5 0h.5m15.5 0h4.5m5.5 0h.5M40 10.32h4.5m11.5 0h2.5m7.5 0h.5m13.5 0h2.5m9.5 0h.5M41 12.04h2.5m5.5 0h.5m5.5 0h.5m17.5 0h.5m5.5 0h4.5m9.5 0h.5M30 13.76h.5m5.5 0h.5m9.5 0h2.5m5.5 0h2.5m15.5 0h2.5M35 15.48h2.5m15.5 0h4.5M30 17.2h2.5m15.5 0h12.5m7.5 0h.5m25.5 0h.5m5.5 0h4.5M19 18.92h.5m9.5 0h4.5m13.5 0h4.5m3.5 0h4.5m3.5 0h6.5m15.5 0h.5m15.5 0h2.5M18 20.64h.5m9.5 0h10.5m7.5 0h.5m5.5 0h.5m5.5 0h2.5m5.5 0h2.5m31.5 0h.5M29 22.36h.5m3.5 0h6.5m17.5 0h4.5m5.5 0h4.5m25.5 0h6.5M30 24.08h6.5m19.5 0h16.5m27.5 0h.5m3.5 0h.5M23 25.8h.5m5.5 0h.5m5.5 0h6.5m13.5 0h2.5m13.5 0h2.5m19.5 0h.5m5.5 0h6.5M20 27.52h4.5m5.5 0h12.5m3.5 0h.5m7.5 0h.5m17.5 0h.5m21.5 0h4.5m7.5 0h.5m3.5 0h.5M19 29.24h2.5m33.5 0h.5m5.5 0h.5m7.5 0h4.5m13.5 0h.5m5.5 0h.5m13.5 0h2.5m5.5 0h.5M20 30.96h2.5m3.5 0h.5m15.5 0h.5m3.5 0h.5m13.5 0h.5m7.5 0h6.5m15.5 0h4.5m5.5 0h.5M41 32.68h10.5m15.5 0h4.5m5.5 0h.5m11.5 0h6.5M16 34.4h.5m21.5 0h12.5m17.5 0h2.5m9.5 0h.5m9.5 0h10.5m5.5 0h6.5M27 36.12h4.5m3.5 0h6.5m25.5 0h2.5m9.5 0h2.5m5.5 0h4.5m3.5 0h2.5m13.5 0h.5M26 37.84h2.5m3.5 0h.5m3.5 0h4.5m9.5 0h6.5m11.5 0h.5m13.5 0h8.5m5.5 0h6.5M39 39.56h.5m11.5 0h4.5m25.5 0h8.5m5.5 0h.5m3.5 0h2.5M8 41.28h6.5m65.5 0h8.5m17.5 0h.5m3.5 0h.5M7 43h4.5m45.5 0h2.5m21.5 0h6.5m3.5 0h.5m17.5 0h2.5M44 44.72h4.5m7.5 0h.5m27.5 0h4.5m17.5 0h.5M45 46.44h4.5m35.5 0h.5M48 48.16h4.5m23.5 0h2.5m21.5 0h.5M49 49.88h2.5m7.5 0h2.5m3.5 0h.5m9.5 0h2.5m3.5 0h2.5m3.5 0h.5m11.5 0h2.5M50 51.6h2.5m7.5 0h4.5m9.5 0h2.5m5.5 0h2.5m9.5 0h6.5M37 53.32h2.5m11.5 0h.5m7.5 0h4.5m17.5 0h.5m15.5 0h4.5M32 55.04h8.5m9.5 0h.5m9.5 0h6.5m31.5 0h4.5M31 56.76h2.5m3.5 0h2.5m17.5 0h6.5m33.5 0h6.5M56 58.48h2.5m37.5 0h2.5m19.5 0h.5M47 60.2h.5m9.5 0h.5m37.5 0h.5m21.5 0h2.5M29 63.64h.5m11.5 0h.5m47.5 0h.5M28 65.36h2.5m11.5 0h2.5M43 67.08h.5m13.5 0h.5m7.5 0h.5m9.5 0h2.5M54 68.8h4.5m3.5 0h4.5M55 70.52h.5m7.5 0h4.5m17.5 0h.5m25.5 0h.5M10 72.24h.5m11.5 0h.5m43.5 0h.5M31 73.96h2.5m23.5 0h2.5m47.5 0h.5M24 75.68h.5m3.5 0h.5m3.5 0h2.5m11.5 0h2.5M9 77.4h.5m15.5 0h2.5m17.5 0h.5m51.5 0h.5M26 79.12h2.5m45.5 0h.5m7.5 0h.5M45 80.84h.5m7.5 0h.5m21.5 0h.5m13.5 0h.5M82 82.56h.5m5.5 0h.5M26 86h4.5m39.5 0h.5m5.5 0h.5M29 87.72h.5m41.5 0h2.5m3.5 0h.5M28 89.44h2.5m5.5 0h2.5m33.5 0h4.5M27 91.16h2.5m7.5 0h.5m5.5 0h.5m27.5 0h4.5M16 92.88h.5m9.5 0h2.5m13.5 0h6.5m23.5 0h2.5M17 94.6h.5m11.5 0h.5m13.5 0h.5m47.5 0h.5M46 96.32h2.5M47 98.04h2.5M48 99.76h2.5m39.5 0h2.5m9.5 0h.5M31 101.48h2.5m47.5 0h.5m5.5 0h6.5M30 103.2h2.5m17.5 0h.5m5.5 0h.5m21.5 0h2.5m11.5 0h2.5M57 104.92h.5M56 106.64h.5M77 108.36h.5m7.5 0h.5m3.5 0h.5M42 110.08h2.5M45 111.8h.5m7.5 0h.5M52 113.52h2.5M55 115.24h.5m13.5 0h.5"/><path stroke="#d98901" d="M78 10.32h.5M87 12.04h.5M44 13.76h.5m31.5 0h.5m7.5 0h8.5M23 15.48h2.5m3.5 0h2.5m7.5 0h6.5m41.5 0h8.5M22 17.2h4.5m17.5 0h.5m27.5 0h.5m13.5 0h4.5M23 18.92h2.5m19.5 0h.5m25.5 0h.5m15.5 0h.5M24 20.64h.5m45.5 0h.5m15.5 0h4.5M19 22.36h8.5m13.5 0h.5m3.5 0h.5m39.5 0h8.5M22 24.08h4.5m15.5 0h2.5m39.5 0h.5m5.5 0h2.5m15.5 0h.5M19 25.8h2.5m3.5 0h.5m17.5 0h.5m41.5 0h.5m5.5 0h.5M44 27.52h.5m29.5 0h12.5M41 29.24h4.5m29.5 0h8.5M44 30.96h.5m31.5 0h.5m3.5 0h.5M86 34.4h2.5M55 36.12h.5m19.5 0h2.5M30 37.84h.5m61.5 0h2.5m19.5 0h.5M27 39.56h2.5m3.5 0h4.5m5.5 0h2.5m11.5 0h.5m3.5 0h2.5m27.5 0h2.5m3.5 0h.5m7.5 0h.5m7.5 0h.5M28 41.28h10.5m5.5 0h4.5m29.5 0h.5m11.5 0h10.5M27 43h6.5m3.5 0h2.5m7.5 0h2.5m11.5 0h.5m5.5 0h.5m11.5 0h.5m9.5 0h.5m5.5 0h8.5M30 44.72h10.5m37.5 0h.5m17.5 0h8.5M29 46.44h4.5m5.5 0h4.5m27.5 0h.5m5.5 0h2.5m13.5 0h8.5m3.5 0h.5m11.5 0h.5M18 48.16h.5m11.5 0h.5m9.5 0h4.5m23.5 0h4.5m43.5 0h2.5M17 49.88h.5m23.5 0h4.5m9.5 0h.5m11.5 0h4.5m19.5 0h.5m19.5 0h4.5m3.5 0h.5M54 51.6h4.5m7.5 0h4.5m19.5 0h.5M57 53.32h.5m7.5 0h2.5m3.5 0h.5m15.5 0h.5m15.5 0h.5m9.5 0h.5M80 55.04h2.5M35 56.76h.5m29.5 0h4.5m11.5 0h.5M34 58.48h4.5m3.5 0h2.5m17.5 0h6.5m31.5 0h2.5M39 60.2h6.5m7.5 0h2.5m5.5 0h6.5m3.5 0h.5m25.5 0h2.5M42 61.92h.5m11.5 0h4.5m3.5 0h4.5m27.5 0h6.5M47 63.64h.5m7.5 0h.5m7.5 0h2.5m31.5 0h2.5M34 65.36h4.5m33.5 0h.5m3.5 0h4.5m9.5 0h.5M33 67.08h8.5m41.5 0h.5m7.5 0h2.5M26 68.8h.5m7.5 0h4.5m7.5 0h.5m35.5 0h.5m5.5 0h6.5m11.5 0h2.5M23 70.52h2.5m9.5 0h4.5m5.5 0h4.5m39.5 0h4.5m11.5 0h2.5M26 72.24h.5m11.5 0h12.5m13.5 0h.5m7.5 0h.5m17.5 0h.5m15.5 0h.5M39 73.96h2.5m23.5 0h2.5m3.5 0h4.5m29.5 0h.5M36 75.68h6.5m23.5 0h.5m25.5 0h2.5M37 77.4h.5m19.5 0h.5m7.5 0h2.5m25.5 0h2.5m5.5 0h.5M38 79.12h.5m25.5 0h.5M21 80.84h4.5m37.5 0h.5m19.5 0h.5M22 82.56h2.5m31.5 0h2.5m19.5 0h.5m15.5 0h.5m21.5 0h.5M55 84.28h2.5m3.5 0h2.5m5.5 0h.5m23.5 0h2.5M24 86h.5m25.5 0h.5m3.5 0h4.5M23 87.72h2.5m5.5 0h.5m21.5 0h4.5M40 89.44h.5m15.5 0h.5M31 91.16h.5m9.5 0h.5m47.5 0h4.5m5.5 0h.5m9.5 0h.5M32 92.88h.5m7.5 0h.5m49.5 0h4.5M25 94.6h2.5m3.5 0h.5m45.5 0h.5m15.5 0h.5m7.5 0h.5M30 96.32h.5m43.5 0h4.5M77 98.04h2.5m13.5 0h.5M52 99.76h.5m25.5 0h.5m21.5 0h.5M79 101.48h.5M48 103.2h.5M31 104.92h.5m9.5 0h2.5m3.5 0h2.5m13.5 0h.5m31.5 0h2.5M42 106.64h10.5M37 108.36h8.5M40 110.08h.5m13.5 0h2.5M81 111.8h.5M11 132.44h.5"/><path stroke="#01b538" d="M53 5.16h.5m15.5 0h2.5M46 6.88h.5m5.5 0h2.5M43 8.6h2.5m7.5 0h.5m23.5 0h.5M46 10.32h.5m29.5 0h.5m7.5 0h.5M27 12.04h2.5m5.5 0h4.5m5.5 0h2.5m9.5 0h.5m3.5 0h.5m13.5 0h2.5M28 13.76h.5m9.5 0h2.5m41.5 0h.5M97 15.48h2.5M92 17.2h.5m3.5 0h2.5M37 18.92h.5m35.5 0h6.5m13.5 0h6.5M20 20.64h.5m35.5 0h.5m15.5 0h8.5m11.5 0h6.5M31 22.36h.5m41.5 0h8.5m13.5 0h.5M48 24.08h.5m33.5 0h.5m11.5 0h.5M49 25.8h4.5m5.5 0h.5m23.5 0h.5M16 27.52h2.5m31.5 0h2.5m5.5 0h.5M33 29.24h6.5m7.5 0h.5m11.5 0h.5M30 30.96h2.5m3.5 0h4.5m9.5 0h.5m15.5 0h.5m43.5 0h.5M13 32.68h.5m11.5 0h6.5m3.5 0h4.5M14 34.4h.5m9.5 0h.5M23 36.12h.5m19.5 0h6.5m11.5 0h.5M42 37.84h.5m3.5 0h2.5m9.5 0h.5m5.5 0h.5M41 39.56h.5m5.5 0h.5m11.5 0h.5M24 41.28h.5m15.5 0h2.5m13.5 0h8.5M23 43h.5m17.5 0h.5m51.5 0h.5M12 44.72h2.5m11.5 0h.5m15.5 0h.5M65 46.44h.5m25.5 0h.5M46 48.16h.5m33.5 0h4.5m9.5 0h.5M29 49.88h4.5m13.5 0h.5m37.5 0h.5M28 51.6h4.5M45 53.32h.5m43.5 0h4.5M8 55.04h2.5m33.5 0h4.5m41.5 0h4.5M45 56.76h10.5m19.5 0h.5M46 58.48h6.5m19.5 0h4.5m11.5 0h.5M35 60.2h2.5m11.5 0h2.5M36 61.92h.5m7.5 0h.5m5.5 0h.5m51.5 0h.5M35 63.64h2.5m29.5 0h.5M88 65.36h.5M5 67.08h4.5m89.5 0h2.5M52 68.8h.5m33.5 0h.5M51 70.52h.5m31.5 0h.5M34 72.24h2.5m19.5 0h.5m17.5 0h.5m9.5 0h2.5M27 73.96h.5m7.5 0h2.5m13.5 0h.5m31.5 0h2.5M22 75.68h.5m3.5 0h.5m3.5 0h.5m19.5 0h.5m21.5 0h2.5m9.5 0h2.5M29 77.4h.5m9.5 0h2.5m27.5 0h2.5m9.5 0h.5M40 79.12h2.5m17.5 0h.5m9.5 0h2.5m23.5 0h2.5M71 80.84h.5m23.5 0h2.5m11.5 0h4.5M60 82.56h2.5m47.5 0h4.5M75 84.28h.5m11.5 0h.5m3.5 0h.5m19.5 0h4.5M74 86h.5m13.5 0h4.5m19.5 0h2.5M37 87.72h.5m73.5 0h.5M26 89.44h.5m5.5 0h2.5m69.5 0h2.5M97 91.16h.5m5.5 0h4.5M20 92.88h.5m55.5 0h.5m21.5 0h.5m5.5 0h.5M23 94.6h.5m11.5 0h2.5m37.5 0h.5M36 96.32h.5M29 98.04h.5m7.5 0h.5M44 99.76h.5M39 101.48h.5m55.5 0h4.5M40 103.2h.5m55.5 0h2.5M45 104.92h.5m33.5 0h2.5M64 106.64h.5M47 108.36h.5m15.5 0h.5M48 110.08h2.5m31.5 0h.5M49 111.8h2.5m31.5 0h.5M50 113.52h.5M65 115.24h.5"/><path stroke="#01a9f4" d="M41 8.6h.5m29.5 0h4.5M70 10.32h4.5M59 12.04h.5m5.5 0h.5m5.5 0h.5M64 13.76h6.5m25.5 0h.5M65 15.48h2.5m7.5 0h.5M53 18.92h.5M46 24.08h.5m27.5 0h.5M45 25.8h2.5m17.5 0h.5m3.5 0h.5M66 27.52h4.5M65 29.24h.5m19.5 0h.5m11.5 0h.5M58 30.96h.5m3.5 0h2.5m17.5 0h6.5M59 32.68h6.5m7.5 0h.5m9.5 0h4.5M58 34.4h.5m3.5 0h4.5m5.5 0h4.5M25 36.12h.5m33.5 0h.5m3.5 0h.5m7.5 0h2.5M24 37.84h.5m35.5 0h2.5m3.5 0h.5m3.5 0h6.5M23 39.56h2.5m39.5 0h12.5M68 41.28h.5M63 43h2.5m9.5 0h.5M76 44.72h.5m3.5 0h2.5m11.5 0h.5M59 46.44h.5m21.5 0h2.5M10 48.16h.5m13.5 0h.5m7.5 0h.5m25.5 0h2.5m3.5 0h.5M25 49.88h2.5m25.5 0h.5m3.5 0h.5M26 51.6h.5M73 60.2h.5M74 65.36h.5m21.5 0h6.5M73 67.08h.5m39.5 0h.5M70 68.8h4.5m23.5 0h4.5m7.5 0h4.5M27 70.52h.5m13.5 0h2.5m25.5 0h.5m3.5 0h.5m29.5 0h.5m5.5 0h.5m3.5 0h2.5M102 72.24h2.5M91 73.96h2.5m7.5 0h2.5M10 75.68h.5m57.5 0h.5m19.5 0h2.5m5.5 0h8.5M11 77.4h.5m35.5 0h.5m27.5 0h2.5m13.5 0h.5m7.5 0h.5m3.5 0h2.5M44 79.12h.5m11.5 0h2.5m9.5 0h.5m7.5 0h4.5m11.5 0h2.5m7.5 0h2.5M27 80.84h.5m13.5 0h2.5m3.5 0h.5m7.5 0h2.5m11.5 0h.5m11.5 0h.5m9.5 0h2.5m5.5 0h8.5M42 82.56h2.5m23.5 0h2.5m5.5 0h.5m23.5 0h2.5M43 84.28h.5m27.5 0h2.5m3.5 0h2.5m19.5 0h2.5M42 86h.5m9.5 0h.5m11.5 0h4.5m3.5 0h.5m5.5 0h4.5M59 87.72h.5m5.5 0h4.5m11.5 0h.5M58 89.44h2.5m3.5 0h6.5M49 91.16h20.5M50 92.88h20.5M51 94.6h16.5m13.5 0h.5M20 96.32h.5m17.5 0h.5m11.5 0h16.5m13.5 0h.5m7.5 0h.5M35 98.04h.5m3.5 0h2.5m11.5 0h20.5M38 99.76h2.5m5.5 0h.5m7.5 0h.5m5.5 0h14.5M61 101.48h14.5M42 103.2h4.5m19.5 0h4.5M39 104.92h.5m27.5 0h4.5m21.5 0h.5M66 106.64h.5m3.5 0h2.5m19.5 0h.5M49 108.36h.5M46 110.08h.5m23.5 0h.5M47 111.8h.5m21.5 0h.5M66 113.52h2.5M59 115.24h.5m3.5 0h.5m3.5 0h.5"/><path stroke="#5f98f9" d="M37 8.6h.5m31.5 0h.5M36 10.32h2.5M53 12.04h.5M42 13.76h.5m15.5 0h.5M59 15.48h.5m17.5 0h.5M78 17.2h.5M53 22.36h.5M28 24.08h.5m21.5 0h4.5M27 25.8h.5M48 27.52h.5M99 29.24h.5M84 34.4h.5M103 36.12h.5M70 41.28h2.5M71 43h.5M58 44.72h.5M57 46.44h.5M26 48.16h.5m29.5 0h.5M107 49.88h2.5M46 51.6h.5m61.5 0h.5M73 53.32h4.5m5.5 0h2.5M68 55.04h4.5M71 56.76h2.5M79 60.2h2.5M52 61.92h.5m19.5 0h.5m9.5 0h.5M51 63.64h.5M69 67.08h.5M68 68.8h.5M31 70.52h.5M32 72.24h.5m37.5 0h.5M77 73.96h.5M23 77.4h.5M62 79.12h.5M51 80.84h.5m9.5 0h.5m15.5 0h2.5M50 82.56h2.5M69 94.6h4.5m13.5 0h2.5M68 96.32h4.5M51 98.04h.5m23.5 0h.5M58 99.76h.5m17.5 0h.5m3.5 0h.5M77 101.48h.5m7.5 0h.5M54 103.2h.5m7.5 0h.5m9.5 0h4.5m5.5 0h4.5M51 104.92h4.5m5.5 0h.5m11.5 0h4.5m5.5 0h2.5M54 106.64h.5m3.5 0h4.5m5.5 0h.5m5.5 0h.5m5.5 0h4.5M51 108.36h6.5m3.5 0h.5m3.5 0h10.5m3.5 0h4.5M62 110.08h.5m9.5 0h8.5M71 111.8h8.5M70 113.52h10.5M71 115.24h.5"/><path stroke="#d670f5" d="M43 5.16h.5M38 6.88h2.5m47.5 0h.5M63 8.6h.5M60 10.32h2.5m27.5 0h.5M31 12.04h.5m57.5 0h2.5m3.5 0h.5M69 15.48h.5m9.5 0h6.5m15.5 0h.5M42 17.2h.5M39 18.92h4.5M44 20.64h.5m17.5 0h2.5m17.5 0h2.5M63 22.36h2.5m17.5 0h.5M76 24.08h4.5m5.5 0h2.5M77 25.8h.5M100 27.52h2.5M67 29.24h.5m27.5 0h.5m5.5 0h2.5M34 30.96h.5m61.5 0h.5m5.5 0h.5M114 34.4h.5M52 41.28h2.5M21 43h.5m29.5 0h4.5M22 44.72h2.5m35.5 0h2.5m3.5 0h.5m5.5 0h2.5M23 46.44h.5m13.5 0h.5m17.5 0h.5m5.5 0h.5m5.5 0h.5m5.5 0h2.5m27.5 0h.5M54 48.16h.5m7.5 0h.5m11.5 0h.5M63 49.88h.5m41.5 0h.5M40 51.6h4.5m59.5 0h2.5M41 53.32h.5m53.5 0h.5m9.5 0h.5M12 55.04h.5m43.5 0h2.5M29 56.76h.5m65.5 0h.5M30 58.48h.5m29.5 0h.5m9.5 0h.5m23.5 0h.5M31 60.2h.5m61.5 0h.5m7.5 0h.5M70 61.92h.5m7.5 0h.5m41.5 0h.5M10 65.36h.5m51.5 0h2.5M63 67.08h.5m3.5 0h.5M76 68.8h.5M61 70.52h.5m37.5 0h2.5M60 72.24h2.5m13.5 0h.5m15.5 0h.5m7.5 0h.5M43 73.96h.5m3.5 0h.5m7.5 0h.5m5.5 0h2.5m25.5 0h.5M44 75.68h.5m11.5 0h2.5m3.5 0h.5m15.5 0h.5M43 77.4h.5m7.5 0h4.5m33.5 0h.5M10 79.12h.5m11.5 0h.5m25.5 0h6.5m45.5 0h.5m5.5 0h.5M49 80.84h.5M12 82.56h.5m15.5 0h.5m19.5 0h.5m15.5 0h.5m31.5 0h2.5M27 84.28h.5m13.5 0h.5m5.5 0h4.5m45.5 0h.5M38 86h2.5m21.5 0h.5m21.5 0h2.5M27 87.72h.5m11.5 0h.5m21.5 0h2.5m15.5 0h.5m3.5 0h8.5m3.5 0h.5M80 89.44h16.5M33 91.16h2.5m3.5 0h.5m39.5 0h4.5M34 92.88h.5m43.5 0h10.5M45 94.6h.5m3.5 0h.5m29.5 0h.5m3.5 0h2.5M40 96.32h4.5m37.5 0h4.5m3.5 0h4.5M43 98.04h2.5m37.5 0h4.5m3.5 0h.5M82 99.76h6.5m5.5 0h.5m3.5 0h.5M27 101.48h2.5m11.5 0h.5M28 103.2h.5m35.5 0h.5m23.5 0h2.5M87 104.92h4.5M22 106.64h.5m63.5 0h4.5M87 108.36h.5M86 110.08h.5"/><path stroke="#a2a001" d="M65 5.16h2.5M32 10.32h2.5m17.5 0h2.5M33 12.04h.5M60 13.76h.5M40 17.2h.5M26 20.64h.5m77.5 0h2.5M17 22.36h.5m29.5 0h2.5m5.5 0h.5m49.5 0h2.5M106 24.08h.5M60 27.52h2.5M112 30.96h.5M53 32.68h4.5m51.5 0h4.5M52 34.4h4.5m3.5 0h.5M65 36.12h.5M78 37.84h2.5M49 39.56h.5m61.5 0h.5m3.5 0h.5M22 41.28h.5m93.5 0h.5M53 46.44h.5m53.5 0h.5M72 51.6h.5m15.5 0h.5M43 53.32h.5m9.5 0h2.5M52 55.04h2.5M91 56.76h2.5M40 58.48h.5m49.5 0h2.5M75 60.2h.5m13.5 0h.5M38 61.92h2.5m5.5 0h2.5m25.5 0h2.5m15.5 0h.5M73 63.64h10.5m7.5 0h.5M82 65.36h.5M95 67.08h2.5M28 68.8h2.5m47.5 0h.5m17.5 0h.5M57 70.52h2.5m17.5 0h4.5M58 72.24h.5m21.5 0h.5M29 73.96h.5m23.5 0h.5M60 75.68h.5m21.5 0h.5M12 79.12h.5M54 82.56h.5m49.5 0h4.5M103 84.28h6.5M94 86h16.5M93 87.72h.5m3.5 0h10.5M98 89.44h4.5m5.5 0h.5M25 91.16h.5m69.5 0h.5m5.5 0h.5M24 92.88h.5m71.5 0h.5m5.5 0h.5m5.5 0h.5M33 94.6h.5m69.5 0h4.5M102 96.32h4.5M89 98.04h.5m13.5 0h.5M32 99.76h4.5M35 101.48h2.5M34 103.2h2.5M33 104.92h4.5M34 106.64h4.5"/><path stroke="#01bc9c" d="M41 5.16h.5M39 8.6h.5M78 13.76h.5M48 20.64h.5M33 25.8h.5m27.5 0h2.5M56 27.52h.5m33.5 0h2.5M89 29.24h2.5M28 30.96h.5M75 32.68h.5M109 36.12h.5M44 37.84h.5M107 39.56h.5M20 41.28h.5m29.5 0h.5m15.5 0h.5m35.5 0h2.5M28 44.72h.5m61.5 0h2.5M25 46.44h2.5m59.5 0h2.5M86 48.16h2.5m7.5 0h.5M95 49.88h2.5M114 51.6h.5M42 55.04h.5m61.5 0h.5M41 56.76h2.5m33.5 0h.5M32 58.48h.5M33 60.2h.5m43.5 0h.5M71 63.64h.5M70 65.36h.5M19 67.08h.5m61.5 0h.5M80 68.8h.5M52 72.24h.5m25.5 0h.5M99 73.96h.5M59 77.4h2.5m11.5 0h.5M66 79.12h.5m21.5 0h.5M32 86h4.5M33 87.72h2.5m73.5 0h.5M36 92.88h2.5M39 94.6h2.5M32 96.32h2.5M33 98.04h.5m61.5 0h.5M59 108.36h.5M58 110.08h2.5m23.5 0h.5"/><path stroke="#c279f9" d="M55 5.16h.5M64 10.32h.5M76 17.2h.5M61 18.92h.5M102 20.64h.5M93 36.12h.5M21 39.56h.5M29 53.32h6.5M28 55.04h2.5m53.5 0h2.5M83 56.76h2.5M43 63.64h2.5M29 67.08h2.5M32 68.8h.5m51.5 0h.5M53 70.52h.5M49 77.4h.5M30 92.88h.5M76 106.64h2.5M64 110.08h4.5M55 111.8h12.5M56 113.52h8.5M57 115.24h.5m3.5 0h.5"/><path stroke="#d993cf" d="M16 24.08h4.5M15 25.8h2.5M14 27.52h.5m11.5 0h2.5M15 29.24h2.5m5.5 0h4.5M14 30.96h4.5m5.5 0h.5M15 32.68h8.5M12 34.4h.5m5.5 0h.5m3.5 0h.5M9 36.12h4.5m3.5 0h.5m3.5 0h.5M8 37.84h.5m7.5 0h.5M7 39.56h8.5m3.5 0h.5M16 41.28h2.5M17 43h2.5M6 44.72h4.5m9.5 0h.5M7 46.44h8.5m5.5 0h.5M4 48.16h4.5m3.5 0h4.5m3.5 0h2.5M3 49.88h12.5m3.5 0h4.5M4 51.6h18.5m87.5 0h2.5M3 53.32h20.5m83.5 0h4.5M4 55.04h2.5m9.5 0h6.5m83.5 0h4.5M5 56.76h18.5m81.5 0h6.5M6 58.48h16.5m81.5 0h8.5M13 60.2h10.5m79.5 0h12.5M14 61.92h10.5m79.5 0h14.5M5 63.64h.5m5.5 0h.5m3.5 0h10.5m27.5 0h.5m49.5 0h16.5M6 65.36h.5m5.5 0h2.5m3.5 0h6.5m21.5 0h6.5m7.5 0h.5m43.5 0h10.5m5.5 0h.5M13 67.08h2.5m5.5 0h4.5m79.5 0h6.5m3.5 0h4.5M6 68.8h18.5m15.5 0h.5m63.5 0h.5m11.5 0h2.5M7 70.52h10.5m99.5 0h.5M8 72.24h.5m7.5 0h.5m97.5 0h.5M7 73.96h.5m3.5 0h.5m3.5 0h4.5m93.5 0h4.5M16 75.68h.5m3.5 0h.5m93.5 0h2.5M19 77.4h.5m87.5 0h.5m7.5 0h2.5M24 79.12h.5m9.5 0h.5m79.5 0h2.5M29 80.84h4.5m3.5 0h.5M14 82.56h.5m11.5 0h.5m13.5 0h.5M13 84.28h8.5m11.5 0h.5M14 86h6.5M15 87.72h6.5M14 89.44h10.5M15 91.16h8.5M18 92.88h.5m3.5 0h.5M19 94.6h2.5M18 96.32h.5m3.5 0h6.5M23 98.04h4.5M26 99.76h2.5"/><path stroke="#c9a6d6" d="M12 37.84h2.5m3.5 0h.5M17 39.56h.5M13 43h2.5M16 44.72h2.5M17 46.44h2.5M24 51.6h.5m91.5 0h.5M25 53.32h.5m89.5 0h2.5M14 55.04h.5m9.5 0h2.5m87.5 0h4.5M25 56.76h2.5m85.5 0h6.5M24 58.48h4.5m85.5 0h2.5M5 60.2h6.5m13.5 0h4.5M6 61.92h6.5m13.5 0h2.5M7 63.64h2.5m3.5 0h.5m13.5 0h.5m29.5 0h.5M26 65.36h.5m31.5 0h.5M49 67.08h6.5m47.5 0h.5M42 68.8h2.5m3.5 0h2.5M12 72.24h2.5m3.5 0h.5m89.5 0h4.5m3.5 0h.5M13 73.96h.5m7.5 0h.5m87.5 0h2.5M12 75.68h2.5m3.5 0h.5m89.5 0h4.5M13 77.4h4.5m91.5 0h4.5M14 79.12h4.5m91.5 0h2.5M15 80.84h4.5m19.5 0h.5M16 82.56h4.5m9.5 0h2.5m3.5 0h2.5M29 84.28h2.5m3.5 0h4.5"/><path stroke="#eb7a4f" d="M76 6.88h4.5M35 8.6h.5m51.5 0h2.5M86 10.32h2.5M85 12.04h.5M49 15.48h2.5m9.5 0h2.5m7.5 0h2.5M62 17.2h.5m11.5 0h.5M89 18.92h2.5M54 20.64h.5M95 25.8h.5m11.5 0h2.5M108 27.52h.5M53 29.24h.5m9.5 0h.5m41.5 0h.5M104 30.96h2.5M103 32.68h2.5M10 34.4h.5M74 41.28h.5M73 43h.5M5 46.44h.5m63.5 0h.5M108 48.16h4.5M39 49.88h.5M38 51.6h.5M49 63.64h.5M8 65.36h.5m45.5 0h2.5m29.5 0h.5m31.5 0h.5M11 67.08h.5m73.5 0h.5M87 70.52h.5M9 73.96h.5m35.5 0h.5m3.5 0h.5m29.5 0h2.5M8 75.68h.5m71.5 0h.5M85 77.4h2.5M84 79.12h2.5M87 80.84h.5m27.5 0h2.5M80 82.56h.5M45 84.28h.5m7.5 0h.5M46 86h.5M41 87.72h2.5m3.5 0h.5M42 89.44h4.5M45 91.16h2.5M47 101.48h4.5M65 104.92h.5M94 106.64h2.5"/><path stroke="#c19501" d="M45 5.16h.5M44 6.88h.5M47 8.6h.5M32 13.76h2.5M33 15.48h.5M66 17.2h.5M105 18.92h.5M42 20.64h.5M43 22.36h.5M40 24.08h.5M79 25.8h2.5M33 32.68h.5M32 34.4h4.5M103 39.56h.5M35 43h.5m69.5 0h2.5M108 44.72h2.5M35 46.44h.5m73.5 0h2.5M34 48.16h2.5m29.5 0h.5m39.5 0h.5M35 49.88h2.5m41.5 0h.5m37.5 0h.5M34 51.6h2.5m41.5 0h2.5m37.5 0h.5M119 53.32h.5M80 61.92h.5M40 65.36h.5M45 67.08h.5m13.5 0h2.5M60 68.8h.5M95 70.52h2.5M94 72.24h4.5M95 73.96h2.5M21 77.4h.5m61.5 0h.5M20 79.12h.5M59 80.84h.5m25.5 0h.5M84 82.56h2.5m3.5 0h2.5M67 84.28h.5M44 86h.5M45 87.72h.5M106 92.88h.5M97 94.6h.5M96 96.32h.5M42 99.76h.5M83 101.48h.5M38 103.2h.5M24 106.64h.5m15.5 0h.5"/><path stroke="#5caf01" d="M56 6.88h2.5M55 8.6h.5M46 17.2h.5M22 20.64h.5m17.5 0h.5M67 25.8h.5m7.5 0h.5M64 27.52h.5M31 29.24h.5m19.5 0h.5M48 30.96h.5m3.5 0h4.5M20 34.4h.5m83.5 0h.5M104 37.84h6.5M79 39.56h.5M26 41.28h.5m49.5 0h.5M25 43h.5m43.5 0h.5M68 44.72h2.5M96 55.04h.5m15.5 0h.5M88 61.92h.5M101 63.64h.5M16 65.36h.5M17 67.08h.5M75 70.52h.5M68 72.24h.5M69 73.96h.5M52 75.68h2.5m15.5 0h.5M23 84.28h.5m35.5 0h.5M22 86h.5m37.5 0h.5M53 101.48h.5M52 103.2h.5"/><path stroke="#01ba72" d="M47 5.16h2.5M48 10.32h.5M26 13.76h.5m23.5 0h2.5m9.5 0h.5m31.5 0h.5M27 15.48h.5m19.5 0h.5M70 17.2h.5M96 24.08h2.5M97 25.8h.5M57 29.24h.5m53.5 0h.5M26 34.4h4.5m47.5 0h.5M57 36.12h.5m27.5 0h.5m27.5 0h.5M112 37.84h.5M109 39.56h.5M113 43h.5M112 44.72h2.5M113 46.44h2.5M38 48.16h.5m63.5 0h2.5M73 49.88h.5m29.5 0h.5M102 51.6h.5M79 53.32h.5M76 55.04h2.5M79 56.76h.5M78 58.48h2.5m5.5 0h.5M59 60.2h.5m9.5 0h.5M32 61.92h2.5m33.5 0h.5M31 63.64h2.5m5.5 0h.5m29.5 0h.5M32 65.36h.5M27 67.08h.5M19 70.52h2.5m7.5 0h.5M20 72.24h.5m3.5 0h.5m3.5 0h2.5m23.5 0h.5m27.5 0h.5M23 73.96h.5M64 75.68h.5M31 77.4h2.5m29.5 0h.5M36 79.12h.5m53.5 0h.5M65 80.84h2.5M66 82.56h.5M48 86h.5M48 89.44h.5m3.5 0h2.5M31 98.04h.5m49.5 0h.5M30 99.76h.5M91 108.36h.5"/><path stroke="#01b8d0" d="M51 5.16h.5M48 6.88h2.5m21.5 0h2.5M49 8.6h2.5m15.5 0h.5M50 10.32h.5m17.5 0h.5M51 12.04h.5m15.5 0h2.5M100 13.76h.5M34 17.2h4.5M21 18.92h.5m5.5 0h.5m7.5 0h.5M50 20.64h.5M51 22.36h.5M38 24.08h.5M78 30.96h.5m19.5 0h.5m9.5 0h.5M79 32.68h2.5m17.5 0h2.5M33 36.12h.5m17.5 0h2.5m29.5 0h.5m15.5 0h2.5m3.5 0h2.5m7.5 0h.5M31 39.56h.5M108 41.28h.5M43 43h2.5m31.5 0h.5M64 44.72h.5M63 46.44h.5M28 48.16h.5M27 53.32h.5m41.5 0h.5M74 55.04h.5m13.5 0h.5M87 56.76h2.5M84 58.48h.5M83 60.2h4.5m3.5 0h.5M60 61.92h.5m23.5 0h2.5m3.5 0h.5M59 63.64h2.5m23.5 0h2.5M71 67.08h.5M76 75.68h.5m29.5 0h.5M11 80.84h2.5m21.5 0h.5m37.5 0h.5M34 82.56h.5m11.5 0h.5m25.5 0h2.5M65 84.28h.5M62 89.44h.5M47 94.6h.5m47.5 0h.5M101 98.04h.5M56 99.76h.5M55 101.48h4.5M58 103.2h2.5M59 104.92h.5M52 110.08h.5"/><path stroke="#ef62dd" d="M42 6.88h.5M79 8.6h.5M80 13.76h.5m17.5 0h.5M28 17.2h.5m35.5 0h.5m17.5 0h2.5M83 18.92h.5M102 24.08h.5M87 25.8h2.5M88 27.52h.5M49 29.24h.5M97 32.68h.5m9.5 0h.5M15 36.12h.5m3.5 0h.5M10 37.84h.5m9.5 0h2.5M112 41.28h2.5M92 65.36h2.5m21.5 0h.5M47 67.08h.5m39.5 0h.5M33 70.52h.5m37.5 0h.5M25 73.96h.5M108 79.12h.5M25 84.28h.5M49 87.72h2.5m23.5 0h.5M50 89.44h.5M43 101.48h2.5"/><path stroke="#f962ac" d="M66 3.44h.5M63 12.04h.5M80 17.2h.5M81 18.92h.5M31 25.8h.5M104 27.52h.5M29 29.24h.5M82 34.4h.5m19.5 0h.5M34 37.84h.5M115 43h2.5M50 44.72h4.5m61.5 0h.5M51 46.44h.5M90 48.16h2.5m5.5 0h.5m15.5 0h.5M89 49.88h.5m3.5 0h.5M48 51.6h.5m37.5 0h.5m5.5 0h.5M47 53.32h2.5M54 58.48h.5m27.5 0h.5M30 61.92h.5M93 63.64h2.5M66 65.36h2.5m15.5 0h.5M79 67.08h.5m9.5 0h.5M88 72.24h.5M87 73.96h.5M124 75.68h.5M35 77.4h.5m43.5 0h.5M30 79.12h2.5m13.5 0h.5M89 84.28h.5M78 89.44h.5m31.5 0h.5M77 91.16h.5m7.5 0h2.5M65 129h2.5"/></g></defs><g transform="translate(478 176) scale(0.86)" fill="none" stroke-linecap="round"><use href="#b4" stroke-width="2.25" filter="url(#dk)"/><use href="#b4" stroke-width="1.62" stroke-dasharray="0 2"/></g><text x="124.0" y="320.8" font-size="13" textLength="45.0" lengthAdjust="spacingAndGlyphs" fill="#000">Clusters</text><rect x="173.8" y="306.8" width="9.2" height="10.4" fill="#f2f2f2"/><circle cx="178.4" cy="312.0" r="2.8" fill="#f8766d" stroke="#bf615e" stroke-width="0.4"/><text x="187.4" y="314.0" font-size="5.4" fill="#444">0</text><rect x="173.8" y="317.2" width="9.2" height="10.4" fill="#f2f2f2"/><circle cx="178.4" cy="322.4" r="2.8" fill="#f17d50" stroke="#ba664a" stroke-width="0.4"/><text x="187.4" y="324.4" font-size="5.4" fill="#444">1</text><rect x="193.8" y="306.8" width="9.2" height="10.4" fill="#f2f2f2"/><circle cx="198.4" cy="312.0" r="2.8" fill="#e88526" stroke="#b46c2c" stroke-width="0.4"/><text x="207.4" y="314.0" font-size="5.4" fill="#444">2</text><rect x="193.8" y="317.2" width="9.2" height="10.4" fill="#f2f2f2"/><circle cx="198.4" cy="322.4" r="2.8" fill="#de8c00" stroke="#ad7112" stroke-width="0.4"/><text x="207.4" y="324.4" font-size="5.4" fill="#444">3</text><rect x="213.5" y="306.8" width="9.2" height="10.4" fill="#f2f2f2"/><circle cx="218.1" cy="312.0" r="2.8" fill="#d39200" stroke="#a57512" stroke-width="0.4"/><text x="227.1" y="314.0" font-size="5.4" fill="#444">4</text><rect x="213.5" y="317.2" width="9.2" height="10.4" fill="#f2f2f2"/><circle cx="218.1" cy="322.4" r="2.8" fill="#c69900" stroke="#9c7a12" stroke-width="0.4"/><text x="227.1" y="324.4" font-size="5.4" fill="#444">5</text><rect x="233.2" y="306.8" width="9.2" height="10.4" fill="#f2f2f2"/><circle cx="237.8" cy="312.0" r="2.8" fill="#b79f00" stroke="#927e12" stroke-width="0.4"/><text x="246.8" y="314.0" font-size="5.4" fill="#444">6</text><rect x="233.2" y="317.2" width="9.2" height="10.4" fill="#f2f2f2"/><circle cx="237.8" cy="322.4" r="2.8" fill="#a6a400" stroke="#868112" stroke-width="0.4"/><text x="246.8" y="324.4" font-size="5.4" fill="#444">7</text><rect x="253.0" y="306.8" width="9.2" height="10.4" fill="#f2f2f2"/><circle cx="257.6" cy="312.0" r="2.8" fill="#93aa00" stroke="#788612" stroke-width="0.4"/><text x="266.6" y="314.0" font-size="5.4" fill="#444">8</text><rect x="253.0" y="317.2" width="9.2" height="10.4" fill="#f2f2f2"/><circle cx="257.6" cy="322.4" r="2.8" fill="#7cae00" stroke="#688812" stroke-width="0.4"/><text x="266.6" y="324.4" font-size="5.4" fill="#444">9</text><rect x="272.8" y="306.8" width="9.2" height="10.4" fill="#f2f2f2"/><circle cx="277.4" cy="312.0" r="2.8" fill="#5eb300" stroke="#538c12" stroke-width="0.4"/><text x="286.4" y="314.0" font-size="5.4" fill="#444">10</text><rect x="272.8" y="317.2" width="9.2" height="10.4" fill="#f2f2f2"/><circle cx="277.4" cy="322.4" r="2.8" fill="#2bb600" stroke="#308e12" stroke-width="0.4"/><text x="286.4" y="324.4" font-size="5.4" fill="#444">11</text><rect x="295.2" y="306.8" width="9.2" height="10.4" fill="#f2f2f2"/><circle cx="299.8" cy="312.0" r="2.8" fill="#00ba38" stroke="#129139" stroke-width="0.4"/><text x="308.8" y="314.0" font-size="5.4" fill="#444">12</text><rect x="295.2" y="317.2" width="9.2" height="10.4" fill="#f2f2f2"/><circle cx="299.8" cy="322.4" r="2.8" fill="#00bc5a" stroke="#129251" stroke-width="0.4"/><text x="308.8" y="324.4" font-size="5.4" fill="#444">13</text><rect x="317.7" y="306.8" width="9.2" height="10.4" fill="#f2f2f2"/><circle cx="322.3" cy="312.0" r="2.8" fill="#00bf74" stroke="#129463" stroke-width="0.4"/><text x="331.3" y="314.0" font-size="5.4" fill="#444">14</text><rect x="317.7" y="317.2" width="9.2" height="10.4" fill="#f2f2f2"/><circle cx="322.3" cy="322.4" r="2.8" fill="#00c08b" stroke="#129573" stroke-width="0.4"/><text x="331.3" y="324.4" font-size="5.4" fill="#444">15</text><rect x="340.2" y="306.8" width="9.2" height="10.4" fill="#f2f2f2"/><circle cx="344.8" cy="312.0" r="2.8" fill="#00c19f" stroke="#129681" stroke-width="0.4"/><text x="353.8" y="314.0" font-size="5.4" fill="#444">16</text><rect x="340.2" y="317.2" width="9.2" height="10.4" fill="#f2f2f2"/><circle cx="344.8" cy="322.4" r="2.8" fill="#00c0b3" stroke="#12958f" stroke-width="0.4"/><text x="353.8" y="324.4" font-size="5.4" fill="#444">17</text><rect x="362.9" y="306.8" width="9.2" height="10.4" fill="#f2f2f2"/><circle cx="367.5" cy="312.0" r="2.8" fill="#00bfc4" stroke="#12949b" stroke-width="0.4"/><text x="376.5" y="314.0" font-size="5.4" fill="#444">18</text><rect x="362.9" y="317.2" width="9.2" height="10.4" fill="#f2f2f2"/><circle cx="367.5" cy="322.4" r="2.8" fill="#00bdd5" stroke="#1293a7" stroke-width="0.4"/><text x="376.5" y="324.4" font-size="5.4" fill="#444">19</text><rect x="386.0" y="306.8" width="9.2" height="10.4" fill="#f2f2f2"/><circle cx="390.6" cy="312.0" r="2.8" fill="#00b9e3" stroke="#1290b0" stroke-width="0.4"/><text x="399.6" y="314.0" font-size="5.4" fill="#444">20</text><rect x="386.0" y="317.2" width="9.2" height="10.4" fill="#f2f2f2"/><circle cx="390.6" cy="322.4" r="2.8" fill="#00b4f0" stroke="#128dba" stroke-width="0.4"/><text x="399.6" y="324.4" font-size="5.4" fill="#444">21</text><rect x="409.0" y="306.8" width="9.2" height="10.4" fill="#f2f2f2"/><circle cx="413.6" cy="312.0" r="2.8" fill="#00adfa" stroke="#1288c1" stroke-width="0.4"/><text x="422.6" y="314.0" font-size="5.4" fill="#444">22</text><rect x="409.0" y="317.2" width="9.2" height="10.4" fill="#f2f2f2"/><circle cx="413.6" cy="322.4" r="2.8" fill="#00a5ff" stroke="#1282c4" stroke-width="0.4"/><text x="422.6" y="324.4" font-size="5.4" fill="#444">23</text><rect x="431.6" y="306.8" width="9.2" height="10.4" fill="#f2f2f2"/><circle cx="436.2" cy="312.0" r="2.8" fill="#619cff" stroke="#557cc4" stroke-width="0.4"/><text x="445.2" y="314.0" font-size="5.4" fill="#444">24</text><rect x="431.6" y="317.2" width="9.2" height="10.4" fill="#f2f2f2"/><circle cx="436.2" cy="322.4" r="2.8" fill="#8e92ff" stroke="#7575c4" stroke-width="0.4"/><text x="445.2" y="324.4" font-size="5.4" fill="#444">25</text><rect x="454.2" y="306.8" width="9.2" height="10.4" fill="#f2f2f2"/><circle cx="458.8" cy="312.0" r="2.8" fill="#ae87ff" stroke="#8b6dc4" stroke-width="0.4"/><text x="467.8" y="314.0" font-size="5.4" fill="#444">26</text><rect x="454.2" y="317.2" width="9.2" height="10.4" fill="#f2f2f2"/><circle cx="458.8" cy="322.4" r="2.8" fill="#c77cff" stroke="#9d65c4" stroke-width="0.4"/><text x="467.8" y="324.4" font-size="5.4" fill="#444">27</text><rect x="476.8" y="306.8" width="9.2" height="10.4" fill="#f2f2f2"/><circle cx="481.4" cy="312.0" r="2.8" fill="#db72fb" stroke="#ab5ec1" stroke-width="0.4"/><text x="490.4" y="314.0" font-size="5.4" fill="#444">28</text><rect x="476.8" y="317.2" width="9.2" height="10.4" fill="#f2f2f2"/><circle cx="481.4" cy="322.4" r="2.8" fill="#ea6af1" stroke="#b559ba" stroke-width="0.4"/><text x="490.4" y="324.4" font-size="5.4" fill="#444">29</text><rect x="499.4" y="306.8" width="9.2" height="10.4" fill="#f2f2f2"/><circle cx="504.0" cy="312.0" r="2.8" fill="#f564e3" stroke="#bd55b0" stroke-width="0.4"/><text x="513.0" y="314.0" font-size="5.4" fill="#444">30</text><rect x="499.4" y="317.2" width="9.2" height="10.4" fill="#f2f2f2"/><circle cx="504.0" cy="322.4" r="2.8" fill="#fc61d4" stroke="#c252a6" stroke-width="0.4"/><text x="513.0" y="324.4" font-size="5.4" fill="#444">31</text><rect x="522.0" y="306.8" width="9.2" height="10.4" fill="#f2f2f2"/><circle cx="526.6" cy="312.0" r="2.8" fill="#ff61c3" stroke="#c4529a" stroke-width="0.4"/><text x="535.6" y="314.0" font-size="5.4" fill="#444">32</text><rect x="522.0" y="317.2" width="9.2" height="10.4" fill="#f2f2f2"/><circle cx="526.6" cy="322.4" r="2.8" fill="#ff64b0" stroke="#c4558d" stroke-width="0.4"/><text x="535.6" y="324.4" font-size="5.4" fill="#444">33</text><rect x="545.0" y="306.8" width="9.2" height="10.4" fill="#f2f2f2"/><circle cx="549.6" cy="312.0" r="2.8" fill="#ff699c" stroke="#c4587f" stroke-width="0.4"/><text x="558.6" y="314.0" font-size="5.4" fill="#444">34</text><rect x="545.0" y="317.2" width="9.2" height="10.4" fill="#f2f2f2"/><circle cx="549.6" cy="322.4" r="2.8" fill="#fd6f86" stroke="#c35c6f" stroke-width="0.4"/><text x="558.6" y="324.4" font-size="5.4" fill="#444">35</text></g><g id="panelC"><text x="3.0" y="350.2" font-size="13.8" font-weight="bold" textLength="7.7" lengthAdjust="spacingAndGlyphs" fill="#000">C</text><path d="M46.2,368 V513.9" stroke="#ebebeb" stroke-width="0.7"/><path d="M65.1,368 V513.9" stroke="#ebebeb" stroke-width="0.4"/><path d="M84.0,368 V513.9" stroke="#ebebeb" stroke-width="0.7"/><path d="M102.8,368 V513.9" stroke="#ebebeb" stroke-width="0.4"/><path d="M121.7,368 V513.9" stroke="#ebebeb" stroke-width="0.7"/><path d="M140.6,368 V513.9" stroke="#ebebeb" stroke-width="0.4"/><path d="M159.4,368 V513.9" stroke="#ebebeb" stroke-width="0.7"/><path d="M178.3,368 V513.9" stroke="#ebebeb" stroke-width="0.4"/><path d="M197.2,368 V513.9" stroke="#ebebeb" stroke-width="0.7"/><path d="M38,510.9 H200" stroke="#ebebeb" stroke-width="0.7"/><path d="M38,488.2 H200" stroke="#ebebeb" stroke-width="0.4"/><path d="M38,465.5 H200" stroke="#ebebeb" stroke-width="0.7"/><path d="M38,442.8 H200" stroke="#ebebeb" stroke-width="0.4"/><path d="M38,420.2 H200" stroke="#ebebeb" stroke-width="0.7"/><path d="M38,397.5 H200" stroke="#ebebeb" stroke-width="0.4"/><path d="M38,374.8 H200" stroke="#ebebeb" stroke-width="0.7"/><path d="M84.0,368 V512.4M159.4,368 V514.9" stroke="#868686" stroke-width="1.05"/><path d="M38,510.9 H200" stroke="#868686" stroke-width="1.1"/><text x="36.0" y="514.5" font-size="10.4" text-anchor="end" fill="#4d4d4d">0</text><text x="36.0" y="469.1" font-size="10.4" text-anchor="end" fill="#4d4d4d">100</text><text x="36.0" y="423.7" font-size="10.4" text-anchor="end" fill="#4d4d4d">200</text><text x="36.0" y="378.4" font-size="10.4" text-anchor="end" fill="#4d4d4d">300</text><text x="46.2" y="527.8" font-size="10.4" text-anchor="middle" fill="#4d4d4d">-2</text><text x="84.0" y="527.8" font-size="10.4" text-anchor="middle" fill="#4d4d4d">-1</text><text x="121.7" y="527.8" font-size="10.4" text-anchor="middle" fill="#4d4d4d">0</text><text x="159.4" y="527.8" font-size="10.4" text-anchor="middle" fill="#4d4d4d">1</text><text x="197.2" y="527.8" font-size="10.4" text-anchor="middle" fill="#4d4d4d">2</text><text x="50.3" y="362.2" font-size="16.2" textLength="147.3" lengthAdjust="spacingAndGlyphs" fill="#000" stroke="#000" stroke-width="0.1">Normal SNAP vs OCT</text><text x="58.7" y="541.7" font-size="15.1" textLength="126.0" lengthAdjust="spacingAndGlyphs" fill="#000">Log2 Fold-Change</text><text transform="translate(14.4 491.5) rotate(-90)" font-size="15.7" textLength="97.7" lengthAdjust="spacingAndGlyphs">-log10(p-value)</text><path d="M130.7,510.9 L131.6,506.6 L132.4,502.3 L133.1,498.0 L133.9,493.7 L134.6,489.3 L135.4,485.0 L136.1,480.7 L136.8,476.4 L137.5,472.1 L138.2,467.8 L138.9,463.5 L139.6,459.2 L140.3,454.9 L140.9,450.6 L141.6,446.2 L142.3,441.9 L143.0,437.6 L143.6,433.3 L144.3,429.0 L145.0,424.7 L145.6,420.4 L146.3,416.1 L146.9,411.8 L147.6,407.5 L151.2,407.5 L150.7,411.8 L150.1,416.1 L149.6,420.4 L149.1,424.7 L148.6,429.0 L148.1,433.3 L147.5,437.6 L147.0,441.9 L146.5,446.2 L145.9,450.6 L145.4,454.9 L144.8,459.2 L144.3,463.5 L143.7,467.8 L143.2,472.1 L142.6,476.4 L142.0,480.7 L141.5,485.0 L140.9,489.3 L140.3,493.7 L139.7,498.0 L139.0,502.3 L138.4,506.6 L137.6,510.9Z" fill="#c2c2c2" stroke="#c2c2c2" stroke-width="1.2" stroke-linejoin="round"/><path d="M145.8 438.7h0M136.1 492.7h0M137.5 510.8h0M143.0 462.1h0M135.5 489.4h0M140.3 449.7h0M142.5 439.2h0M146.0 440.7h0M140.4 462.3h0M139.4 455.5h0M136.8 496.2h0M136.6 510.8h0M151.0 396.3h0M151.0 436.4h0M141.0 456.4h0M141.6 442.9h0M138.5 481.3h0M141.7 474.1h0M145.2 441.8h0M133.6 500.3h0M140.1 505.1h0M133.7 484.1h0M138.8 502.1h0M154.8 392.1h0M151.8 387.9h0M142.7 436.1h0M143.6 469.9h0M141.0 462.1h0M149.3 418.4h0M130.3 509.7h0M143.6 433.6h0M149.3 397.6h0M147.6 429.4h0M152.7 416.1h0M134.3 510.8h0M133.7 501.6h0M134.5 510.5h0M138.8 455.6h0M141.8 476.2h0M151.1 384.2h0M134.3 487.5h0M153.2 378.4h0M149.6 393.4h0M140.8 467.8h0M149.7 388.8h0M145.2 454.7h0M148.3 409.2h0M148.8 438.0h0M141.4 471.6h0M151.9 390.1h0M138.4 460.5h0M134.4 483.3h0M146.5 438.3h0M140.3 469.8h0M150.7 421.9h0M149.0 409.8h0M153.2 390.1h0M141.6 489.6h0M133.7 509.2h0M135.6 510.2h0M145.5 451.9h0M141.7 440.9h0M136.7 509.2h0M148.3 400.9h0M136.4 481.9h0M144.9 410.6h0M149.1 410.7h0M149.5 395.9h0M144.3 436.6h0M146.2 437.6h0M136.6 480.8h0M150.8 394.1h0M133.6 493.8h0M140.0 474.1h0M147.6 433.7h0M135.1 501.9h0M134.6 474.4h0M129.1 493.8h0M135.1 506.3h0M141.3 484.1h0M137.7 502.1h0M151.9 391.7h0M152.0 404.6h0M151.0 395.7h0M138.8 505.1h0M150.3 405.8h0M134.7 507.6h0M136.0 496.4h0M152.7 418.9h0M148.0 410.3h0M148.8 414.1h0M136.1 497.0h0M148.6 423.3h0M139.3 468.7h0M143.5 451.3h0M147.1 423.3h0M151.7 389.4h0M151.9 405.9h0M152.9 377.0h0M142.6 465.1h0M139.2 493.6h0M131.4 509.6h0M149.0 423.6h0M152.5 394.8h0M133.9 492.5h0M138.0 502.8h0M140.9 459.8h0M138.5 488.1h0M142.7 455.2h0M141.6 472.0h0M137.6 497.5h0M149.9 385.4h0M136.6 494.6h0M150.6 390.2h0M148.2 442.6h0M150.6 396.2h0M145.3 416.8h0M149.0 429.8h0M136.9 498.7h0M140.9 443.1h0M141.2 499.9h0M144.5 446.4h0M151.6 409.9h0M151.0 383.8h0M141.9 428.1h0M149.4 431.7h0M145.5 415.4h0M138.2 510.4h0M136.5 470.2h0M144.4 421.8h0M142.3 449.0h0M144.7 437.8h0M134.0 493.0h0M133.0 495.6h0M144.5 425.6h0M145.4 462.4h0M145.7 430.3h0M143.3 448.9h0M137.4 474.0h0M144.9 457.0h0M135.8 473.9h0M137.2 465.0h0M147.8 399.8h0M143.2 432.5h0M139.1 468.6h0M139.5 485.0h0M136.6 477.6h0M143.4 445.4h0M140.4 474.4h0M142.4 458.4h0M138.6 495.6h0M147.3 405.5h0M134.7 463.5h0M139.4 495.3h0M144.6 415.2h0M153.7 407.2h0M136.6 490.4h0M145.1 436.8h0M147.8 453.9h0M136.5 485.4h0M133.0 507.3h0M149.1 425.2h0M146.5 415.5h0M144.4 433.8h0M144.5 418.6h0M145.2 466.3h0M146.9 436.4h0M137.3 486.1h0M133.7 498.9h0M141.3 487.7h0M141.2 470.5h0M134.6 499.3h0M147.1 431.9h0M148.5 442.6h0M148.4 395.3h0M128.2 509.6h0M151.3 376.7h0M145.4 430.3h0M148.6 441.4h0M131.2 510.3h0M141.8 468.6h0M139.3 479.6h0M141.2 483.6h0M139.1 486.7h0M152.1 401.0h0M136.7 490.5h0M140.9 429.0h0M152.9 385.8h0M137.9 502.3h0M136.1 509.4h0M135.8 506.1h0M143.4 441.4h0M146.3 463.9h0M148.5 417.3h0M143.6 474.3h0M139.7 473.1h0M143.3 424.6h0M136.6 486.6h0M142.6 464.9h0M137.5 506.6h0M134.1 498.2h0M135.3 493.9h0M135.8 487.3h0M137.2 506.8h0M137.8 507.4h0M150.7 398.6h0M139.8 475.5h0M147.3 408.0h0M154.5 380.5h0M137.6 500.1h0M151.1 383.3h0M141.8 481.2h0M143.5 444.2h0M132.9 495.6h0M142.5 498.9h0M137.5 501.8h0M139.6 471.0h0M145.0 451.4h0M139.6 504.2h0M130.3 504.7h0M152.3 391.0h0M132.5 496.2h0M134.1 507.1h0M137.3 454.0h0M138.6 501.2h0M143.5 418.5h0M142.8 482.8h0M132.5 499.2h0M143.3 456.4h0M135.4 508.4h0M142.8 477.1h0M138.0 509.5h0M137.0 489.3h0M140.4 470.5h0M144.3 482.8h0M137.2 501.4h0M151.8 386.5h0M142.2 461.0h0M146.8 427.5h0M130.5 504.6h0M153.4 386.1h0M140.9 440.8h0M140.0 463.4h0M145.1 430.3h0M141.6 469.9h0M150.8 385.2h0M151.2 385.7h0M143.2 417.5h0M142.7 473.2h0M151.0 417.9h0M150.5 409.8h0M139.1 483.6h0M143.7 481.3h0M146.5 427.3h0M143.8 437.0h0M144.0 446.0h0M144.5 441.1h0M132.3 506.4h0M134.5 495.4h0M141.1 441.8h0M134.1 509.0h0M148.8 426.4h0M132.0 510.8h0M132.1 506.7h0M135.4 507.1h0M143.4 466.6h0M140.3 510.6h0M154.4 393.2h0M130.2 509.8h0M150.6 437.5h0M143.4 479.7h0M146.6 430.6h0M135.0 504.8h0M151.9 383.5h0M143.1 454.8h0M134.8 507.4h0M148.7 408.1h0M136.9 497.8h0M157.1 378.9h0M142.3 471.1h0M140.8 510.7h0M146.0 457.1h0M139.5 482.1h0M149.4 456.9h0M145.8 445.8h0M145.1 456.9h0M152.2 384.1h0M148.0 438.9h0M143.5 494.3h0M139.0 496.0h0M144.3 451.8h0M146.7 433.2h0M133.1 510.3h0M141.1 457.0h0M136.9 498.1h0M143.7 458.5h0M140.4 485.3h0M151.4 423.6h0M153.1 388.2h0M143.1 451.4h0M134.7 507.2h0M136.8 505.0h0M152.9 378.3h0M138.4 497.7h0M152.0 396.7h0M139.9 485.2h0M151.7 388.9h0M133.6 501.8h0M143.0 468.4h0M137.3 485.4h0M154.5 392.1h0M137.8 483.0h0M142.7 456.8h0M134.6 505.3h0M132.6 509.8h0M139.6 510.4h0M136.9 461.5h0M132.8 504.1h0M144.5 448.4h0M146.6 438.0h0M142.1 472.7h0M150.3 415.9h0M140.6 469.4h0M147.5 423.7h0M139.1 462.0h0M153.5 389.4h0M142.8 470.1h0M131.7 509.7h0M131.1 506.9h0M141.2 496.9h0M146.7 442.3h0M141.0 480.6h0M148.7 382.0h0M145.1 434.4h0M143.5 485.4h0M146.7 418.6h0M136.9 484.5h0M149.2 400.4h0M150.9 377.8h0M137.2 505.0h0M148.8 412.4h0M135.8 495.7h0M144.2 443.9h0M136.8 510.5h0M150.3 407.1h0M147.3 416.9h0M138.4 505.9h0M143.3 442.9h0M138.4 473.4h0M148.7 383.7h0M144.7 440.5h0M138.6 461.7h0M154.8 381.4h0M144.5 484.4h0M143.5 456.2h0M132.2 507.4h0M138.5 483.7h0M139.9 460.4h0M146.5 436.3h0M134.2 499.3h0M154.4 376.7h0M151.1 390.3h0M142.2 449.3h0M138.0 506.0h0M139.0 484.9h0M152.3 386.3h0M154.0 381.6h0M152.8 389.8h0M152.0 399.3h0M139.1 504.9h0M151.9 384.3h0M148.7 390.7h0M138.1 502.5h0M149.7 394.6h0M151.3 421.4h0M138.9 456.9h0M142.6 440.0h0M138.2 502.8h0M135.5 498.3h0M150.1 423.8h0M142.8 478.2h0M152.9 379.8h0M138.7 497.8h0M148.4 440.4h0M142.6 472.4h0M134.7 469.6h0M138.9 486.4h0M135.6 484.9h0M136.3 478.7h0M137.9 476.7h0M145.4 434.8h0M146.8 432.3h0M149.4 398.1h0M137.6 488.3h0M139.9 495.3h0M147.9 408.7h0M149.2 433.5h0M147.8 446.2h0M134.3 492.7h0M147.2 419.4h0M147.5 439.1h0M134.9 508.0h0M146.6 427.3h0M142.8 459.2h0M147.4 436.7h0M142.3 430.5h0M150.0 463.3h0M138.4 493.3h0M153.6 394.0h0M137.5 502.5h0M144.1 458.3h0M135.7 487.0h0M141.5 476.3h0M142.0 467.0h0M147.9 419.2h0M146.4 406.9h0M148.4 397.8h0M146.5 435.6h0M143.4 439.0h0M139.5 472.0h0M139.3 465.5h0M144.2 431.1h0M147.7 419.4h0M136.6 491.7h0M148.8 384.7h0M140.5 496.7h0M145.0 419.1h0M140.9 484.4h0M147.5 479.4h0M141.6 475.5h0M149.9 429.8h0M137.5 493.5h0M149.7 383.8h0M150.3 398.9h0M144.4 465.8h0M134.8 495.9h0M154.9 376.9h0M139.8 501.5h0M146.6 435.3h0M141.1 504.5h0M155.2 388.6h0M136.8 499.5h0M139.4 479.4h0M141.3 463.0h0M138.9 489.2h0M140.9 452.3h0M148.4 491.7h0M155.5 382.1h0M146.2 427.0h0M139.6 465.9h0M151.3 415.1h0M140.3 460.5h0M146.7 422.7h0M138.1 486.3h0M145.1 429.5h0M150.7 409.7h0M140.1 478.1h0M155.1 399.1h0M133.7 501.6h0M148.9 410.9h0M142.4 436.8h0M141.0 496.6h0M153.7 424.0h0M138.8 507.6h0M142.1 481.5h0M132.1 510.1h0M142.8 452.6h0M139.8 451.3h0M151.1 406.1h0M139.6 484.3h0M156.3 410.5h0M150.6 402.9h0M139.1 460.2h0M149.7 404.8h0M145.6 462.7h0M150.8 380.8h0M134.4 487.6h0M142.0 487.0h0M146.8 481.3h0M149.7 393.5h0M146.0 448.8h0M153.1 416.8h0M145.9 474.1h0M143.0 464.8h0M139.2 480.1h0M144.4 457.9h0M145.8 455.6h0M153.3 418.2h0M150.2 431.8h0M137.8 489.4h0M133.2 510.2h0M148.3 414.3h0M151.6 403.6h0M139.9 462.9h0M138.4 478.7h0M149.1 429.0h0M147.3 421.1h0M144.8 446.1h0M144.2 455.0h0M140.5 476.2h0M133.0 509.2h0M151.8 379.0h0M138.4 476.9h0M150.8 386.5h0M138.9 474.9h0M148.2 413.2h0M139.3 510.3h0M147.5 426.3h0M149.7 403.2h0M134.1 485.3h0M141.2 469.2h0M134.9 495.8h0M135.4 495.3h0M140.6 489.4h0M144.5 457.6h0M138.1 462.8h0M141.9 463.9h0M132.7 488.3h0M133.9 503.6h0M135.4 482.6h0M143.9 457.2h0M148.9 401.1h0M135.7 469.3h0M132.9 507.2h0M145.2 444.2h0M143.9 470.1h0M135.7 504.6h0M151.9 384.8h0M139.0 491.8h0M131.1 507.6h0M137.1 495.1h0M133.3 506.7h0M141.6 475.3h0M136.8 480.9h0M142.9 439.5h0M155.2 385.2h0M141.7 432.5h0M140.7 483.1h0M136.3 495.8h0M155.2 376.7h0M153.2 379.9h0M153.9 406.6h0M150.4 404.3h0M141.7 449.4h0M137.4 473.5h0M137.1 497.9h0M141.4 476.6h0M140.4 486.4h0M138.0 479.0h0M138.6 484.4h0M148.4 409.1h0M144.1 425.0h0M140.4 454.4h0M152.9 423.6h0M135.5 490.3h0M153.6 393.9h0M139.9 462.8h0M148.2 409.3h0M151.5 393.4h0M150.9 436.4h0M149.5 441.7h0M152.0 380.9h0M143.1 452.9h0M136.1 466.9h0M142.6 451.9h0M148.1 427.8h0M145.3 412.7h0M141.1 470.0h0M143.0 480.2h0M143.5 467.8h0M139.7 476.6h0M146.2 443.1h0M151.7 393.3h0M145.2 428.9h0M138.6 457.7h0M149.1 407.5h0M134.4 505.7h0M151.2 389.8h0M142.5 473.0h0M152.6 391.9h0M152.9 388.6h0M141.7 462.7h0M144.4 462.2h0M145.8 459.2h0M151.9 406.3h0M143.0 449.6h0M150.9 396.5h0M144.9 437.2h0M149.8 393.3h0M134.3 502.4h0M143.6 483.4h0M135.8 500.8h0M135.7 500.8h0M154.0 390.7h0M140.3 475.7h0M136.5 492.1h0M137.9 507.6h0M142.2 434.6h0M144.4 437.4h0M147.2 410.4h0M150.0 378.5h0M149.9 412.3h0M132.0 510.3h0M153.1 384.7h0M145.5 446.5h0M142.5 473.6h0M137.4 502.9h0M150.4 385.3h0M139.0 454.4h0M138.1 479.6h0M147.7 437.3h0M138.1 473.7h0M140.7 450.6h0M94.5 501.8h0M96.0 504.1h0M98.3 505.5h0M100.9 507.3h0M107.4 508.2h0M109.2 510.0h0M110.4 510.7h0M137.6 510.0h0M158.7 446.5h0M155.7 379.3h0M156.8 376.6h0M154.2 381.6h0" stroke="#c2c2c2" stroke-width="1.8" stroke-linecap="round" fill="none"/><path d="M147.7,368.7 H158.8" stroke="#c2c2c2" stroke-width="1.1"/><path d="M160.9 368.7h0M161.8 368.7h0M162.7 368.7h0M163.6 368.7h0M164.5 368.7h0M165.4 368.7h0M166.3 368.7h0M167.3 368.7h0M168.3 368.7h0M169.4 368.7h0M170.6 368.7h0M171.8 368.7h0M174.6 368.7h0M181.5 368.7h0M188.7 368.7h0" stroke="#c9302c" stroke-width="1.3" stroke-linecap="round" fill="none"/><path d="M160.2 379.5h0M169.6 379.1h0M163.3 391.8h0M170.4 396.1h0M163.1 400.2h0M160.0 408.1h0M161.5 421.7h0" stroke="#b81f1f" stroke-width="2.3" stroke-linecap="round" fill="none"/><rect x="155.8" y="364.4" width="36.8" height="61.6" fill="none" stroke="#366fa8" stroke-width="1.15"/><path d="M192.6,364.4 L205.4,363 M192.6,426 L205.4,531.3" stroke="#366fa8" stroke-width="1.15" fill="none"/><rect x="205.4" y="363" width="125.1" height="168.29999999999995" fill="#fff" stroke="#366fa8" stroke-width="1.2"/><rect x="235.3" y="364.3" width="92.09999999999997" height="151.7" fill="#fff" stroke="#bdbdbd" stroke-width="0.5"/><path d="M246.7,364.6 V515.7" stroke="#f0f0f0" stroke-width="0.5"/><path d="M264.1,364.6 V515.7" stroke="#f0f0f0" stroke-width="0.5"/><path d="M281.4,364.6 V515.7" stroke="#f0f0f0" stroke-width="0.5"/><path d="M298.8,364.6 V515.7" stroke="#f0f0f0" stroke-width="0.5"/><path d="M316.1,364.6 V515.7" stroke="#f0f0f0" stroke-width="0.5"/><clipPath id="cpL"><rect x="206.0" y="363" width="125.1" height="168.29999999999995"/></clipPath><g clip-path="url(#cpL)"><rect x="246.7" y="365.75" width="36.8" height="6.10" fill="#b22222"/><text x="233.6" y="371.1" font-size="6.5" text-anchor="end" textLength="12.7" lengthAdjust="spacingAndGlyphs" fill="#404040">UBB</text><path d="M234.10000000000002,368.8 H235.3" stroke="#777" stroke-width="0.35"/><rect x="246.7" y="372.88" width="38.9" height="6.10" fill="#b22222"/><text x="233.6" y="378.3" font-size="6.5" text-anchor="end" textLength="12.7" lengthAdjust="spacingAndGlyphs" fill="#404040">SDS</text><path d="M234.10000000000002,375.9 H235.3" stroke="#777" stroke-width="0.35"/><rect x="246.7" y="380.02" width="35.0" height="6.10" fill="#b22222"/><text x="233.6" y="385.4" font-size="6.5" text-anchor="end" textLength="18.2" lengthAdjust="spacingAndGlyphs" fill="#404040">RHOU</text><path d="M234.10000000000002,383.1 H235.3" stroke="#777" stroke-width="0.35"/><rect x="246.7" y="387.16" width="35.0" height="6.10" fill="#b22222"/><text x="233.6" y="392.5" font-size="6.5" text-anchor="end" textLength="17.2" lengthAdjust="spacingAndGlyphs" fill="#404040">PLIN2</text><path d="M234.10000000000002,390.2 H235.3" stroke="#777" stroke-width="0.35"/><rect x="246.7" y="394.29" width="48.9" height="6.10" fill="#b22222"/><text x="233.6" y="399.7" font-size="6.5" text-anchor="end" textLength="16.1" lengthAdjust="spacingAndGlyphs" fill="#404040">PCK1</text><path d="M234.10000000000002,397.3 H235.3" stroke="#777" stroke-width="0.35"/><rect x="246.7" y="401.43" width="41.3" height="6.10" fill="#b22222"/><text x="233.6" y="406.8" font-size="6.5" text-anchor="end" textLength="25.0" lengthAdjust="spacingAndGlyphs" fill="#404040">MFSD2A</text><path d="M234.10000000000002,404.5 H235.3" stroke="#777" stroke-width="0.35"/><rect x="246.7" y="408.56" width="39.9" height="6.10" fill="#b22222"/><text x="233.6" y="413.9" font-size="6.5" text-anchor="end" textLength="14.8" lengthAdjust="spacingAndGlyphs" fill="#404040">KLF6</text><path d="M234.10000000000002,411.6 H235.3" stroke="#777" stroke-width="0.35"/><rect x="246.7" y="415.69" width="45.5" height="6.10" fill="#b22222"/><text x="233.6" y="421.1" font-size="6.5" text-anchor="end" textLength="12.0" lengthAdjust="spacingAndGlyphs" fill="#404040">JUN</text><path d="M234.10000000000002,418.7 H235.3" stroke="#777" stroke-width="0.35"/><rect x="246.7" y="422.83" width="43.7" height="6.10" fill="#b22222"/><text x="233.6" y="428.2" font-size="6.5" text-anchor="end" textLength="22.0" lengthAdjust="spacingAndGlyphs" fill="#404040">IGFBP1</text><path d="M234.10000000000002,425.9 H235.3" stroke="#777" stroke-width="0.35"/><rect x="246.7" y="429.96" width="44.1" height="6.10" fill="#b22222"/><text x="233.6" y="435.4" font-size="6.5" text-anchor="end" textLength="11.3" lengthAdjust="spacingAndGlyphs" fill="#404040">H19</text><path d="M234.10000000000002,433.0 H235.3" stroke="#777" stroke-width="0.35"/><rect x="246.7" y="437.10" width="45.1" height="6.10" fill="#b22222"/><text x="233.6" y="442.5" font-size="6.5" text-anchor="end" textLength="19.9" lengthAdjust="spacingAndGlyphs" fill="#404040">GDF15</text><path d="M234.10000000000002,440.1 H235.3" stroke="#777" stroke-width="0.35"/><rect x="246.7" y="444.24" width="38.2" height="6.10" fill="#b22222"/><text x="233.6" y="449.6" font-size="6.5" text-anchor="end" textLength="11.7" lengthAdjust="spacingAndGlyphs" fill="#404040">FST</text><path d="M234.10000000000002,447.3 H235.3" stroke="#777" stroke-width="0.35"/><rect x="246.7" y="451.37" width="36.8" height="6.10" fill="#b22222"/><text x="233.6" y="456.8" font-size="6.5" text-anchor="end" textLength="15.4" lengthAdjust="spacingAndGlyphs" fill="#404040">FGL1</text><path d="M234.10000000000002,454.4 H235.3" stroke="#777" stroke-width="0.35"/><rect x="246.7" y="458.50" width="61.4" height="6.10" fill="#b22222"/><text x="233.6" y="463.9" font-size="6.5" text-anchor="end" textLength="23.7" lengthAdjust="spacingAndGlyphs" fill="#404040">DNAJB1</text><path d="M234.10000000000002,461.6 H235.3" stroke="#777" stroke-width="0.35"/><rect x="246.7" y="465.64" width="38.2" height="6.10" fill="#b22222"/><text x="233.6" y="471.0" font-size="6.5" text-anchor="end" textLength="23.7" lengthAdjust="spacingAndGlyphs" fill="#404040">CYP2E1</text><path d="M234.10000000000002,468.7 H235.3" stroke="#777" stroke-width="0.35"/><rect x="246.7" y="472.77" width="39.9" height="6.10" fill="#b22222"/><text x="233.6" y="478.2" font-size="6.5" text-anchor="end" textLength="16.8" lengthAdjust="spacingAndGlyphs" fill="#404040">C1QA</text><path d="M234.10000000000002,475.8 H235.3" stroke="#777" stroke-width="0.35"/><rect x="246.7" y="479.91" width="36.8" height="6.10" fill="#b22222"/><text x="233.6" y="485.3" font-size="6.5" text-anchor="end" textLength="16.5" lengthAdjust="spacingAndGlyphs" fill="#404040">BAG3</text><path d="M234.10000000000002,483.0 H235.3" stroke="#777" stroke-width="0.35"/><rect x="246.7" y="487.05" width="38.2" height="6.10" fill="#b22222"/><text x="233.6" y="492.4" font-size="6.5" text-anchor="end" textLength="15.7" lengthAdjust="spacingAndGlyphs" fill="#404040">BAAT</text><path d="M234.10000000000002,490.1 H235.3" stroke="#777" stroke-width="0.35"/><rect x="246.7" y="494.18" width="55.2" height="6.10" fill="#b22222"/><text x="233.6" y="499.6" font-size="6.5" text-anchor="end" textLength="14.6" lengthAdjust="spacingAndGlyphs" fill="#404040">ATF3</text><path d="M234.10000000000002,497.2 H235.3" stroke="#777" stroke-width="0.35"/><rect x="246.7" y="501.31" width="36.1" height="6.10" fill="#b22222"/><text x="233.6" y="506.7" font-size="6.5" text-anchor="end" textLength="24.0" lengthAdjust="spacingAndGlyphs" fill="#404040">AKR1C1</text><path d="M234.10000000000002,504.4 H235.3" stroke="#777" stroke-width="0.35"/><rect x="246.7" y="508.45" width="37.8" height="6.10" fill="#b22222"/><text x="233.6" y="513.8" font-size="6.5" text-anchor="end" textLength="20.6" lengthAdjust="spacingAndGlyphs" fill="#404040">ADH1B</text><path d="M234.10000000000002,511.5 H235.3" stroke="#777" stroke-width="0.35"/></g><path d="M281.4,364.3 V516" stroke="#111" stroke-width="0.5"/><text x="246.7" y="522.1" font-size="6" text-anchor="middle" fill="#4d4d4d">0.0</text><text x="264.1" y="522.1" font-size="6" text-anchor="middle" fill="#4d4d4d">0.5</text><text x="281.4" y="522.1" font-size="6" text-anchor="middle" fill="#4d4d4d">1.0</text><text x="298.8" y="522.1" font-size="6" text-anchor="middle" fill="#4d4d4d">1.5</text><text x="316.1" y="522.1" font-size="6" text-anchor="middle" fill="#4d4d4d">2.0</text><text x="249.0" y="529.7" font-size="8.3" textLength="65.0" lengthAdjust="spacingAndGlyphs" fill="#111">Log2 Fold-Change</text><path d="M384.4,365 V512.6" stroke="#ebebeb" stroke-width="0.7"/><path d="M403.5,365 V512.6" stroke="#ebebeb" stroke-width="0.4"/><path d="M422.6,365 V512.6" stroke="#ebebeb" stroke-width="0.7"/><path d="M441.7,365 V512.6" stroke="#ebebeb" stroke-width="0.4"/><path d="M460.8,365 V512.6" stroke="#ebebeb" stroke-width="0.7"/><path d="M479.9,365 V512.6" stroke="#ebebeb" stroke-width="0.4"/><path d="M499.0,365 V512.6" stroke="#ebebeb" stroke-width="0.7"/><path d="M518.1,365 V512.6" stroke="#ebebeb" stroke-width="0.4"/><path d="M537.2,365 V512.6" stroke="#ebebeb" stroke-width="0.7"/><path d="M377,509.6 H539" stroke="#ebebeb" stroke-width="0.7"/><path d="M377,486.8 H539" stroke="#ebebeb" stroke-width="0.4"/><path d="M377,464.0 H539" stroke="#ebebeb" stroke-width="0.7"/><path d="M377,441.1 H539" stroke="#ebebeb" stroke-width="0.4"/><path d="M377,418.3 H539" stroke="#ebebeb" stroke-width="0.7"/><path d="M377,395.5 H539" stroke="#ebebeb" stroke-width="0.4"/><path d="M377,372.7 H539" stroke="#ebebeb" stroke-width="0.7"/><path d="M422.6,365 V511.1M499.0,365 V513.6" stroke="#868686" stroke-width="1.05"/><path d="M377,509.6 H539" stroke="#868686" stroke-width="1.1"/><text x="373.2" y="513.2" font-size="10.4" text-anchor="end" fill="#4d4d4d">0</text><text x="373.2" y="467.5" font-size="10.4" text-anchor="end" fill="#4d4d4d">100</text><text x="373.2" y="421.9" font-size="10.4" text-anchor="end" fill="#4d4d4d">200</text><text x="373.2" y="376.2" font-size="10.4" text-anchor="end" fill="#4d4d4d">300</text><text x="384.4" y="526.5" font-size="10.4" text-anchor="middle" fill="#4d4d4d">-2</text><text x="422.6" y="526.5" font-size="10.4" text-anchor="middle" fill="#4d4d4d">-1</text><text x="460.8" y="526.5" font-size="10.4" text-anchor="middle" fill="#4d4d4d">0</text><text x="499.0" y="526.5" font-size="10.4" text-anchor="middle" fill="#4d4d4d">1</text><text x="537.2" y="526.5" font-size="10.4" text-anchor="middle" fill="#4d4d4d">2</text><text x="399.1" y="362.7" font-size="16.2" textLength="115.8" lengthAdjust="spacingAndGlyphs" fill="#000" stroke="#000" stroke-width="0.1">BA SNAP vs OCT</text><text x="396.5" y="540.8" font-size="15.1" textLength="127.7" lengthAdjust="spacingAndGlyphs" fill="#000">Log2 Fold-Change</text><text transform="translate(351.4 490.6) rotate(-90)" font-size="15.7" textLength="99.2" lengthAdjust="spacingAndGlyphs">-log10(p-value)</text><path d="M446.3,509.6 L444.9,507.7 L443.6,505.7 L442.5,503.8 L441.4,501.8 L440.4,499.9 L439.4,498.0 L438.5,496.0 L437.6,494.1 L436.8,492.1 L436.0,490.2 L435.4,488.3 L434.7,486.3 L434.2,484.4 L433.7,482.4 L433.2,480.5 L432.8,478.6 L432.5,476.6 L432.2,474.7 L432.0,472.7 L431.8,470.8 L431.7,468.9 L431.6,466.9 L431.5,465.0 L431.4,463.0 L435.0,463.0 L436.0,465.0 L437.0,466.9 L437.9,468.9 L438.9,470.8 L439.8,472.7 L440.7,474.7 L441.5,476.6 L442.3,478.6 L443.1,480.5 L443.8,482.4 L444.4,484.4 L445.0,486.3 L445.6,488.3 L446.1,490.2 L446.6,492.1 L447.0,494.1 L447.4,496.0 L447.8,498.0 L448.1,499.9 L448.4,501.8 L448.8,503.8 L449.1,505.7 L449.5,507.7 L450.1,509.6Z" fill="#c2c2c2" stroke="#c2c2c2" stroke-width="1.2" stroke-linejoin="round"/><path d="M471.1,509.6 L471.6,508.6 L472.0,507.7 L472.4,506.7 L472.8,505.8 L473.2,504.8 L473.6,503.9 L474.0,502.9 L474.4,502.0 L474.8,501.0 L475.2,500.1 L475.6,499.1 L476.0,498.2 L476.3,497.2 L476.7,496.3 L477.1,495.3 L477.5,494.4 L477.9,493.4 L478.3,492.5 L478.6,491.5 L479.0,490.6 L479.4,489.6 L479.8,488.7 L480.1,487.7 L480.5,486.8 L482.8,486.8 L482.5,487.7 L482.2,488.7 L481.9,489.6 L481.6,490.6 L481.3,491.5 L481.0,492.5 L480.7,493.4 L480.4,494.4 L480.1,495.3 L479.8,496.3 L479.5,497.2 L479.2,498.2 L478.9,499.1 L478.6,500.1 L478.3,501.0 L478.0,502.0 L477.7,502.9 L477.3,503.9 L477.0,504.8 L476.7,505.8 L476.4,506.7 L476.0,507.7 L475.7,508.6 L475.3,509.6Z" fill="#c2c2c2" stroke="#c2c2c2" stroke-width="1.2" stroke-linejoin="round"/><path d="M440.3 502.0h0M443.9 502.4h0M429.3 450.0h0M446.5 495.5h0M451.3 508.9h0M446.2 505.6h0M451.3 507.3h0M432.9 457.8h0M450.6 505.0h0M437.2 481.9h0M428.6 443.9h0M445.5 499.6h0M447.6 509.6h0M444.5 498.3h0M445.1 480.6h0M428.4 481.6h0M451.4 508.4h0M451.8 509.0h0M438.5 493.9h0M427.5 450.4h0M424.7 436.9h0M425.2 431.6h0M445.2 490.8h0M442.0 502.7h0M442.1 504.2h0M435.9 490.2h0M443.4 471.4h0M440.6 479.3h0M441.9 481.2h0M447.7 508.4h0M450.8 509.3h0M450.5 497.7h0M447.1 509.3h0M447.3 502.4h0M431.5 446.9h0M438.2 476.4h0M445.9 506.4h0M451.4 507.3h0M445.4 507.7h0M430.4 435.1h0M449.6 502.7h0M437.3 461.9h0M438.5 480.9h0M444.1 494.7h0M441.9 495.7h0M445.4 506.8h0M432.2 479.1h0M440.7 479.4h0M434.5 476.9h0M450.2 509.0h0M440.8 493.5h0M447.4 507.2h0M435.9 489.8h0M425.3 431.4h0M445.6 509.1h0M446.2 498.8h0M432.9 457.1h0M430.4 458.5h0M442.2 472.1h0M445.2 505.1h0M427.6 449.6h0M447.9 507.7h0M448.7 509.2h0M449.7 509.6h0M437.7 469.0h0M431.4 466.8h0M433.2 462.6h0M447.5 509.3h0M449.7 507.0h0M440.2 499.1h0M445.3 500.0h0M440.3 499.5h0M434.7 489.7h0M428.6 458.0h0M445.7 501.7h0M443.5 477.6h0M441.8 496.3h0M442.2 505.3h0M440.9 502.9h0M450.5 489.8h0M445.3 508.1h0M439.1 491.6h0M428.9 444.6h0M440.5 473.4h0M449.8 509.0h0M432.8 463.1h0M437.9 507.0h0M429.3 446.4h0M436.1 468.4h0M440.7 489.4h0M448.8 507.7h0M430.1 459.1h0M440.2 490.2h0M428.2 448.7h0M433.6 455.3h0M429.3 434.6h0M440.4 494.4h0M427.2 443.4h0M447.7 509.4h0M434.0 454.4h0M450.5 509.4h0M443.8 507.7h0M443.3 500.6h0M427.1 436.1h0M436.9 493.0h0M450.8 504.4h0M448.6 509.5h0M441.8 477.9h0M438.2 495.5h0M425.9 466.2h0M433.6 467.6h0M449.2 509.2h0M435.2 467.0h0M428.8 453.2h0M436.0 459.8h0M445.0 508.9h0M444.1 497.3h0M442.6 506.7h0M451.1 509.4h0M444.7 496.1h0M440.2 482.7h0M449.4 487.2h0M442.2 495.6h0M438.0 465.2h0M446.3 507.5h0M430.5 450.4h0M428.5 440.5h0M447.5 506.9h0M446.8 509.4h0M436.8 460.2h0M440.3 493.9h0M446.1 509.5h0M427.7 430.1h0M439.7 488.2h0M431.7 473.3h0M442.1 502.9h0M444.0 504.3h0M447.1 509.4h0M431.2 454.0h0M434.2 471.7h0M448.1 489.5h0M445.4 508.8h0M451.6 504.2h0M449.9 509.3h0M433.3 466.4h0M448.1 488.5h0M425.4 441.5h0M439.3 492.1h0M432.2 455.7h0M431.9 456.5h0M448.8 504.9h0M443.7 482.6h0M439.4 499.9h0M434.8 461.9h0M444.8 506.6h0M442.7 507.3h0M438.2 496.4h0M433.5 461.8h0M444.2 506.8h0M439.1 495.6h0M430.5 468.1h0M431.1 464.9h0M434.3 480.6h0M442.1 506.4h0M431.3 461.2h0M450.1 505.0h0M442.0 504.7h0M426.5 445.1h0M444.6 479.1h0M448.3 500.2h0M442.9 496.3h0M446.5 508.8h0M449.1 507.9h0M444.1 493.3h0M441.1 468.8h0M433.8 467.9h0M433.5 459.2h0M445.8 505.0h0M443.6 497.8h0M425.8 446.8h0M447.3 484.5h0M443.6 491.5h0M448.7 509.5h0M440.2 473.6h0M433.9 470.1h0M437.2 480.7h0M438.2 497.1h0M444.2 500.2h0M445.7 497.2h0M429.9 449.8h0M446.0 489.4h0M443.7 470.6h0M426.6 444.9h0M452.3 493.3h0M432.3 461.1h0M452.5 507.4h0M446.9 508.3h0M426.0 446.0h0M445.1 509.6h0M435.1 464.4h0M424.7 433.6h0M433.1 466.4h0M449.6 509.4h0M433.9 463.8h0M442.8 491.9h0M447.9 507.4h0M440.3 491.9h0M441.9 481.1h0M436.9 502.6h0M449.0 493.8h0M448.6 502.1h0M427.0 439.9h0M436.4 485.3h0M434.3 482.9h0M436.3 476.4h0M451.0 507.8h0M433.2 458.7h0M444.8 487.6h0M439.5 490.1h0M435.0 458.9h0M447.6 506.5h0M444.6 509.4h0M439.9 488.1h0M437.8 487.8h0M449.5 509.6h0M443.1 502.2h0M450.9 509.4h0M426.8 444.4h0M426.3 437.5h0M446.2 508.2h0M446.3 503.3h0M434.6 449.7h0M432.5 461.3h0M426.3 434.1h0M446.1 501.4h0M437.9 481.5h0M450.3 501.1h0M448.8 509.4h0M444.3 504.2h0M450.4 508.5h0M449.4 508.4h0M437.0 472.1h0M450.5 508.1h0M430.0 445.4h0M440.1 493.4h0M449.8 507.4h0M443.1 477.6h0M445.0 495.8h0M441.4 474.3h0M445.7 497.3h0M445.5 507.7h0M425.8 446.7h0M447.1 485.3h0M448.7 503.6h0M432.9 486.1h0M445.0 488.5h0M436.8 478.6h0M446.5 509.5h0M444.9 496.8h0M434.8 460.5h0M430.4 453.7h0M447.7 509.5h0M447.8 500.8h0M447.1 501.8h0M423.9 432.1h0M452.9 509.3h0M445.0 499.3h0M432.3 461.0h0M450.4 500.9h0M439.2 496.2h0M437.0 474.2h0M431.0 477.3h0M449.7 502.9h0M434.8 463.5h0M440.4 466.3h0M432.7 498.0h0M430.8 452.2h0M445.7 506.9h0M438.2 472.6h0M437.4 475.2h0M433.0 460.6h0M442.0 483.3h0M446.8 507.6h0M433.6 486.3h0M436.6 497.8h0M438.8 476.7h0M443.0 498.7h0M446.0 507.2h0M447.0 493.9h0M446.8 498.2h0M438.6 488.4h0M443.2 509.3h0M445.7 508.0h0M437.0 499.9h0M440.3 490.9h0M447.0 508.4h0M440.9 478.1h0M432.5 454.9h0M431.9 473.0h0M442.7 508.7h0M441.6 503.7h0M446.6 509.4h0M444.3 505.0h0M436.3 485.5h0M442.2 504.3h0M447.6 495.2h0M440.1 492.6h0M432.1 472.5h0M442.3 500.3h0M425.6 449.6h0M433.2 459.6h0M449.0 508.5h0M447.4 508.7h0M428.9 450.6h0M445.0 508.9h0M432.3 457.8h0M431.7 455.4h0M438.8 476.3h0M442.2 506.2h0M434.3 484.2h0M443.2 478.7h0M427.3 438.4h0M441.3 496.8h0M431.2 456.4h0M427.4 430.7h0M427.7 446.2h0M429.4 454.9h0M447.0 509.3h0M434.4 455.2h0M444.5 507.9h0M434.2 477.4h0M430.7 454.3h0M442.2 505.7h0M437.7 497.5h0M438.4 498.9h0M427.4 430.7h0M433.8 466.8h0M446.0 503.8h0M448.6 508.7h0M441.7 498.0h0M447.2 502.3h0M427.3 458.3h0M441.2 484.3h0M454.8 509.6h0M440.1 501.0h0M446.6 506.3h0M451.0 509.2h0M431.7 452.9h0M436.5 497.1h0M443.8 509.6h0M446.2 509.6h0M443.7 488.6h0M444.8 509.6h0M440.5 497.5h0M438.9 490.0h0M433.0 469.4h0M443.6 505.8h0M449.8 478.9h0M433.6 472.8h0M442.4 505.2h0M446.3 494.0h0M445.4 508.2h0M446.1 500.8h0M429.2 453.9h0M428.4 438.6h0M443.3 509.2h0M438.2 477.6h0M443.4 502.1h0M438.6 498.2h0M429.0 458.4h0M437.3 475.5h0M441.9 500.2h0M440.4 500.4h0M433.8 469.0h0M449.6 508.1h0M446.0 508.0h0M435.2 463.0h0M447.8 504.8h0M447.0 509.2h0M430.7 446.2h0M427.1 438.6h0M446.9 505.7h0M423.8 430.7h0M442.2 482.4h0M429.1 440.3h0M436.9 474.6h0M445.7 477.6h0M433.0 447.2h0M442.5 490.8h0M449.4 508.8h0M431.4 451.6h0M432.5 457.5h0M435.3 474.6h0M424.0 433.3h0M431.2 455.7h0M448.7 497.5h0M448.1 509.5h0M430.5 463.8h0M442.2 508.3h0M445.3 505.9h0M431.6 473.0h0M429.4 476.2h0M428.9 446.9h0M434.6 490.8h0M449.8 509.5h0M453.7 509.5h0M447.8 508.0h0M432.8 483.6h0M440.0 472.4h0M427.3 446.8h0M434.1 488.0h0M426.7 446.3h0M425.7 476.4h0M438.6 478.5h0M445.6 508.2h0M447.6 489.8h0M435.7 483.2h0M431.9 460.1h0M426.8 444.8h0M442.1 501.8h0M474.1 508.9h0M487.7 454.7h0M474.3 509.6h0M471.2 508.6h0M472.3 508.9h0M474.8 509.6h0M478.8 486.5h0M484.9 474.9h0M486.7 465.0h0M476.6 499.3h0M476.3 500.9h0M487.3 475.1h0M474.1 504.5h0M474.9 501.0h0M473.9 506.8h0M473.3 509.0h0M471.4 508.7h0M481.9 488.5h0M473.3 504.5h0M475.3 502.3h0M474.1 508.1h0M473.2 507.5h0M482.7 476.6h0M472.7 507.9h0M478.7 490.8h0M474.9 509.3h0M477.7 498.9h0M475.7 501.3h0M474.7 504.8h0M478.2 494.8h0M479.8 473.1h0M482.0 483.5h0M471.1 509.0h0M475.7 508.7h0M490.4 462.9h0M485.9 475.0h0M492.1 465.9h0M474.9 507.7h0M473.5 504.0h0M479.0 500.9h0M477.8 493.7h0M476.2 499.5h0M477.9 491.7h0M478.7 497.4h0M472.7 509.2h0M474.7 501.0h0M479.5 491.6h0M490.6 466.9h0M488.6 479.0h0M472.9 509.5h0M474.2 502.8h0M481.6 476.7h0M486.7 474.1h0M482.4 490.8h0M474.0 509.6h0M477.6 497.4h0M490.2 458.4h0M486.4 465.2h0M476.1 494.2h0M481.2 491.7h0M473.2 507.8h0M471.8 508.0h0M492.4 458.9h0M474.0 506.6h0M481.0 494.5h0M478.8 491.4h0M476.6 491.3h0M471.3 505.4h0M480.1 497.9h0M469.5 509.6h0M479.2 501.8h0M480.2 500.2h0M473.5 496.2h0M472.8 509.6h0M482.5 476.6h0M482.8 479.1h0M474.8 509.1h0M477.3 497.5h0M472.8 507.7h0M476.8 490.4h0M475.3 501.6h0M475.3 509.3h0M490.3 463.3h0M475.0 508.6h0M490.7 468.9h0M476.0 495.9h0M475.0 509.0h0M480.7 488.0h0M475.4 505.5h0M477.5 499.8h0M473.6 509.5h0M482.8 482.6h0M484.2 479.9h0M487.1 473.1h0M485.4 471.1h0M475.2 505.8h0M480.2 488.6h0M484.4 481.9h0M470.7 509.6h0M485.8 480.8h0M474.1 507.1h0M480.8 485.9h0M487.5 463.6h0M479.6 493.0h0M483.5 477.6h0M475.5 501.2h0M477.2 497.9h0M476.7 494.6h0M472.0 504.9h0M479.9 490.4h0M478.3 483.2h0M474.7 503.9h0M479.1 493.8h0M474.1 504.9h0M480.7 495.5h0M476.8 496.5h0M477.2 503.1h0M472.9 509.6h0M472.2 509.3h0M474.2 504.5h0M475.3 501.4h0M476.2 504.7h0M477.7 497.1h0M470.3 509.6h0M479.0 487.1h0M475.3 490.8h0M479.0 497.9h0M486.7 475.6h0M480.6 500.1h0M477.1 500.9h0M471.9 509.5h0M477.0 505.8h0M490.4 456.3h0M476.1 502.5h0M470.5 509.1h0M485.2 476.8h0M475.5 500.6h0M485.6 486.6h0M475.8 502.8h0M484.9 475.5h0M479.4 501.2h0M474.3 509.2h0M473.8 509.5h0M476.7 507.3h0M472.3 507.6h0M484.2 471.1h0M484.9 470.2h0M490.9 454.1h0M487.2 475.1h0M477.3 506.6h0M484.8 486.1h0M480.1 498.6h0M473.8 509.5h0M482.9 478.2h0M474.5 509.3h0M485.1 472.9h0M475.1 507.5h0M475.0 499.6h0M474.4 506.2h0M478.9 493.7h0M473.2 508.6h0M484.2 467.9h0M472.0 508.8h0M483.0 490.9h0M477.4 496.4h0M489.9 455.9h0M483.9 474.8h0M483.5 476.7h0M476.0 500.6h0M479.0 494.4h0M482.0 483.0h0M493.2 456.8h0M475.4 502.0h0M478.7 491.6h0M491.7 458.1h0M481.1 477.8h0M486.9 477.2h0M477.4 502.2h0M482.5 484.4h0M481.0 487.4h0M479.1 486.2h0M478.3 496.2h0M476.9 498.5h0M473.2 509.6h0M471.2 507.1h0M489.5 455.7h0M475.0 508.0h0M476.4 505.7h0M480.5 485.8h0M472.2 506.1h0M499.0 490.4h0M451.2 508.7h0M444.8 508.2h0M422.6 486.8h0M424.5 477.6h0" stroke="#c2c2c2" stroke-width="1.8" stroke-linecap="round" fill="none"/><path d="M420.8 382.8h0M421.1 409.1h0M410.9 418.1h0M418.1 420.8h0M416.9 422.3h0M417.2 424.7h0M421.1 429.8h0M421.1 439.9h0M421.1 448.6h0M421.7 450.1h0M421.1 452.2h0M420.2 453.7h0M417.8 457.0h0" stroke="#1230f0" stroke-width="2.3" stroke-linecap="round" fill="none"/><rect x="406.9" y="376.9" width="21.8" height="85" fill="none" stroke="#366fa8" stroke-width="1.15"/><path d="M428.7,376.9 L540.5,361.5 M428.7,461.9 L540.5,530" stroke="#366fa8" stroke-width="1.15" fill="none"/><rect x="540.5" y="361.5" width="127.0" height="168.5" fill="#fff" stroke="#366fa8" stroke-width="1.2"/><rect x="573.7" y="364.7" width="91.69999999999993" height="149.59999999999997" fill="#fff" stroke="#bdbdbd" stroke-width="0.5"/><path d="M585.0,365.0 V514.0" stroke="#f0f0f0" stroke-width="0.5"/><path d="M602.2,365.0 V514.0" stroke="#f0f0f0" stroke-width="0.5"/><path d="M619.4,365.0 V514.0" stroke="#f0f0f0" stroke-width="0.5"/><path d="M636.6,365.0 V514.0" stroke="#f0f0f0" stroke-width="0.5"/><path d="M653.8,365.0 V514.0" stroke="#f0f0f0" stroke-width="0.5"/><clipPath id="cpR"><rect x="541.1" y="361.5" width="127.0" height="168.5"/></clipPath><g clip-path="url(#cpR)"><rect x="618.0" y="366.45" width="35.8" height="7.70" fill="#0b24fb"/><text x="571.6" y="372.6" font-size="6.5" text-anchor="end" textLength="24.6" lengthAdjust="spacingAndGlyphs" fill="#404040">UQCR11</text><path d="M572.5,370.3 H573.7" stroke="#777" stroke-width="0.35"/><rect x="614.6" y="375.71" width="39.2" height="7.70" fill="#0b24fb"/><text x="571.6" y="381.9" font-size="6.5" text-anchor="end" textLength="12.0" lengthAdjust="spacingAndGlyphs" fill="#404040">TTR</text><path d="M572.5,379.6 H573.7" stroke="#777" stroke-width="0.35"/><rect x="618.0" y="384.97" width="35.8" height="7.70" fill="#0b24fb"/><text x="571.6" y="391.2" font-size="6.5" text-anchor="end" textLength="30.9" lengthAdjust="spacingAndGlyphs" fill="#404040">SERPINC1</text><path d="M572.5,388.8 H573.7" stroke="#777" stroke-width="0.35"/><rect x="618.0" y="394.23" width="35.8" height="7.70" fill="#0b24fb"/><text x="571.6" y="400.4" font-size="6.5" text-anchor="end" textLength="16.8" lengthAdjust="spacingAndGlyphs" fill="#404040">PON1</text><path d="M572.5,398.1 H573.7" stroke="#777" stroke-width="0.35"/><rect x="615.3" y="403.49" width="38.5" height="7.70" fill="#0b24fb"/><text x="571.6" y="409.7" font-size="6.5" text-anchor="end" textLength="17.8" lengthAdjust="spacingAndGlyphs" fill="#404040">ORM1</text><path d="M572.5,407.3 H573.7" stroke="#777" stroke-width="0.35"/><rect x="617.7" y="412.75" width="36.1" height="7.70" fill="#0b24fb"/><text x="571.6" y="418.9" font-size="6.5" text-anchor="end" textLength="16.8" lengthAdjust="spacingAndGlyphs" fill="#404040">MT1H</text><path d="M572.5,416.6 H573.7" stroke="#777" stroke-width="0.35"/><rect x="609.1" y="422.01" width="44.7" height="7.70" fill="#0b24fb"/><text x="571.6" y="428.2" font-size="6.5" text-anchor="end" textLength="17.2" lengthAdjust="spacingAndGlyphs" fill="#404040">MT1G</text><path d="M572.5,425.9 H573.7" stroke="#777" stroke-width="0.35"/><rect x="618.0" y="431.27" width="35.8" height="7.70" fill="#0b24fb"/><text x="571.6" y="437.5" font-size="6.5" text-anchor="end" textLength="16.1" lengthAdjust="spacingAndGlyphs" fill="#404040">LRG1</text><path d="M572.5,435.1 H573.7" stroke="#777" stroke-width="0.35"/><rect x="614.6" y="440.53" width="39.2" height="7.70" fill="#0b24fb"/><text x="571.6" y="446.7" font-size="6.5" text-anchor="end" textLength="12.7" lengthAdjust="spacingAndGlyphs" fill="#404040">HPX</text><path d="M572.5,444.4 H573.7" stroke="#777" stroke-width="0.35"/><rect x="580.5" y="449.79" width="73.3" height="7.70" fill="#0b24fb"/><text x="571.6" y="456.0" font-size="6.5" text-anchor="end" textLength="17.8" lengthAdjust="spacingAndGlyphs" fill="#404040">HAMP</text><path d="M572.5,453.6 H573.7" stroke="#777" stroke-width="0.35"/><rect x="618.4" y="459.05" width="35.4" height="7.70" fill="#0b24fb"/><text x="571.6" y="465.2" font-size="6.5" text-anchor="end" textLength="12.7" lengthAdjust="spacingAndGlyphs" fill="#404040">CTH</text><path d="M572.5,462.9 H573.7" stroke="#777" stroke-width="0.35"/><rect x="618.0" y="468.31" width="35.8" height="7.70" fill="#0b24fb"/><text x="571.6" y="474.5" font-size="6.5" text-anchor="end" textLength="15.8" lengthAdjust="spacingAndGlyphs" fill="#404040">CD14</text><path d="M572.5,472.2 H573.7" stroke="#777" stroke-width="0.35"/><rect x="618.7" y="477.57" width="35.1" height="7.70" fill="#0b24fb"/><text x="571.6" y="483.8" font-size="6.5" text-anchor="end" textLength="19.8" lengthAdjust="spacingAndGlyphs" fill="#404040">C4BPA</text><path d="M572.5,481.4 H573.7" stroke="#777" stroke-width="0.35"/><rect x="614.9" y="486.83" width="38.9" height="7.70" fill="#0b24fb"/><text x="571.6" y="493.0" font-size="6.5" text-anchor="end" textLength="20.2" lengthAdjust="spacingAndGlyphs" fill="#404040">AZGP1</text><path d="M572.5,490.7 H573.7" stroke="#777" stroke-width="0.35"/><rect x="618.0" y="496.09" width="35.8" height="7.70" fill="#0b24fb"/><text x="571.6" y="502.3" font-size="6.5" text-anchor="end" textLength="15.8" lengthAdjust="spacingAndGlyphs" fill="#404040">ASS1</text><path d="M572.5,499.9 H573.7" stroke="#777" stroke-width="0.35"/><rect x="616.0" y="505.35" width="37.8" height="7.70" fill="#0b24fb"/><text x="571.6" y="511.5" font-size="6.5" text-anchor="end" textLength="17.5" lengthAdjust="spacingAndGlyphs" fill="#404040">AMBP</text><path d="M572.5,509.2 H573.7" stroke="#777" stroke-width="0.35"/></g><path d="M619.4,364.7 V514.3" stroke="#111" stroke-width="0.5"/><text x="585.0" y="521.3" font-size="6" text-anchor="middle" fill="#4d4d4d">-2.0</text><text x="602.2" y="521.3" font-size="6" text-anchor="middle" fill="#4d4d4d">-1.5</text><text x="619.4" y="521.3" font-size="6" text-anchor="middle" fill="#4d4d4d">-1.0</text><text x="636.6" y="521.3" font-size="6" text-anchor="middle" fill="#4d4d4d">-0.5</text><text x="653.8" y="521.3" font-size="6" text-anchor="middle" fill="#4d4d4d">0.0</text><text x="586.3" y="528.5" font-size="8.3" textLength="65.2" lengthAdjust="spacingAndGlyphs" fill="#111">Log2 Fold-Change</text></g><g id="panelD"><text x="63.1" y="590.6" font-size="12.9" font-weight="bold" textLength="7.4" lengthAdjust="spacingAndGlyphs" fill="#000">D</text><text x="303.5" y="595.1" font-size="14.8" textLength="96.5" lengthAdjust="spacingAndGlyphs" fill="#000">SNAP vs OCT</text><text x="238.9" y="613.8" font-size="15.8" textLength="50.3" lengthAdjust="spacingAndGlyphs" fill="#000">Normal</text><text x="416.5" y="615.2" font-size="14.6" textLength="19.1" lengthAdjust="spacingAndGlyphs" fill="#000">BA</text><text x="221.3" y="631.0" font-size="10.7" text-anchor="end" textLength="117.0" lengthAdjust="spacingAndGlyphs" fill="#505050">Oxidative phosphorylation</text><text x="221.3" y="643.9" font-size="10.7" text-anchor="end" textLength="34.5" lengthAdjust="spacingAndGlyphs" fill="#505050">MAFLD</text><text x="221.3" y="656.8" font-size="10.7" text-anchor="end" textLength="70.1" lengthAdjust="spacingAndGlyphs" fill="#505050">Thermogenesis</text><text x="221.3" y="669.7" font-size="10.7" text-anchor="end" textLength="111.3" lengthAdjust="spacingAndGlyphs" fill="#505050">Diabetic cardiomyopathy</text><text x="221.3" y="682.6" font-size="10.7" text-anchor="end" textLength="112.4" lengthAdjust="spacingAndGlyphs" fill="#505050">Reactive oxygen species</text><text x="221.3" y="695.5" font-size="10.7" text-anchor="end" textLength="83.1" lengthAdjust="spacingAndGlyphs" fill="#505050">Parkinson disease</text><text x="221.3" y="708.4" font-size="10.7" text-anchor="end" textLength="61.6" lengthAdjust="spacingAndGlyphs" fill="#505050">Prion disease</text><text x="221.3" y="721.4" font-size="10.7" text-anchor="end" textLength="53.7" lengthAdjust="spacingAndGlyphs" fill="#505050">Peroxisome</text><text x="221.3" y="734.3" font-size="10.7" text-anchor="end" textLength="20.9" lengthAdjust="spacingAndGlyphs" fill="#505050">RES</text><text x="221.3" y="747.2" font-size="10.7" text-anchor="end" textLength="54.8" lengthAdjust="spacingAndGlyphs" fill="#505050">Proteasome</text><text x="221.3" y="760.1" font-size="10.7" text-anchor="end" textLength="100.6" lengthAdjust="spacingAndGlyphs" fill="#505050">Spinocerebellar ataxia</text><path d="M258.1,620 V763" stroke="#f2f2f2" stroke-width="0.8"/><path d="M287.0,620 V763" stroke="#f2f2f2" stroke-width="0.8"/><path d="M315.9,620 V763" stroke="#f2f2f2" stroke-width="0.8"/><path d="M344.8,620 V763" stroke="#f2f2f2" stroke-width="0.8"/><path d="M359.0,620 V763" stroke="#f2f2f2" stroke-width="0.8"/><path d="M387.8,620 V763" stroke="#f2f2f2" stroke-width="0.8"/><path d="M416.7,620 V763" stroke="#f2f2f2" stroke-width="0.8"/><path d="M445.5,620 V763" stroke="#f2f2f2" stroke-width="0.8"/><path d="M474.4,620 V763" stroke="#f2f2f2" stroke-width="0.8"/><text x="243.7" y="773.8" font-size="10" text-anchor="middle" fill="#4d4d4d">2</text><text x="373.4" y="773.8" font-size="10" text-anchor="middle" fill="#4d4d4d">2</text><text x="272.6" y="773.8" font-size="10" text-anchor="middle" fill="#4d4d4d">4</text><text x="402.3" y="773.8" font-size="10" text-anchor="middle" fill="#4d4d4d">4</text><text x="301.5" y="773.8" font-size="10" text-anchor="middle" fill="#4d4d4d">6</text><text x="431.1" y="773.8" font-size="10" text-anchor="middle" fill="#4d4d4d">6</text><text x="330.4" y="773.8" font-size="10" text-anchor="middle" fill="#4d4d4d">8</text><text x="460.0" y="773.8" font-size="10" text-anchor="middle" fill="#4d4d4d">8</text><text x="306.6" y="787.0" font-size="12.9" textLength="91.9" lengthAdjust="spacingAndGlyphs" fill="#000">Fold Enrichment</text><circle cx="271.5" cy="627.3" r="2.5" fill="#a60f0f"/><circle cx="270.6" cy="640.2" r="2.7" fill="#e0271a"/><circle cx="254.5" cy="653.1" r="2.9" fill="#e62a1c"/><circle cx="260.8" cy="666.0" r="3.0" fill="#ad1410"/><circle cx="263.5" cy="678.9" r="3.0" fill="#df2213"/><circle cx="265.7" cy="691.8" r="3.4" fill="#e8291c"/><circle cx="260.8" cy="704.8" r="3.4" fill="#e8291c"/><circle cx="246.0" cy="730.6" r="2.0" fill="#f7b0a2"/><circle cx="288.0" cy="743.5" r="1.5" fill="#7d0000"/><circle cx="253.6" cy="756.4" r="2.2" fill="#f8b9ab"/><circle cx="463.1" cy="627.3" r="2.0" fill="#e02313"/><circle cx="441.6" cy="640.2" r="2.0" fill="#e83020"/><circle cx="416.9" cy="653.1" r="2.2" fill="#ee2a1a"/><circle cx="429.9" cy="666.0" r="2.2" fill="#f04232"/><circle cx="433.9" cy="678.9" r="2.2" fill="#f04232"/><circle cx="427.7" cy="691.8" r="2.3" fill="#f26252"/><circle cx="422.3" cy="704.8" r="2.4" fill="#f8a595"/><circle cx="419.6" cy="717.7" r="1.2" fill="#f0d2d0"/><circle cx="396.7" cy="730.6" r="1.5" fill="#f2caca"/><circle cx="404.8" cy="743.5" r="0.8" fill="#f0e2e2"/><text x="488.7" y="645.1" font-size="10.3" textLength="35.3" lengthAdjust="spacingAndGlyphs" fill="#000"># genes</text><circle cx="492.7" cy="655.5" r="1.6" fill="none" stroke="#8a8a8a" stroke-width="0.5"/><text x="501.7" y="658.6" font-size="8.3" fill="#222">50</text><circle cx="492.7" cy="664.1" r="2.4" fill="none" stroke="#8a8a8a" stroke-width="0.5"/><text x="501.7" y="667.2" font-size="8.3" fill="#222">100</text><circle cx="492.7" cy="673" r="3.2" fill="none" stroke="#8a8a8a" stroke-width="0.5"/><text x="501.7" y="676.1" font-size="8.3" fill="#222">150</text><text x="488.7" y="697.1" font-size="10.3" textLength="53.3" lengthAdjust="spacingAndGlyphs" fill="#000">-log10(pval)</text><defs><linearGradient id="cb" x1="0" y1="0" x2="0" y2="1"><stop offset="0" stop-color="#8b0000"/><stop offset="0.2" stop-color="#c41208"/><stop offset="0.4" stop-color="#f0281a"/><stop offset="0.62" stop-color="#f79a8c"/><stop offset="0.8" stop-color="#ecd6d4"/><stop offset="1" stop-color="#d6d6d6"/></linearGradient></defs><rect x="488.7" y="702.6" width="8.5" height="43.4" fill="url(#cb)"/><text x="501.7" y="720.8" font-size="8.3" fill="#222">60</text><text x="501.7" y="735.9" font-size="8.3" fill="#222">40</text></g>
</svg>
</body></html>
